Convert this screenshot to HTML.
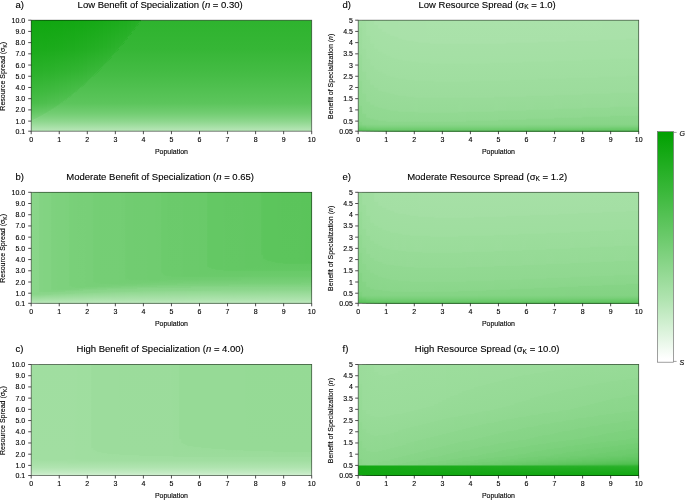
<!DOCTYPE html>
<html><head><meta charset="utf-8"><title>Figure</title>
<style>html,body{margin:0;padding:0;background:#fff}svg{display:block}</style></head>
<body><svg width="685" height="500" viewBox="0 0 685 500" font-family="Liberation Sans, Arial, Helvetica, sans-serif" fill="#000">
<rect width="685" height="500" fill="#fff"/>
<defs><linearGradient id="g0" x2="0" y2="1"><stop offset="0" stop-color="#2eb32e"/><stop offset="0.261" stop-color="#36b636"/><stop offset="0.486" stop-color="#45bc45"/><stop offset="0.748" stop-color="#5cc55c"/><stop offset="0.838" stop-color="#72cd72"/><stop offset="0.883" stop-color="#82d382"/><stop offset="0.919" stop-color="#91d891"/><stop offset="1" stop-color="#bae7ba"/></linearGradient>
<clipPath id="ca"><path d="M31.20 20.20L141.10 20.20L140.36 21.21L139.61 22.22L138.86 23.23L138.10 24.24L137.34 25.25L136.58 26.25L135.81 27.26L135.04 28.27L134.27 29.28L133.49 30.29L132.71 31.30L131.93 32.31L131.14 33.32L130.35 34.33L129.55 35.34L128.75 36.35L127.95 37.35L127.14 38.36L126.33 39.37L125.51 40.38L124.69 41.39L123.86 42.40L123.03 43.41L122.20 44.42L121.36 45.43L120.52 46.44L119.67 47.45L118.81 48.45L117.96 49.46L117.09 50.47L116.22 51.48L115.35 52.49L114.47 53.50L113.59 54.51L112.70 55.52L111.80 56.53L110.90 57.54L109.99 58.55L109.08 59.55L108.16 60.56L107.23 61.57L106.30 62.58L105.36 63.59L104.42 64.60L103.47 65.61L102.51 66.62L101.54 67.63L100.57 68.64L99.59 69.65L98.60 70.65L97.60 71.66L96.60 72.67L95.59 73.68L94.57 74.69L93.54 75.70L92.50 76.71L91.46 77.72L90.40 78.73L89.34 79.74L88.26 80.75L87.18 81.75L86.08 82.76L84.98 83.77L83.86 84.78L82.74 85.79L81.60 86.80L80.45 87.81L79.29 88.82L78.11 89.83L76.92 90.84L75.72 91.85L74.51 92.85L73.27 93.86L72.03 94.87L70.77 95.88L69.49 96.89L68.20 97.90L66.89 98.91L65.56 99.92L64.21 100.93L62.84 101.94L61.45 102.95L60.04 103.95L58.61 104.96L57.15 105.97L55.67 106.98L54.16 107.99L52.63 109.00L51.06 110.01L49.46 111.02L47.83 112.03L46.17 113.04L44.46 114.05L42.72 115.05L40.93 116.06L39.10 117.07L37.21 118.08L35.27 119.09L33.27 120.10L31.20 121.11L31.20 121.11Z"/></clipPath>
<linearGradient id="g1" x2="0" y2="1"><stop offset="0" stop-color="#10a610"/><stop offset="0.261" stop-color="#1aab1a"/><stop offset="0.468" stop-color="#2ab12a"/><stop offset="0.649" stop-color="#3eb93e"/><stop offset="0.748" stop-color="#4bbe4b"/><stop offset="0.829" stop-color="#63c763"/><stop offset="0.874" stop-color="#74ce74"/><stop offset="0.937" stop-color="#93d993"/><stop offset="1" stop-color="#b2e5b2"/></linearGradient>
<linearGradient id="g2" x2="0" y2="1"><stop offset="0" stop-color="#10a610"/><stop offset="0.261" stop-color="#1aab1a"/><stop offset="0.468" stop-color="#2bb12b"/><stop offset="0.649" stop-color="#3fb93f"/><stop offset="0.748" stop-color="#4cbe4c"/><stop offset="0.829" stop-color="#64c864"/><stop offset="0.874" stop-color="#76ce76"/><stop offset="0.919" stop-color="#89d689"/><stop offset="1" stop-color="#b2e5b2"/></linearGradient>
<linearGradient id="g3" x2="0" y2="1"><stop offset="0" stop-color="#10a710"/><stop offset="0.261" stop-color="#1bab1b"/><stop offset="0.468" stop-color="#2bb12b"/><stop offset="0.649" stop-color="#3fba3f"/><stop offset="0.748" stop-color="#4dbf4d"/><stop offset="0.829" stop-color="#65c865"/><stop offset="0.919" stop-color="#89d689"/><stop offset="1" stop-color="#b2e5b2"/></linearGradient>
<linearGradient id="g4" x2="0" y2="1"><stop offset="0" stop-color="#10a710"/><stop offset="0.252" stop-color="#1aab1a"/><stop offset="0.468" stop-color="#2cb22c"/><stop offset="0.649" stop-color="#40ba40"/><stop offset="0.748" stop-color="#4ebf4e"/><stop offset="0.829" stop-color="#66c966"/><stop offset="0.892" stop-color="#7dd17d"/><stop offset="0.919" stop-color="#89d689"/><stop offset="1" stop-color="#b2e5b2"/></linearGradient>
<linearGradient id="g5" x2="0" y2="1"><stop offset="0" stop-color="#10a710"/><stop offset="0.252" stop-color="#1bab1b"/><stop offset="0.468" stop-color="#2cb22c"/><stop offset="0.649" stop-color="#41ba41"/><stop offset="0.748" stop-color="#50c050"/><stop offset="0.865" stop-color="#73cd73"/><stop offset="0.919" stop-color="#89d689"/><stop offset="1" stop-color="#b2e5b2"/></linearGradient>
<linearGradient id="g6" x2="0" y2="1"><stop offset="0" stop-color="#11a711"/><stop offset="0.252" stop-color="#1bab1b"/><stop offset="0.468" stop-color="#2db22d"/><stop offset="0.64" stop-color="#41ba41"/><stop offset="0.748" stop-color="#51c051"/><stop offset="0.865" stop-color="#73cd73"/><stop offset="0.919" stop-color="#89d689"/><stop offset="1" stop-color="#b2e5b2"/></linearGradient>
<linearGradient id="g7" x2="0" y2="1"><stop offset="0" stop-color="#11a711"/><stop offset="0.252" stop-color="#1cab1c"/><stop offset="0.468" stop-color="#2eb32e"/><stop offset="0.64" stop-color="#42bb42"/><stop offset="0.748" stop-color="#52c152"/><stop offset="0.847" stop-color="#6dcb6d"/><stop offset="0.91" stop-color="#85d485"/><stop offset="1" stop-color="#b2e5b2"/></linearGradient>
<linearGradient id="g8" x2="0" y2="1"><stop offset="0" stop-color="#11a711"/><stop offset="0.252" stop-color="#1cac1c"/><stop offset="0.468" stop-color="#2fb32f"/><stop offset="0.64" stop-color="#4b4"/><stop offset="0.757" stop-color="#56c256"/><stop offset="0.838" stop-color="#6aca6a"/><stop offset="0.883" stop-color="#7ad07a"/><stop offset="0.919" stop-color="#89d689"/><stop offset="1" stop-color="#b2e5b2"/></linearGradient>
<linearGradient id="g9" x2="0" y2="1"><stop offset="0" stop-color="#12a712"/><stop offset="0.252" stop-color="#1dac1d"/><stop offset="0.468" stop-color="#30b330"/><stop offset="0.64" stop-color="#45bc45"/><stop offset="0.757" stop-color="#56c256"/><stop offset="0.838" stop-color="#6aca6a"/><stop offset="0.883" stop-color="#7ad07a"/><stop offset="0.919" stop-color="#89d689"/><stop offset="1" stop-color="#b2e5b2"/></linearGradient>
<linearGradient id="g10" x2="0" y2="1"><stop offset="0" stop-color="#12a712"/><stop offset="0.252" stop-color="#1eac1e"/><stop offset="0.459" stop-color="#30b330"/><stop offset="0.631" stop-color="#45bc45"/><stop offset="0.712" stop-color="#51c051"/><stop offset="0.757" stop-color="#56c256"/><stop offset="0.838" stop-color="#6aca6a"/><stop offset="0.883" stop-color="#7ad07a"/><stop offset="0.919" stop-color="#89d689"/><stop offset="1" stop-color="#b2e5b2"/></linearGradient>
<linearGradient id="g11" x2="0" y2="1"><stop offset="0" stop-color="#12a812"/><stop offset="0.252" stop-color="#1eac1e"/><stop offset="0.459" stop-color="#31b431"/><stop offset="0.694" stop-color="#4fc04f"/><stop offset="0.748" stop-color="#54c254"/><stop offset="0.838" stop-color="#6aca6a"/><stop offset="0.883" stop-color="#7ad07a"/><stop offset="0.919" stop-color="#89d689"/><stop offset="1" stop-color="#b2e5b2"/></linearGradient>
<linearGradient id="g12" x2="0" y2="1"><stop offset="0" stop-color="#13a813"/><stop offset="0.252" stop-color="#1fad1f"/><stop offset="0.459" stop-color="#32b432"/><stop offset="0.667" stop-color="#4dbf4d"/><stop offset="0.748" stop-color="#54c254"/><stop offset="0.838" stop-color="#6aca6a"/><stop offset="0.883" stop-color="#7ad07a"/><stop offset="0.919" stop-color="#89d689"/><stop offset="1" stop-color="#b2e5b2"/></linearGradient>
<linearGradient id="g13" x2="0" y2="1"><stop offset="0" stop-color="#13a813"/><stop offset="0.252" stop-color="#20ad20"/><stop offset="0.459" stop-color="#33b533"/><stop offset="0.631" stop-color="#49bd49"/><stop offset="0.748" stop-color="#54c254"/><stop offset="0.838" stop-color="#6aca6a"/><stop offset="0.883" stop-color="#7ad07a"/><stop offset="0.919" stop-color="#89d689"/><stop offset="1" stop-color="#b2e5b2"/></linearGradient>
<linearGradient id="g14" x2="0" y2="1"><stop offset="0" stop-color="#14a814"/><stop offset="0.252" stop-color="#21ad21"/><stop offset="0.459" stop-color="#35b535"/><stop offset="0.595" stop-color="#46bc46"/><stop offset="0.748" stop-color="#54c254"/><stop offset="0.838" stop-color="#6aca6a"/><stop offset="0.883" stop-color="#7ad07a"/><stop offset="0.919" stop-color="#89d689"/><stop offset="1" stop-color="#b2e5b2"/></linearGradient>
<linearGradient id="g15" x2="0" y2="1"><stop offset="0" stop-color="#15a815"/><stop offset="0.252" stop-color="#22ae22"/><stop offset="0.459" stop-color="#37b637"/><stop offset="0.559" stop-color="#43bb43"/><stop offset="0.748" stop-color="#54c254"/><stop offset="0.838" stop-color="#6aca6a"/><stop offset="0.883" stop-color="#7ad07a"/><stop offset="0.919" stop-color="#89d689"/><stop offset="1" stop-color="#b2e5b2"/></linearGradient>
<linearGradient id="g16" x2="0" y2="1"><stop offset="0" stop-color="#15a915"/><stop offset="0.252" stop-color="#23ae23"/><stop offset="0.45" stop-color="#37b637"/><stop offset="0.532" stop-color="#41ba41"/><stop offset="0.748" stop-color="#54c254"/><stop offset="0.838" stop-color="#6aca6a"/><stop offset="0.883" stop-color="#7ad07a"/><stop offset="0.919" stop-color="#89d689"/><stop offset="1" stop-color="#b2e5b2"/></linearGradient>
<linearGradient id="g17" x2="0" y2="1"><stop offset="0" stop-color="#16a916"/><stop offset="0.252" stop-color="#24af24"/><stop offset="0.505" stop-color="#3eb93e"/><stop offset="0.748" stop-color="#54c254"/><stop offset="0.838" stop-color="#6aca6a"/><stop offset="0.883" stop-color="#7ad07a"/><stop offset="0.919" stop-color="#89d689"/><stop offset="1" stop-color="#b2e5b2"/></linearGradient>
<linearGradient id="g18" x2="0" y2="1"><stop offset="0" stop-color="#17a917"/><stop offset="0.243" stop-color="#25af25"/><stop offset="0.477" stop-color="#3cb83c"/><stop offset="0.739" stop-color="#53c153"/><stop offset="0.793" stop-color="#5fc65f"/><stop offset="0.847" stop-color="#6dcb6d"/><stop offset="0.91" stop-color="#85d485"/><stop offset="1" stop-color="#b2e5b2"/></linearGradient>
<linearGradient id="g19" x2="0" y2="1"><stop offset="0" stop-color="#18aa18"/><stop offset="0.243" stop-color="#26b026"/><stop offset="0.414" stop-color="#38b638"/><stop offset="0.676" stop-color="#4dbf4d"/><stop offset="0.748" stop-color="#54c254"/><stop offset="0.838" stop-color="#6aca6a"/><stop offset="0.883" stop-color="#7ad07a"/><stop offset="0.919" stop-color="#89d689"/><stop offset="1" stop-color="#b2e5b2"/></linearGradient>
<linearGradient id="g20" x2="0" y2="1"><stop offset="0" stop-color="#19aa19"/><stop offset="0.243" stop-color="#28b028"/><stop offset="0.378" stop-color="#35b635"/><stop offset="0.649" stop-color="#4bbe4b"/><stop offset="0.748" stop-color="#54c254"/><stop offset="0.838" stop-color="#6aca6a"/><stop offset="0.883" stop-color="#7ad07a"/><stop offset="0.919" stop-color="#89d689"/><stop offset="1" stop-color="#b2e5b2"/></linearGradient>
<linearGradient id="g21" x2="0" y2="1"><stop offset="0" stop-color="#1aab1a"/><stop offset="0.243" stop-color="#2ab12a"/><stop offset="0.342" stop-color="#33b533"/><stop offset="0.541" stop-color="#41ba41"/><stop offset="0.748" stop-color="#54c254"/><stop offset="0.838" stop-color="#6aca6a"/><stop offset="0.883" stop-color="#7ad07a"/><stop offset="0.919" stop-color="#89d689"/><stop offset="1" stop-color="#b2e5b2"/></linearGradient>
<linearGradient id="g22" x2="0" y2="1"><stop offset="0" stop-color="#1bab1b"/><stop offset="0.243" stop-color="#2cb22c"/><stop offset="0.333" stop-color="#33b533"/><stop offset="0.532" stop-color="#41ba41"/><stop offset="0.748" stop-color="#54c254"/><stop offset="0.838" stop-color="#6aca6a"/><stop offset="0.883" stop-color="#7ad07a"/><stop offset="0.919" stop-color="#89d689"/><stop offset="1" stop-color="#b2e5b2"/></linearGradient>
<linearGradient id="g23" x2="0" y2="1"><stop offset="0" stop-color="#1dac1d"/><stop offset="0.514" stop-color="#3fb93f"/><stop offset="0.748" stop-color="#54c254"/><stop offset="0.838" stop-color="#6aca6a"/><stop offset="0.883" stop-color="#7ad07a"/><stop offset="0.919" stop-color="#89d689"/><stop offset="1" stop-color="#b2e5b2"/></linearGradient>
<linearGradient id="g24" x2="0" y2="1"><stop offset="0" stop-color="#1eac1e"/><stop offset="0.207" stop-color="#2cb22c"/><stop offset="0.477" stop-color="#3cb83c"/><stop offset="0.739" stop-color="#53c153"/><stop offset="0.793" stop-color="#5fc65f"/><stop offset="0.847" stop-color="#6dcb6d"/><stop offset="0.91" stop-color="#85d485"/><stop offset="1" stop-color="#b2e5b2"/></linearGradient>
<linearGradient id="g25" x2="0" y2="1"><stop offset="0" stop-color="#20ad20"/><stop offset="0.162" stop-color="#2bb12b"/><stop offset="0.297" stop-color="#31b431"/><stop offset="0.495" stop-color="#3eb93e"/><stop offset="0.748" stop-color="#54c254"/><stop offset="0.838" stop-color="#6aca6a"/><stop offset="0.883" stop-color="#7ad07a"/><stop offset="0.919" stop-color="#89d689"/><stop offset="1" stop-color="#b2e5b2"/></linearGradient>
<linearGradient id="g26" x2="0" y2="1"><stop offset="0" stop-color="#22ae22"/><stop offset="0.117" stop-color="#2ab12a"/><stop offset="0.27" stop-color="#2fb32f"/><stop offset="0.495" stop-color="#3eb93e"/><stop offset="0.748" stop-color="#54c254"/><stop offset="0.838" stop-color="#6aca6a"/><stop offset="0.883" stop-color="#7ad07a"/><stop offset="0.919" stop-color="#89d689"/><stop offset="1" stop-color="#b2e5b2"/></linearGradient>
<linearGradient id="g27" x2="0" y2="1"><stop offset="0" stop-color="#24af24"/><stop offset="0.081" stop-color="#29b029"/><stop offset="0.27" stop-color="#2fb32f"/><stop offset="0.495" stop-color="#3eb93e"/><stop offset="0.748" stop-color="#54c254"/><stop offset="0.838" stop-color="#6aca6a"/><stop offset="0.883" stop-color="#7ad07a"/><stop offset="0.919" stop-color="#89d689"/><stop offset="1" stop-color="#b2e5b2"/></linearGradient>
<linearGradient id="g28" x2="0" y2="1"><stop offset="0" stop-color="#26b026"/><stop offset="0.261" stop-color="#2fb32f"/><stop offset="0.486" stop-color="#3db93d"/><stop offset="0.748" stop-color="#54c254"/><stop offset="0.838" stop-color="#6aca6a"/><stop offset="0.883" stop-color="#7ad07a"/><stop offset="0.919" stop-color="#89d689"/><stop offset="1" stop-color="#b2e5b2"/></linearGradient>
<linearGradient id="g29" x2="0" y2="1"><stop offset="0" stop-color="#89d689"/><stop offset="0.919" stop-color="#8ad68a"/><stop offset="0.928" stop-color="#8cd68c"/><stop offset="0.937" stop-color="#94d994"/><stop offset="0.982" stop-color="#afe3af"/><stop offset="1" stop-color="#bfe9bf"/></linearGradient>
<linearGradient id="g30" x2="0" y2="1"><stop offset="0" stop-color="#89d589"/><stop offset="0.91" stop-color="#89d689"/><stop offset="0.919" stop-color="#8ad68a"/><stop offset="0.982" stop-color="#afe3af"/><stop offset="1" stop-color="#bfe9bf"/></linearGradient>
<linearGradient id="g31" x2="0" y2="1"><stop offset="0" stop-color="#88d588"/><stop offset="0.91" stop-color="#89d689"/><stop offset="0.919" stop-color="#8ad68a"/><stop offset="0.982" stop-color="#afe3af"/><stop offset="1" stop-color="#bfe9bf"/></linearGradient>
<linearGradient id="g32" x2="0" y2="1"><stop offset="0" stop-color="#88d588"/><stop offset="0.91" stop-color="#89d589"/><stop offset="0.919" stop-color="#8ad68a"/><stop offset="0.982" stop-color="#afe3af"/><stop offset="1" stop-color="#bfe9bf"/></linearGradient>
<linearGradient id="g33" x2="0" y2="1"><stop offset="0" stop-color="#83d383"/><stop offset="0.892" stop-color="#83d383"/><stop offset="0.901" stop-color="#88d588"/><stop offset="0.919" stop-color="#8ad68a"/><stop offset="0.982" stop-color="#afe3af"/><stop offset="1" stop-color="#bfe9bf"/></linearGradient>
<linearGradient id="g34" x2="0" y2="1"><stop offset="0" stop-color="#83d383"/><stop offset="0.892" stop-color="#83d383"/><stop offset="0.901" stop-color="#88d588"/><stop offset="0.919" stop-color="#8bd68b"/><stop offset="0.964" stop-color="#a5e0a5"/><stop offset="0.982" stop-color="#afe3af"/><stop offset="1" stop-color="#bfe9bf"/></linearGradient>
<linearGradient id="g35" x2="0" y2="1"><stop offset="0" stop-color="#82d382"/><stop offset="0.892" stop-color="#82d382"/><stop offset="0.901" stop-color="#88d588"/><stop offset="0.919" stop-color="#8bd68b"/><stop offset="0.937" stop-color="#96da96"/><stop offset="0.982" stop-color="#b0e4b0"/><stop offset="1" stop-color="#bfe9bf"/></linearGradient>
<linearGradient id="g36" x2="0" y2="1"><stop offset="0" stop-color="#82d382"/><stop offset="0.892" stop-color="#82d382"/><stop offset="0.901" stop-color="#88d588"/><stop offset="0.919" stop-color="#8bd68b"/><stop offset="0.928" stop-color="#92d992"/><stop offset="0.982" stop-color="#b0e4b0"/><stop offset="1" stop-color="#bfe9bf"/></linearGradient>
<linearGradient id="g37" x2="0" y2="1"><stop offset="0" stop-color="#81d381"/><stop offset="0.892" stop-color="#82d382"/><stop offset="0.901" stop-color="#88d588"/><stop offset="0.919" stop-color="#8bd68b"/><stop offset="0.928" stop-color="#93d993"/><stop offset="0.982" stop-color="#b0e4b0"/><stop offset="1" stop-color="#bfe9bf"/></linearGradient>
<linearGradient id="g38" x2="0" y2="1"><stop offset="0" stop-color="#7ed17e"/><stop offset="0.874" stop-color="#7ed17e"/><stop offset="0.883" stop-color="#81d381"/><stop offset="0.892" stop-color="#82d382"/><stop offset="0.901" stop-color="#88d588"/><stop offset="0.919" stop-color="#8cd78c"/><stop offset="0.928" stop-color="#93d993"/><stop offset="0.982" stop-color="#b0e4b0"/><stop offset="1" stop-color="#bfe9bf"/></linearGradient>
<linearGradient id="g39" x2="0" y2="1"><stop offset="0" stop-color="#7ed17e"/><stop offset="0.874" stop-color="#7ed17e"/><stop offset="0.883" stop-color="#81d381"/><stop offset="0.892" stop-color="#82d382"/><stop offset="0.901" stop-color="#88d588"/><stop offset="0.91" stop-color="#8ad68a"/><stop offset="0.982" stop-color="#b0e4b0"/><stop offset="1" stop-color="#bfe9bf"/></linearGradient>
<linearGradient id="g40" x2="0" y2="1"><stop offset="0" stop-color="#7dd17d"/><stop offset="0.874" stop-color="#7ed17e"/><stop offset="0.883" stop-color="#81d381"/><stop offset="0.892" stop-color="#82d382"/><stop offset="0.901" stop-color="#88d588"/><stop offset="0.91" stop-color="#8ad68a"/><stop offset="0.982" stop-color="#b0e4b0"/><stop offset="1" stop-color="#bfe9bf"/></linearGradient>
<linearGradient id="g41" x2="0" y2="1"><stop offset="0" stop-color="#7dd17d"/><stop offset="0.874" stop-color="#7dd17d"/><stop offset="0.883" stop-color="#81d381"/><stop offset="0.892" stop-color="#82d382"/><stop offset="0.901" stop-color="#89d589"/><stop offset="0.91" stop-color="#8ad68a"/><stop offset="0.982" stop-color="#b0e4b0"/><stop offset="1" stop-color="#bfe9bf"/></linearGradient>
<linearGradient id="g42" x2="0" y2="1"><stop offset="0" stop-color="#7dd17d"/><stop offset="0.874" stop-color="#7dd17d"/><stop offset="0.883" stop-color="#81d381"/><stop offset="0.892" stop-color="#83d383"/><stop offset="0.901" stop-color="#89d589"/><stop offset="0.91" stop-color="#8bd68b"/><stop offset="0.982" stop-color="#b1e4b1"/><stop offset="1" stop-color="#bfe9bf"/></linearGradient>
<linearGradient id="g43" x2="0" y2="1"><stop offset="0" stop-color="#7dd17d"/><stop offset="0.874" stop-color="#7dd17d"/><stop offset="0.883" stop-color="#81d381"/><stop offset="0.892" stop-color="#83d383"/><stop offset="0.901" stop-color="#89d689"/><stop offset="0.91" stop-color="#8bd68b"/><stop offset="0.928" stop-color="#95da95"/><stop offset="0.982" stop-color="#b1e4b1"/><stop offset="1" stop-color="#bfe9bf"/></linearGradient>
<linearGradient id="g44" x2="0" y2="1"><stop offset="0" stop-color="#7cd17c"/><stop offset="0.874" stop-color="#7dd17d"/><stop offset="0.892" stop-color="#88d588"/><stop offset="0.91" stop-color="#8bd68b"/><stop offset="0.919" stop-color="#91d991"/><stop offset="0.982" stop-color="#b1e4b1"/><stop offset="1" stop-color="#bfe9bf"/></linearGradient>
<linearGradient id="g45" x2="0" y2="1"><stop offset="0" stop-color="#7cd17c"/><stop offset="0.865" stop-color="#7dd17d"/><stop offset="0.874" stop-color="#7dd17d"/><stop offset="0.892" stop-color="#88d588"/><stop offset="0.91" stop-color="#8bd68b"/><stop offset="0.919" stop-color="#92d992"/><stop offset="0.982" stop-color="#b1e4b1"/><stop offset="1" stop-color="#bfe9bf"/></linearGradient>
<linearGradient id="g46" x2="0" y2="1"><stop offset="0" stop-color="#79d079"/><stop offset="0.838" stop-color="#79d079"/><stop offset="0.847" stop-color="#7cd17c"/><stop offset="0.874" stop-color="#7dd17d"/><stop offset="0.892" stop-color="#88d588"/><stop offset="0.91" stop-color="#8bd68b"/><stop offset="0.919" stop-color="#92d992"/><stop offset="0.982" stop-color="#b1e4b1"/><stop offset="1" stop-color="#bfe9bf"/></linearGradient>
<linearGradient id="g47" x2="0" y2="1"><stop offset="0" stop-color="#79d079"/><stop offset="0.847" stop-color="#79d079"/><stop offset="0.856" stop-color="#7cd17c"/><stop offset="0.874" stop-color="#7ed17e"/><stop offset="0.892" stop-color="#88d588"/><stop offset="0.91" stop-color="#8cd68c"/><stop offset="0.919" stop-color="#92d992"/><stop offset="0.982" stop-color="#b1e4b1"/><stop offset="1" stop-color="#bfe9bf"/></linearGradient>
<linearGradient id="g48" x2="0" y2="1"><stop offset="0" stop-color="#79cf79"/><stop offset="0.847" stop-color="#79d079"/><stop offset="0.856" stop-color="#7cd17c"/><stop offset="0.874" stop-color="#7ed17e"/><stop offset="0.892" stop-color="#88d588"/><stop offset="0.91" stop-color="#8cd78c"/><stop offset="0.919" stop-color="#93d993"/><stop offset="0.982" stop-color="#b2e4b2"/><stop offset="1" stop-color="#bfe9bf"/></linearGradient>
<linearGradient id="g49" x2="0" y2="1"><stop offset="0" stop-color="#79cf79"/><stop offset="0.856" stop-color="#79d079"/><stop offset="0.865" stop-color="#7dd17d"/><stop offset="0.874" stop-color="#7ed17e"/><stop offset="0.892" stop-color="#89d589"/><stop offset="0.901" stop-color="#8ad68a"/><stop offset="0.982" stop-color="#b2e4b2"/><stop offset="1" stop-color="#bfe9bf"/></linearGradient>
<linearGradient id="g50" x2="0" y2="1"><stop offset="0" stop-color="#78cf78"/><stop offset="0.856" stop-color="#79d079"/><stop offset="0.865" stop-color="#7dd17d"/><stop offset="0.874" stop-color="#7ed17e"/><stop offset="0.892" stop-color="#89d589"/><stop offset="0.901" stop-color="#8ad68a"/><stop offset="0.982" stop-color="#b2e4b2"/><stop offset="1" stop-color="#bfe9bf"/></linearGradient>
<linearGradient id="g51" x2="0" y2="1"><stop offset="0" stop-color="#78cf78"/><stop offset="0.856" stop-color="#79d079"/><stop offset="0.874" stop-color="#81d381"/><stop offset="0.883" stop-color="#83d383"/><stop offset="0.892" stop-color="#89d689"/><stop offset="0.901" stop-color="#8bd68b"/><stop offset="0.982" stop-color="#b2e4b2"/><stop offset="1" stop-color="#bfe9bf"/></linearGradient>
<linearGradient id="g52" x2="0" y2="1"><stop offset="0" stop-color="#78cf78"/><stop offset="0.856" stop-color="#79d079"/><stop offset="0.874" stop-color="#82d382"/><stop offset="0.883" stop-color="#88d588"/><stop offset="0.901" stop-color="#8bd68b"/><stop offset="0.919" stop-color="#94da94"/><stop offset="0.982" stop-color="#b2e4b2"/><stop offset="1" stop-color="#bfe9bf"/></linearGradient>
<linearGradient id="g53" x2="0" y2="1"><stop offset="0" stop-color="#78cf78"/><stop offset="0.847" stop-color="#78cf78"/><stop offset="0.856" stop-color="#7cd17c"/><stop offset="0.865" stop-color="#7dd17d"/><stop offset="0.883" stop-color="#88d588"/><stop offset="0.901" stop-color="#8bd68b"/><stop offset="0.919" stop-color="#94da94"/><stop offset="0.982" stop-color="#b2e4b2"/><stop offset="1" stop-color="#bfe9bf"/></linearGradient>
<linearGradient id="g54" x2="0" y2="1"><stop offset="0" stop-color="#78cf78"/><stop offset="0.847" stop-color="#78cf78"/><stop offset="0.856" stop-color="#7cd17c"/><stop offset="0.865" stop-color="#7dd17d"/><stop offset="0.883" stop-color="#88d588"/><stop offset="0.901" stop-color="#8bd68b"/><stop offset="0.919" stop-color="#95da95"/><stop offset="0.982" stop-color="#b2e5b2"/><stop offset="1" stop-color="#bfe9bf"/></linearGradient>
<linearGradient id="g55" x2="0" y2="1"><stop offset="0" stop-color="#78cf78"/><stop offset="0.847" stop-color="#78cf78"/><stop offset="0.856" stop-color="#7cd17c"/><stop offset="0.865" stop-color="#7dd17d"/><stop offset="0.883" stop-color="#88d588"/><stop offset="0.901" stop-color="#8bd68b"/><stop offset="0.91" stop-color="#91d991"/><stop offset="0.982" stop-color="#b2e5b2"/><stop offset="1" stop-color="#bfe9bf"/></linearGradient>
<linearGradient id="g56" x2="0" y2="1"><stop offset="0" stop-color="#77cf77"/><stop offset="0.847" stop-color="#78cf78"/><stop offset="0.856" stop-color="#7cd17c"/><stop offset="0.865" stop-color="#7ed17e"/><stop offset="0.883" stop-color="#88d588"/><stop offset="0.901" stop-color="#8bd68b"/><stop offset="0.91" stop-color="#91d991"/><stop offset="0.982" stop-color="#b2e5b2"/><stop offset="1" stop-color="#bfe9bf"/></linearGradient>
<linearGradient id="g57" x2="0" y2="1"><stop offset="0" stop-color="#75ce75"/><stop offset="0.802" stop-color="#75ce75"/><stop offset="0.811" stop-color="#77cf77"/><stop offset="0.847" stop-color="#78cf78"/><stop offset="0.856" stop-color="#7cd17c"/><stop offset="0.865" stop-color="#7ed17e"/><stop offset="0.883" stop-color="#88d588"/><stop offset="0.901" stop-color="#8bd68b"/><stop offset="0.91" stop-color="#92d992"/><stop offset="0.982" stop-color="#b3e5b3"/><stop offset="1" stop-color="#bfe9bf"/></linearGradient>
<linearGradient id="g58" x2="0" y2="1"><stop offset="0" stop-color="#75ce75"/><stop offset="0.811" stop-color="#75ce75"/><stop offset="0.82" stop-color="#77cf77"/><stop offset="0.847" stop-color="#78cf78"/><stop offset="0.856" stop-color="#7cd17c"/><stop offset="0.865" stop-color="#7ed17e"/><stop offset="0.883" stop-color="#88d588"/><stop offset="0.901" stop-color="#8bd68b"/><stop offset="0.91" stop-color="#92d992"/><stop offset="0.982" stop-color="#b3e5b3"/><stop offset="1" stop-color="#bfe9bf"/></linearGradient>
<linearGradient id="g59" x2="0" y2="1"><stop offset="0" stop-color="#75ce75"/><stop offset="0.811" stop-color="#75ce75"/><stop offset="0.82" stop-color="#77cf77"/><stop offset="0.847" stop-color="#78cf78"/><stop offset="0.865" stop-color="#81d381"/><stop offset="0.874" stop-color="#83d383"/><stop offset="0.883" stop-color="#89d589"/><stop offset="0.901" stop-color="#8cd68c"/><stop offset="0.91" stop-color="#92d992"/><stop offset="0.982" stop-color="#b3e5b3"/><stop offset="1" stop-color="#bfe9bf"/></linearGradient>
<linearGradient id="g60" x2="0" y2="1"><stop offset="0" stop-color="#74ce74"/><stop offset="0.82" stop-color="#75ce75"/><stop offset="0.829" stop-color="#78cf78"/><stop offset="0.847" stop-color="#79cf79"/><stop offset="0.865" stop-color="#81d381"/><stop offset="0.874" stop-color="#83d383"/><stop offset="0.883" stop-color="#89d589"/><stop offset="0.901" stop-color="#8cd78c"/><stop offset="0.91" stop-color="#92d992"/><stop offset="0.982" stop-color="#b3e5b3"/><stop offset="1" stop-color="#bfe9bf"/></linearGradient>
<linearGradient id="g61" x2="0" y2="1"><stop offset="0" stop-color="#74ce74"/><stop offset="0.82" stop-color="#75ce75"/><stop offset="0.829" stop-color="#78cf78"/><stop offset="0.847" stop-color="#79cf79"/><stop offset="0.865" stop-color="#81d381"/><stop offset="0.874" stop-color="#83d383"/><stop offset="0.883" stop-color="#89d589"/><stop offset="0.892" stop-color="#8ad68a"/><stop offset="0.982" stop-color="#b3e5b3"/><stop offset="1" stop-color="#bfe9bf"/></linearGradient>
<linearGradient id="g62" x2="0" y2="1"><stop offset="0" stop-color="#74ce74"/><stop offset="0.82" stop-color="#75ce75"/><stop offset="0.829" stop-color="#78cf78"/><stop offset="0.847" stop-color="#79cf79"/><stop offset="0.865" stop-color="#81d381"/><stop offset="0.874" stop-color="#83d383"/><stop offset="0.883" stop-color="#89d689"/><stop offset="0.892" stop-color="#8ad68a"/><stop offset="0.982" stop-color="#b3e5b3"/><stop offset="1" stop-color="#bfe9bf"/></linearGradient>
<linearGradient id="g63" x2="0" y2="1"><stop offset="0" stop-color="#74ce74"/><stop offset="0.82" stop-color="#75ce75"/><stop offset="0.829" stop-color="#78cf78"/><stop offset="0.847" stop-color="#79d079"/><stop offset="0.865" stop-color="#82d382"/><stop offset="0.874" stop-color="#83d383"/><stop offset="0.883" stop-color="#89d689"/><stop offset="0.892" stop-color="#8bd68b"/><stop offset="0.982" stop-color="#b3e5b3"/><stop offset="1" stop-color="#bfe9bf"/></linearGradient>
<linearGradient id="g64" x2="0" y2="1"><stop offset="0" stop-color="#74ce74"/><stop offset="0.82" stop-color="#75ce75"/><stop offset="0.829" stop-color="#78cf78"/><stop offset="0.847" stop-color="#79d079"/><stop offset="0.865" stop-color="#82d382"/><stop offset="0.874" stop-color="#88d588"/><stop offset="0.892" stop-color="#8bd68b"/><stop offset="0.982" stop-color="#b3e5b3"/><stop offset="1" stop-color="#bfe9bf"/></linearGradient>
<linearGradient id="g65" x2="0" y2="1"><stop offset="0" stop-color="#74ce74"/><stop offset="0.82" stop-color="#75ce75"/><stop offset="0.829" stop-color="#78cf78"/><stop offset="0.847" stop-color="#79d079"/><stop offset="0.865" stop-color="#82d382"/><stop offset="0.874" stop-color="#88d588"/><stop offset="0.892" stop-color="#8bd68b"/><stop offset="0.919" stop-color="#97db97"/><stop offset="0.982" stop-color="#b3e5b3"/><stop offset="1" stop-color="#bfe9bf"/></linearGradient>
<linearGradient id="g66" x2="0" y2="1"><stop offset="0" stop-color="#74ce74"/><stop offset="0.82" stop-color="#75ce75"/><stop offset="0.856" stop-color="#7dd17d"/><stop offset="0.874" stop-color="#88d588"/><stop offset="0.892" stop-color="#8bd68b"/><stop offset="0.91" stop-color="#94d994"/><stop offset="0.973" stop-color="#aee3ae"/><stop offset="1" stop-color="#bfe9bf"/></linearGradient>
<linearGradient id="g67" x2="0" y2="1"><stop offset="0" stop-color="#74ce74"/><stop offset="0.82" stop-color="#75ce75"/><stop offset="0.856" stop-color="#7ed17e"/><stop offset="0.874" stop-color="#88d588"/><stop offset="0.892" stop-color="#8bd68b"/><stop offset="0.91" stop-color="#94d994"/><stop offset="0.973" stop-color="#aee3ae"/><stop offset="1" stop-color="#bfe9bf"/></linearGradient>
<linearGradient id="g68" x2="0" y2="1"><stop offset="0" stop-color="#74ce74"/><stop offset="0.82" stop-color="#75ce75"/><stop offset="0.856" stop-color="#7ed17e"/><stop offset="0.874" stop-color="#88d588"/><stop offset="0.892" stop-color="#8bd68b"/><stop offset="0.91" stop-color="#94da94"/><stop offset="0.973" stop-color="#aee3ae"/><stop offset="1" stop-color="#bfe9bf"/></linearGradient>
<linearGradient id="g69" x2="0" y2="1"><stop offset="0" stop-color="#74ce74"/><stop offset="0.811" stop-color="#74ce74"/><stop offset="0.838" stop-color="#78cf78"/><stop offset="0.847" stop-color="#7cd17c"/><stop offset="0.856" stop-color="#7ed17e"/><stop offset="0.874" stop-color="#88d588"/><stop offset="0.892" stop-color="#8bd68b"/><stop offset="0.901" stop-color="#91d891"/><stop offset="0.973" stop-color="#aee3ae"/><stop offset="1" stop-color="#bfe9bf"/></linearGradient>
<linearGradient id="g70" x2="0" y2="1"><stop offset="0" stop-color="#73cd73"/><stop offset="0.811" stop-color="#74ce74"/><stop offset="0.838" stop-color="#78cf78"/><stop offset="0.856" stop-color="#81d381"/><stop offset="0.865" stop-color="#82d382"/><stop offset="0.874" stop-color="#88d588"/><stop offset="0.892" stop-color="#8bd68b"/><stop offset="0.901" stop-color="#91d891"/><stop offset="0.973" stop-color="#aee3ae"/><stop offset="1" stop-color="#bfe9bf"/></linearGradient>
<linearGradient id="g71" x2="0" y2="1"><stop offset="0" stop-color="#73cd73"/><stop offset="0.811" stop-color="#74ce74"/><stop offset="0.838" stop-color="#78cf78"/><stop offset="0.856" stop-color="#81d381"/><stop offset="0.865" stop-color="#83d383"/><stop offset="0.874" stop-color="#88d588"/><stop offset="0.892" stop-color="#8bd68b"/><stop offset="0.901" stop-color="#91d891"/><stop offset="0.973" stop-color="#aee3ae"/><stop offset="1" stop-color="#bfe9bf"/></linearGradient>
<linearGradient id="g72" x2="0" y2="1"><stop offset="0" stop-color="#71cc71"/><stop offset="0.775" stop-color="#71cd71"/><stop offset="0.784" stop-color="#73cd73"/><stop offset="0.82" stop-color="#75ce75"/><stop offset="0.829" stop-color="#78cf78"/><stop offset="0.838" stop-color="#79cf79"/><stop offset="0.856" stop-color="#81d381"/><stop offset="0.865" stop-color="#83d383"/><stop offset="0.874" stop-color="#89d589"/><stop offset="0.892" stop-color="#8bd68b"/><stop offset="0.901" stop-color="#91d991"/><stop offset="0.973" stop-color="#afe3af"/><stop offset="1" stop-color="#bfe9bf"/></linearGradient>
<linearGradient id="g73" x2="0" y2="1"><stop offset="0" stop-color="#71cc71"/><stop offset="0.775" stop-color="#71cc71"/><stop offset="0.784" stop-color="#73cd73"/><stop offset="0.82" stop-color="#75ce75"/><stop offset="0.829" stop-color="#78cf78"/><stop offset="0.838" stop-color="#79cf79"/><stop offset="0.856" stop-color="#81d381"/><stop offset="0.865" stop-color="#83d383"/><stop offset="0.874" stop-color="#89d589"/><stop offset="0.892" stop-color="#8bd68b"/><stop offset="0.901" stop-color="#91d991"/><stop offset="0.973" stop-color="#afe3af"/><stop offset="1" stop-color="#bfe9bf"/></linearGradient>
<linearGradient id="g74" x2="0" y2="1"><stop offset="0" stop-color="#71cc71"/><stop offset="0.784" stop-color="#71cc71"/><stop offset="0.793" stop-color="#73cd73"/><stop offset="0.82" stop-color="#75ce75"/><stop offset="0.829" stop-color="#78cf78"/><stop offset="0.838" stop-color="#79cf79"/><stop offset="0.856" stop-color="#81d381"/><stop offset="0.865" stop-color="#83d383"/><stop offset="0.874" stop-color="#89d589"/><stop offset="0.892" stop-color="#8bd68b"/><stop offset="0.901" stop-color="#92d992"/><stop offset="0.973" stop-color="#afe3af"/><stop offset="1" stop-color="#bfe9bf"/></linearGradient>
<linearGradient id="g75" x2="0" y2="1"><stop offset="0" stop-color="#71cc71"/><stop offset="0.784" stop-color="#71cc71"/><stop offset="0.793" stop-color="#73cd73"/><stop offset="0.82" stop-color="#75ce75"/><stop offset="0.838" stop-color="#79d079"/><stop offset="0.856" stop-color="#81d381"/><stop offset="0.865" stop-color="#83d383"/><stop offset="0.874" stop-color="#89d589"/><stop offset="0.892" stop-color="#8cd68c"/><stop offset="0.901" stop-color="#92d992"/><stop offset="0.973" stop-color="#afe3af"/><stop offset="1" stop-color="#bfe9bf"/></linearGradient>
<linearGradient id="g76" x2="0" y2="1"><stop offset="0" stop-color="#70cc70"/><stop offset="0.784" stop-color="#71cc71"/><stop offset="0.793" stop-color="#73cd73"/><stop offset="0.82" stop-color="#75ce75"/><stop offset="0.838" stop-color="#79d079"/><stop offset="0.856" stop-color="#82d382"/><stop offset="0.865" stop-color="#83d383"/><stop offset="0.874" stop-color="#89d589"/><stop offset="0.892" stop-color="#8cd68c"/><stop offset="0.901" stop-color="#92d992"/><stop offset="0.973" stop-color="#afe3af"/><stop offset="1" stop-color="#bfe9bf"/></linearGradient>
<linearGradient id="g77" x2="0" y2="1"><stop offset="0" stop-color="#70cc70"/><stop offset="0.784" stop-color="#71cc71"/><stop offset="0.793" stop-color="#73cd73"/><stop offset="0.82" stop-color="#75ce75"/><stop offset="0.838" stop-color="#79d079"/><stop offset="0.856" stop-color="#82d382"/><stop offset="0.865" stop-color="#83d383"/><stop offset="0.874" stop-color="#89d689"/><stop offset="0.892" stop-color="#8cd78c"/><stop offset="0.901" stop-color="#92d992"/><stop offset="0.973" stop-color="#afe3af"/><stop offset="1" stop-color="#bfe9bf"/></linearGradient>
<linearGradient id="g78" x2="0" y2="1"><stop offset="0" stop-color="#70cc70"/><stop offset="0.784" stop-color="#71cc71"/><stop offset="0.793" stop-color="#73cd73"/><stop offset="0.82" stop-color="#75ce75"/><stop offset="0.838" stop-color="#7cd17c"/><stop offset="0.847" stop-color="#7dd17d"/><stop offset="0.865" stop-color="#88d588"/><stop offset="0.892" stop-color="#8cd78c"/><stop offset="0.901" stop-color="#92d992"/><stop offset="0.973" stop-color="#afe3af"/><stop offset="1" stop-color="#bfe9bf"/></linearGradient>
<linearGradient id="g79" x2="0" y2="1"><stop offset="0" stop-color="#70cc70"/><stop offset="0.784" stop-color="#71cc71"/><stop offset="0.793" stop-color="#73cd73"/><stop offset="0.82" stop-color="#75ce75"/><stop offset="0.838" stop-color="#7cd17c"/><stop offset="0.847" stop-color="#7dd17d"/><stop offset="0.865" stop-color="#88d588"/><stop offset="0.883" stop-color="#8ad68a"/><stop offset="0.973" stop-color="#afe3af"/><stop offset="1" stop-color="#bfe9bf"/></linearGradient>
<linearGradient id="g80" x2="0" y2="1"><stop offset="0" stop-color="#70cc70"/><stop offset="0.784" stop-color="#71cc71"/><stop offset="0.793" stop-color="#73cd73"/><stop offset="0.811" stop-color="#74ce74"/><stop offset="0.847" stop-color="#7dd17d"/><stop offset="0.865" stop-color="#88d588"/><stop offset="0.883" stop-color="#8ad68a"/><stop offset="0.973" stop-color="#afe3af"/><stop offset="1" stop-color="#bfe9bf"/></linearGradient>
<linearGradient id="g81" x2="0" y2="1"><stop offset="0" stop-color="#70cc70"/><stop offset="0.784" stop-color="#71cc71"/><stop offset="0.793" stop-color="#73cd73"/><stop offset="0.811" stop-color="#74ce74"/><stop offset="0.847" stop-color="#7ed17e"/><stop offset="0.865" stop-color="#88d588"/><stop offset="0.883" stop-color="#8bd68b"/><stop offset="0.973" stop-color="#afe3af"/><stop offset="1" stop-color="#bfe9bf"/></linearGradient>
<linearGradient id="g82" x2="0" y2="1"><stop offset="0" stop-color="#70cc70"/><stop offset="0.784" stop-color="#71cc71"/><stop offset="0.793" stop-color="#73cd73"/><stop offset="0.811" stop-color="#74ce74"/><stop offset="0.847" stop-color="#7ed17e"/><stop offset="0.865" stop-color="#88d588"/><stop offset="0.883" stop-color="#8bd68b"/><stop offset="0.955" stop-color="#a8e1a8"/><stop offset="0.982" stop-color="#b4e5b4"/><stop offset="1" stop-color="#bfe9bf"/></linearGradient>
<linearGradient id="g83" x2="0" y2="1"><stop offset="0" stop-color="#70cc70"/><stop offset="0.784" stop-color="#70cc70"/><stop offset="0.793" stop-color="#73cd73"/><stop offset="0.811" stop-color="#74ce74"/><stop offset="0.82" stop-color="#77cf77"/><stop offset="0.829" stop-color="#78cf78"/><stop offset="0.838" stop-color="#7cd17c"/><stop offset="0.847" stop-color="#7ed17e"/><stop offset="0.865" stop-color="#88d588"/><stop offset="0.883" stop-color="#8bd68b"/><stop offset="0.91" stop-color="#96da96"/><stop offset="0.973" stop-color="#afe3af"/><stop offset="1" stop-color="#bfe9bf"/></linearGradient>
<linearGradient id="g84" x2="0" y2="1"><stop offset="0" stop-color="#70cc70"/><stop offset="0.784" stop-color="#70cc70"/><stop offset="0.811" stop-color="#74ce74"/><stop offset="0.82" stop-color="#77cf77"/><stop offset="0.829" stop-color="#78cf78"/><stop offset="0.838" stop-color="#7cd17c"/><stop offset="0.847" stop-color="#7ed17e"/><stop offset="0.865" stop-color="#88d588"/><stop offset="0.883" stop-color="#8bd68b"/><stop offset="0.91" stop-color="#96da96"/><stop offset="0.973" stop-color="#afe3af"/><stop offset="1" stop-color="#bfe9bf"/></linearGradient>
<linearGradient id="g85" x2="0" y2="1"><stop offset="0" stop-color="#70cc70"/><stop offset="0.784" stop-color="#70cc70"/><stop offset="0.811" stop-color="#74ce74"/><stop offset="0.82" stop-color="#77cf77"/><stop offset="0.829" stop-color="#78cf78"/><stop offset="0.838" stop-color="#7dd17d"/><stop offset="0.847" stop-color="#7ed17e"/><stop offset="0.865" stop-color="#88d588"/><stop offset="0.883" stop-color="#8bd68b"/><stop offset="0.901" stop-color="#93d993"/><stop offset="0.973" stop-color="#afe3af"/><stop offset="1" stop-color="#bfe9bf"/></linearGradient>
<linearGradient id="g86" x2="0" y2="1"><stop offset="0" stop-color="#70cc70"/><stop offset="0.784" stop-color="#70cc70"/><stop offset="0.811" stop-color="#74ce74"/><stop offset="0.82" stop-color="#78cf78"/><stop offset="0.829" stop-color="#78cf78"/><stop offset="0.838" stop-color="#7dd17d"/><stop offset="0.847" stop-color="#7ed17e"/><stop offset="0.865" stop-color="#88d588"/><stop offset="0.883" stop-color="#8bd68b"/><stop offset="0.901" stop-color="#93d993"/><stop offset="0.973" stop-color="#afe3af"/><stop offset="1" stop-color="#bfe9bf"/></linearGradient>
<linearGradient id="g87" x2="0" y2="1"><stop offset="0" stop-color="#6fcc6f"/><stop offset="0.784" stop-color="#70cc70"/><stop offset="0.811" stop-color="#74ce74"/><stop offset="0.82" stop-color="#78cf78"/><stop offset="0.829" stop-color="#78cf78"/><stop offset="0.838" stop-color="#7dd17d"/><stop offset="0.847" stop-color="#7ed17e"/><stop offset="0.865" stop-color="#88d588"/><stop offset="0.883" stop-color="#8bd68b"/><stop offset="0.901" stop-color="#93d993"/><stop offset="0.973" stop-color="#afe3af"/><stop offset="1" stop-color="#bfe9bf"/></linearGradient>
<linearGradient id="g88" x2="0" y2="1"><stop offset="0" stop-color="#6fcc6f"/><stop offset="0.784" stop-color="#70cc70"/><stop offset="0.811" stop-color="#74ce74"/><stop offset="0.82" stop-color="#78cf78"/><stop offset="0.829" stop-color="#79cf79"/><stop offset="0.847" stop-color="#81d381"/><stop offset="0.856" stop-color="#82d382"/><stop offset="0.865" stop-color="#88d588"/><stop offset="0.883" stop-color="#8bd68b"/><stop offset="0.901" stop-color="#93d993"/><stop offset="0.973" stop-color="#afe3af"/><stop offset="1" stop-color="#bfe9bf"/></linearGradient>
<linearGradient id="g89" x2="0" y2="1"><stop offset="0" stop-color="#6fcc6f"/><stop offset="0.775" stop-color="#70cc70"/><stop offset="0.793" stop-color="#71cd71"/><stop offset="0.82" stop-color="#78cf78"/><stop offset="0.829" stop-color="#79cf79"/><stop offset="0.847" stop-color="#81d381"/><stop offset="0.856" stop-color="#82d382"/><stop offset="0.865" stop-color="#88d588"/><stop offset="0.883" stop-color="#8bd68b"/><stop offset="0.901" stop-color="#93d993"/><stop offset="0.973" stop-color="#afe3af"/><stop offset="1" stop-color="#bfe9bf"/></linearGradient>
<linearGradient id="g90" x2="0" y2="1"><stop offset="0" stop-color="#6ccb6c"/><stop offset="0.721" stop-color="#6ccb6c"/><stop offset="0.73" stop-color="#6fcc6f"/><stop offset="0.793" stop-color="#71cd71"/><stop offset="0.82" stop-color="#78cf78"/><stop offset="0.829" stop-color="#79cf79"/><stop offset="0.847" stop-color="#81d381"/><stop offset="0.856" stop-color="#82d382"/><stop offset="0.865" stop-color="#88d588"/><stop offset="0.883" stop-color="#8bd68b"/><stop offset="0.901" stop-color="#93d993"/><stop offset="0.973" stop-color="#afe3af"/><stop offset="1" stop-color="#bfe9bf"/></linearGradient>
<linearGradient id="g91" x2="0" y2="1"><stop offset="0" stop-color="#6ccb6c"/><stop offset="0.739" stop-color="#6ccb6c"/><stop offset="0.748" stop-color="#6fcc6f"/><stop offset="0.793" stop-color="#71cd71"/><stop offset="0.82" stop-color="#78cf78"/><stop offset="0.829" stop-color="#79cf79"/><stop offset="0.847" stop-color="#81d381"/><stop offset="0.856" stop-color="#83d383"/><stop offset="0.865" stop-color="#88d588"/><stop offset="0.883" stop-color="#8bd68b"/><stop offset="0.901" stop-color="#93d993"/><stop offset="0.973" stop-color="#afe3af"/><stop offset="1" stop-color="#bfe9bf"/></linearGradient>
<linearGradient id="g92" x2="0" y2="1"><stop offset="0" stop-color="#6ccb6c"/><stop offset="0.748" stop-color="#6ccb6c"/><stop offset="0.757" stop-color="#6fcc6f"/><stop offset="0.793" stop-color="#71cd71"/><stop offset="0.82" stop-color="#78cf78"/><stop offset="0.829" stop-color="#79cf79"/><stop offset="0.847" stop-color="#81d381"/><stop offset="0.856" stop-color="#83d383"/><stop offset="0.865" stop-color="#88d588"/><stop offset="0.883" stop-color="#8bd68b"/><stop offset="0.901" stop-color="#94d994"/><stop offset="0.973" stop-color="#afe3af"/><stop offset="1" stop-color="#bfe9bf"/></linearGradient>
<linearGradient id="g93" x2="0" y2="1"><stop offset="0" stop-color="#6bca6b"/><stop offset="0.748" stop-color="#6ccb6c"/><stop offset="0.757" stop-color="#6fcc6f"/><stop offset="0.784" stop-color="#70cc70"/><stop offset="0.793" stop-color="#73cd73"/><stop offset="0.811" stop-color="#75ce75"/><stop offset="0.82" stop-color="#78cf78"/><stop offset="0.829" stop-color="#79d079"/><stop offset="0.847" stop-color="#81d381"/><stop offset="0.856" stop-color="#83d383"/><stop offset="0.865" stop-color="#89d589"/><stop offset="0.883" stop-color="#8bd68b"/><stop offset="0.892" stop-color="#90d890"/><stop offset="0.973" stop-color="#afe3af"/><stop offset="1" stop-color="#bfe9bf"/></linearGradient>
<linearGradient id="g94" x2="0" y2="1"><stop offset="0" stop-color="#6bca6b"/><stop offset="0.757" stop-color="#6ccb6c"/><stop offset="0.766" stop-color="#6fcc6f"/><stop offset="0.784" stop-color="#70cc70"/><stop offset="0.793" stop-color="#73cd73"/><stop offset="0.811" stop-color="#75ce75"/><stop offset="0.82" stop-color="#78cf78"/><stop offset="0.829" stop-color="#79d079"/><stop offset="0.847" stop-color="#81d381"/><stop offset="0.856" stop-color="#83d383"/><stop offset="0.865" stop-color="#89d589"/><stop offset="0.883" stop-color="#8bd68b"/><stop offset="0.892" stop-color="#91d891"/><stop offset="0.973" stop-color="#afe3af"/><stop offset="1" stop-color="#bfe9bf"/></linearGradient>
<linearGradient id="g95" x2="0" y2="1"><stop offset="0" stop-color="#6bca6b"/><stop offset="0.757" stop-color="#6ccb6c"/><stop offset="0.766" stop-color="#6fcc6f"/><stop offset="0.784" stop-color="#70cc70"/><stop offset="0.793" stop-color="#73cd73"/><stop offset="0.811" stop-color="#75ce75"/><stop offset="0.829" stop-color="#79d079"/><stop offset="0.847" stop-color="#82d382"/><stop offset="0.856" stop-color="#83d383"/><stop offset="0.865" stop-color="#89d589"/><stop offset="0.883" stop-color="#8bd68b"/><stop offset="0.892" stop-color="#91d891"/><stop offset="0.973" stop-color="#afe3af"/><stop offset="1" stop-color="#bfe9bf"/></linearGradient>
<linearGradient id="g96" x2="0" y2="1"><stop offset="0" stop-color="#6bca6b"/><stop offset="0.757" stop-color="#6ccb6c"/><stop offset="0.766" stop-color="#6fcc6f"/><stop offset="0.784" stop-color="#70cc70"/><stop offset="0.793" stop-color="#73cd73"/><stop offset="0.811" stop-color="#75ce75"/><stop offset="0.829" stop-color="#7cd17c"/><stop offset="0.838" stop-color="#7dd17d"/><stop offset="0.847" stop-color="#82d382"/><stop offset="0.856" stop-color="#83d383"/><stop offset="0.865" stop-color="#89d589"/><stop offset="0.883" stop-color="#8bd68b"/><stop offset="0.892" stop-color="#91d891"/><stop offset="0.973" stop-color="#afe3af"/><stop offset="1" stop-color="#bfe9bf"/></linearGradient>
<linearGradient id="g97" x2="0" y2="1"><stop offset="0" stop-color="#6bca6b"/><stop offset="0.757" stop-color="#6cca6c"/><stop offset="0.766" stop-color="#6fcc6f"/><stop offset="0.784" stop-color="#70cc70"/><stop offset="0.793" stop-color="#73cd73"/><stop offset="0.811" stop-color="#75ce75"/><stop offset="0.829" stop-color="#7cd17c"/><stop offset="0.838" stop-color="#7dd17d"/><stop offset="0.847" stop-color="#82d382"/><stop offset="0.856" stop-color="#83d383"/><stop offset="0.865" stop-color="#89d589"/><stop offset="0.883" stop-color="#8bd68b"/><stop offset="0.892" stop-color="#91d891"/><stop offset="0.973" stop-color="#afe3af"/><stop offset="1" stop-color="#bfe9bf"/></linearGradient>
<linearGradient id="g98" x2="0" y2="1"><stop offset="0" stop-color="#6aca6a"/><stop offset="0.757" stop-color="#6bca6b"/><stop offset="0.766" stop-color="#6fcc6f"/><stop offset="0.784" stop-color="#70cc70"/><stop offset="0.811" stop-color="#77cf77"/><stop offset="0.82" stop-color="#78cf78"/><stop offset="0.829" stop-color="#7cd17c"/><stop offset="0.838" stop-color="#7dd17d"/><stop offset="0.847" stop-color="#82d382"/><stop offset="0.856" stop-color="#83d383"/><stop offset="0.865" stop-color="#89d589"/><stop offset="0.883" stop-color="#8bd68b"/><stop offset="0.892" stop-color="#91d891"/><stop offset="0.973" stop-color="#afe3af"/><stop offset="1" stop-color="#bfe9bf"/></linearGradient>
<linearGradient id="g99" x2="0" y2="1"><stop offset="0" stop-color="#6aca6a"/><stop offset="0.748" stop-color="#6bca6b"/><stop offset="0.757" stop-color="#6bca6b"/><stop offset="0.766" stop-color="#6fcc6f"/><stop offset="0.784" stop-color="#70cc70"/><stop offset="0.811" stop-color="#77cf77"/><stop offset="0.82" stop-color="#78cf78"/><stop offset="0.829" stop-color="#7cd17c"/><stop offset="0.838" stop-color="#7dd17d"/><stop offset="0.847" stop-color="#82d382"/><stop offset="0.856" stop-color="#83d383"/><stop offset="0.865" stop-color="#89d589"/><stop offset="0.883" stop-color="#8bd68b"/><stop offset="0.892" stop-color="#91d891"/><stop offset="0.973" stop-color="#afe4af"/><stop offset="1" stop-color="#bfe9bf"/></linearGradient>
<linearGradient id="g100" x2="0" y2="1"><stop offset="0" stop-color="#6aca6a"/><stop offset="0.748" stop-color="#6bca6b"/><stop offset="0.757" stop-color="#6bca6b"/><stop offset="0.766" stop-color="#6fcc6f"/><stop offset="0.784" stop-color="#70cc70"/><stop offset="0.811" stop-color="#77cf77"/><stop offset="0.82" stop-color="#78cf78"/><stop offset="0.829" stop-color="#7cd17c"/><stop offset="0.838" stop-color="#7dd17d"/><stop offset="0.847" stop-color="#82d382"/><stop offset="0.856" stop-color="#83d383"/><stop offset="0.865" stop-color="#89d589"/><stop offset="0.883" stop-color="#8bd68b"/><stop offset="0.892" stop-color="#91d991"/><stop offset="0.973" stop-color="#afe4af"/><stop offset="1" stop-color="#bfe9bf"/></linearGradient>
<linearGradient id="g101" x2="0" y2="1"><stop offset="0" stop-color="#6aca6a"/><stop offset="0.748" stop-color="#6bca6b"/><stop offset="0.757" stop-color="#6bca6b"/><stop offset="0.766" stop-color="#6fcc6f"/><stop offset="0.784" stop-color="#70cc70"/><stop offset="0.811" stop-color="#77cf77"/><stop offset="0.82" stop-color="#78cf78"/><stop offset="0.829" stop-color="#7cd17c"/><stop offset="0.838" stop-color="#7dd17d"/><stop offset="0.856" stop-color="#88d588"/><stop offset="0.883" stop-color="#8bd68b"/><stop offset="0.892" stop-color="#91d991"/><stop offset="0.973" stop-color="#afe4af"/><stop offset="1" stop-color="#bfe9bf"/></linearGradient>
<linearGradient id="g102" x2="0" y2="1"><stop offset="0" stop-color="#6aca6a"/><stop offset="0.739" stop-color="#6bca6b"/><stop offset="0.757" stop-color="#6bca6b"/><stop offset="0.766" stop-color="#6fcc6f"/><stop offset="0.784" stop-color="#70cc70"/><stop offset="0.811" stop-color="#77cf77"/><stop offset="0.82" stop-color="#78cf78"/><stop offset="0.829" stop-color="#7cd17c"/><stop offset="0.838" stop-color="#7ed17e"/><stop offset="0.856" stop-color="#88d588"/><stop offset="0.883" stop-color="#8bd68b"/><stop offset="0.892" stop-color="#91d991"/><stop offset="0.973" stop-color="#afe4af"/><stop offset="1" stop-color="#bfe9bf"/></linearGradient>
<linearGradient id="g103" x2="0" y2="1"><stop offset="0" stop-color="#6aca6a"/><stop offset="0.739" stop-color="#6bca6b"/><stop offset="0.757" stop-color="#6bca6b"/><stop offset="0.766" stop-color="#6fcc6f"/><stop offset="0.784" stop-color="#70cc70"/><stop offset="0.811" stop-color="#77cf77"/><stop offset="0.82" stop-color="#78cf78"/><stop offset="0.829" stop-color="#7cd17c"/><stop offset="0.838" stop-color="#7ed17e"/><stop offset="0.856" stop-color="#88d588"/><stop offset="0.883" stop-color="#8cd68c"/><stop offset="0.892" stop-color="#91d991"/><stop offset="0.973" stop-color="#b0e4b0"/><stop offset="1" stop-color="#bfe9bf"/></linearGradient>
<linearGradient id="g104" x2="0" y2="1"><stop offset="0" stop-color="#69ca69"/><stop offset="0.73" stop-color="#6aca6a"/><stop offset="0.757" stop-color="#6bca6b"/><stop offset="0.766" stop-color="#6fcc6f"/><stop offset="0.784" stop-color="#71cc71"/><stop offset="0.838" stop-color="#7ed17e"/><stop offset="0.856" stop-color="#88d588"/><stop offset="0.883" stop-color="#8cd68c"/><stop offset="0.892" stop-color="#91d991"/><stop offset="0.973" stop-color="#b0e4b0"/><stop offset="1" stop-color="#bfe9bf"/></linearGradient>
<linearGradient id="g105" x2="0" y2="1"><stop offset="0" stop-color="#69ca69"/><stop offset="0.73" stop-color="#6aca6a"/><stop offset="0.757" stop-color="#6bca6b"/><stop offset="0.766" stop-color="#6fcc6f"/><stop offset="0.784" stop-color="#71cc71"/><stop offset="0.838" stop-color="#7ed17e"/><stop offset="0.856" stop-color="#88d588"/><stop offset="0.883" stop-color="#8cd68c"/><stop offset="0.892" stop-color="#92d992"/><stop offset="0.973" stop-color="#b0e4b0"/><stop offset="1" stop-color="#bfe9bf"/></linearGradient>
<linearGradient id="g106" x2="0" y2="1"><stop offset="0" stop-color="#69ca69"/><stop offset="0.721" stop-color="#6aca6a"/><stop offset="0.757" stop-color="#6bca6b"/><stop offset="0.766" stop-color="#6fcc6f"/><stop offset="0.784" stop-color="#71cc71"/><stop offset="0.838" stop-color="#7ed17e"/><stop offset="0.856" stop-color="#88d588"/><stop offset="0.883" stop-color="#8cd68c"/><stop offset="0.892" stop-color="#92d992"/><stop offset="0.973" stop-color="#b0e4b0"/><stop offset="1" stop-color="#bfe9bf"/></linearGradient>
<linearGradient id="g107" x2="0" y2="1"><stop offset="0" stop-color="#64c864"/><stop offset="0.667" stop-color="#64c864"/><stop offset="0.676" stop-color="#69ca69"/><stop offset="0.757" stop-color="#6bca6b"/><stop offset="0.766" stop-color="#6fcc6f"/><stop offset="0.784" stop-color="#71cc71"/><stop offset="0.838" stop-color="#7ed17e"/><stop offset="0.856" stop-color="#88d588"/><stop offset="0.883" stop-color="#8cd68c"/><stop offset="0.892" stop-color="#92d992"/><stop offset="0.973" stop-color="#b0e4b0"/><stop offset="1" stop-color="#bfe9bf"/></linearGradient>
<linearGradient id="g108" x2="0" y2="1"><stop offset="0" stop-color="#64c864"/><stop offset="0.676" stop-color="#64c864"/><stop offset="0.685" stop-color="#69ca69"/><stop offset="0.757" stop-color="#6bca6b"/><stop offset="0.766" stop-color="#6fcc6f"/><stop offset="0.784" stop-color="#71cc71"/><stop offset="0.838" stop-color="#7ed17e"/><stop offset="0.856" stop-color="#88d588"/><stop offset="0.883" stop-color="#8cd78c"/><stop offset="0.892" stop-color="#92d992"/><stop offset="0.973" stop-color="#b0e4b0"/><stop offset="1" stop-color="#bfe9bf"/></linearGradient>
<linearGradient id="g109" x2="0" y2="1"><stop offset="0" stop-color="#64c864"/><stop offset="0.685" stop-color="#64c864"/><stop offset="0.694" stop-color="#69ca69"/><stop offset="0.757" stop-color="#6bca6b"/><stop offset="0.766" stop-color="#6fcc6f"/><stop offset="0.784" stop-color="#71cc71"/><stop offset="0.838" stop-color="#7ed17e"/><stop offset="0.856" stop-color="#88d588"/><stop offset="0.883" stop-color="#8cd78c"/><stop offset="0.892" stop-color="#92d992"/><stop offset="0.973" stop-color="#b0e4b0"/><stop offset="1" stop-color="#bfe9bf"/></linearGradient>
<linearGradient id="g110" x2="0" y2="1"><stop offset="0" stop-color="#64c864"/><stop offset="0.694" stop-color="#64c864"/><stop offset="0.703" stop-color="#69ca69"/><stop offset="0.757" stop-color="#6bca6b"/><stop offset="0.766" stop-color="#6fcc6f"/><stop offset="0.784" stop-color="#71cc71"/><stop offset="0.838" stop-color="#7ed17e"/><stop offset="0.856" stop-color="#88d588"/><stop offset="0.883" stop-color="#8cd78c"/><stop offset="0.892" stop-color="#92d992"/><stop offset="0.973" stop-color="#b0e4b0"/><stop offset="1" stop-color="#bfe9bf"/></linearGradient>
<linearGradient id="g111" x2="0" y2="1"><stop offset="0" stop-color="#64c864"/><stop offset="0.694" stop-color="#64c864"/><stop offset="0.703" stop-color="#69ca69"/><stop offset="0.757" stop-color="#6bca6b"/><stop offset="0.766" stop-color="#6fcc6f"/><stop offset="0.784" stop-color="#71cc71"/><stop offset="0.838" stop-color="#7ed17e"/><stop offset="0.856" stop-color="#88d588"/><stop offset="0.874" stop-color="#8bd68b"/><stop offset="0.973" stop-color="#b0e4b0"/><stop offset="1" stop-color="#bfe9bf"/></linearGradient>
<linearGradient id="g112" x2="0" y2="1"><stop offset="0" stop-color="#64c764"/><stop offset="0.703" stop-color="#65c865"/><stop offset="0.712" stop-color="#69ca69"/><stop offset="0.757" stop-color="#6bca6b"/><stop offset="0.766" stop-color="#6fcc6f"/><stop offset="0.784" stop-color="#71cc71"/><stop offset="0.838" stop-color="#7ed17e"/><stop offset="0.856" stop-color="#88d588"/><stop offset="0.874" stop-color="#8bd68b"/><stop offset="0.973" stop-color="#b0e4b0"/><stop offset="1" stop-color="#bfe9bf"/></linearGradient>
<linearGradient id="g113" x2="0" y2="1"><stop offset="0" stop-color="#63c763"/><stop offset="0.703" stop-color="#64c864"/><stop offset="0.712" stop-color="#69ca69"/><stop offset="0.757" stop-color="#6bca6b"/><stop offset="0.766" stop-color="#6fcc6f"/><stop offset="0.784" stop-color="#71cc71"/><stop offset="0.838" stop-color="#7ed17e"/><stop offset="0.856" stop-color="#88d588"/><stop offset="0.874" stop-color="#8bd68b"/><stop offset="0.973" stop-color="#b0e4b0"/><stop offset="1" stop-color="#bfe9bf"/></linearGradient>
<linearGradient id="g114" x2="0" y2="1"><stop offset="0" stop-color="#63c763"/><stop offset="0.694" stop-color="#64c864"/><stop offset="0.703" stop-color="#64c864"/><stop offset="0.712" stop-color="#69ca69"/><stop offset="0.757" stop-color="#6bca6b"/><stop offset="0.766" stop-color="#6fcc6f"/><stop offset="0.784" stop-color="#71cc71"/><stop offset="0.811" stop-color="#78cf78"/><stop offset="0.82" stop-color="#79cf79"/><stop offset="0.838" stop-color="#81d381"/><stop offset="0.847" stop-color="#82d382"/><stop offset="0.856" stop-color="#88d588"/><stop offset="0.874" stop-color="#8bd68b"/><stop offset="0.973" stop-color="#b0e4b0"/><stop offset="1" stop-color="#bfe9bf"/></linearGradient>
<linearGradient id="g115" x2="0" y2="1"><stop offset="0" stop-color="#63c763"/><stop offset="0.694" stop-color="#64c864"/><stop offset="0.703" stop-color="#64c864"/><stop offset="0.712" stop-color="#69ca69"/><stop offset="0.757" stop-color="#6bca6b"/><stop offset="0.766" stop-color="#6fcc6f"/><stop offset="0.784" stop-color="#71cc71"/><stop offset="0.811" stop-color="#78cf78"/><stop offset="0.82" stop-color="#79cf79"/><stop offset="0.838" stop-color="#81d381"/><stop offset="0.847" stop-color="#82d382"/><stop offset="0.856" stop-color="#88d588"/><stop offset="0.874" stop-color="#8bd68b"/><stop offset="0.919" stop-color="#9cdc9c"/><stop offset="0.973" stop-color="#b0e4b0"/><stop offset="1" stop-color="#bfe9bf"/></linearGradient>
<linearGradient id="g116" x2="0" y2="1"><stop offset="0" stop-color="#63c763"/><stop offset="0.694" stop-color="#64c864"/><stop offset="0.703" stop-color="#64c864"/><stop offset="0.712" stop-color="#69ca69"/><stop offset="0.757" stop-color="#6bca6b"/><stop offset="0.766" stop-color="#6fcc6f"/><stop offset="0.784" stop-color="#71cc71"/><stop offset="0.811" stop-color="#78cf78"/><stop offset="0.82" stop-color="#79cf79"/><stop offset="0.838" stop-color="#81d381"/><stop offset="0.847" stop-color="#82d382"/><stop offset="0.856" stop-color="#88d588"/><stop offset="0.874" stop-color="#8bd68b"/><stop offset="0.91" stop-color="#98db98"/><stop offset="0.973" stop-color="#b0e4b0"/><stop offset="1" stop-color="#bfe9bf"/></linearGradient>
<linearGradient id="g117" x2="0" y2="1"><stop offset="0" stop-color="#63c763"/><stop offset="0.694" stop-color="#64c864"/><stop offset="0.703" stop-color="#64c864"/><stop offset="0.712" stop-color="#69ca69"/><stop offset="0.757" stop-color="#6bca6b"/><stop offset="0.766" stop-color="#6fcc6f"/><stop offset="0.784" stop-color="#71cc71"/><stop offset="0.811" stop-color="#78cf78"/><stop offset="0.82" stop-color="#79cf79"/><stop offset="0.838" stop-color="#81d381"/><stop offset="0.847" stop-color="#82d382"/><stop offset="0.856" stop-color="#88d588"/><stop offset="0.874" stop-color="#8bd68b"/><stop offset="0.901" stop-color="#95da95"/><stop offset="0.973" stop-color="#b0e4b0"/><stop offset="1" stop-color="#bfe9bf"/></linearGradient>
<linearGradient id="g118" x2="0" y2="1"><stop offset="0" stop-color="#63c763"/><stop offset="0.685" stop-color="#64c864"/><stop offset="0.703" stop-color="#64c864"/><stop offset="0.712" stop-color="#69ca69"/><stop offset="0.757" stop-color="#6bca6b"/><stop offset="0.766" stop-color="#6fcc6f"/><stop offset="0.784" stop-color="#71cd71"/><stop offset="0.811" stop-color="#78cf78"/><stop offset="0.82" stop-color="#79cf79"/><stop offset="0.838" stop-color="#81d381"/><stop offset="0.847" stop-color="#82d382"/><stop offset="0.856" stop-color="#88d588"/><stop offset="0.874" stop-color="#8bd68b"/><stop offset="0.901" stop-color="#95da95"/><stop offset="0.973" stop-color="#b0e4b0"/><stop offset="1" stop-color="#bfe9bf"/></linearGradient>
<linearGradient id="g119" x2="0" y2="1"><stop offset="0" stop-color="#63c763"/><stop offset="0.685" stop-color="#64c764"/><stop offset="0.703" stop-color="#64c864"/><stop offset="0.712" stop-color="#69ca69"/><stop offset="0.757" stop-color="#6bca6b"/><stop offset="0.766" stop-color="#70cc70"/><stop offset="0.784" stop-color="#71cd71"/><stop offset="0.811" stop-color="#78cf78"/><stop offset="0.82" stop-color="#79cf79"/><stop offset="0.838" stop-color="#81d381"/><stop offset="0.847" stop-color="#82d382"/><stop offset="0.856" stop-color="#88d588"/><stop offset="0.874" stop-color="#8bd68b"/><stop offset="0.901" stop-color="#95da95"/><stop offset="0.973" stop-color="#b0e4b0"/><stop offset="1" stop-color="#bfe9bf"/></linearGradient>
<linearGradient id="g120" x2="0" y2="1"><stop offset="0" stop-color="#63c763"/><stop offset="0.685" stop-color="#64c764"/><stop offset="0.703" stop-color="#64c864"/><stop offset="0.712" stop-color="#69ca69"/><stop offset="0.757" stop-color="#6bca6b"/><stop offset="0.766" stop-color="#70cc70"/><stop offset="0.793" stop-color="#74ce74"/><stop offset="0.82" stop-color="#79cf79"/><stop offset="0.838" stop-color="#81d381"/><stop offset="0.847" stop-color="#82d382"/><stop offset="0.856" stop-color="#88d588"/><stop offset="0.874" stop-color="#8bd68b"/><stop offset="0.901" stop-color="#95da95"/><stop offset="0.973" stop-color="#b0e4b0"/><stop offset="1" stop-color="#bfe9bf"/></linearGradient>
<linearGradient id="g121" x2="0" y2="1"><stop offset="0" stop-color="#62c762"/><stop offset="0.685" stop-color="#64c764"/><stop offset="0.703" stop-color="#64c864"/><stop offset="0.712" stop-color="#69ca69"/><stop offset="0.757" stop-color="#6bca6b"/><stop offset="0.766" stop-color="#70cc70"/><stop offset="0.793" stop-color="#74ce74"/><stop offset="0.82" stop-color="#79cf79"/><stop offset="0.838" stop-color="#81d381"/><stop offset="0.847" stop-color="#82d382"/><stop offset="0.856" stop-color="#88d588"/><stop offset="0.874" stop-color="#8bd68b"/><stop offset="0.901" stop-color="#95da95"/><stop offset="0.973" stop-color="#b0e4b0"/><stop offset="1" stop-color="#bfe9bf"/></linearGradient>
<linearGradient id="g122" x2="0" y2="1"><stop offset="0" stop-color="#62c762"/><stop offset="0.676" stop-color="#63c763"/><stop offset="0.703" stop-color="#64c864"/><stop offset="0.712" stop-color="#69ca69"/><stop offset="0.757" stop-color="#6cca6c"/><stop offset="0.766" stop-color="#70cc70"/><stop offset="0.793" stop-color="#74ce74"/><stop offset="0.82" stop-color="#79cf79"/><stop offset="0.838" stop-color="#81d381"/><stop offset="0.847" stop-color="#82d382"/><stop offset="0.856" stop-color="#88d588"/><stop offset="0.874" stop-color="#8bd68b"/><stop offset="0.901" stop-color="#95da95"/><stop offset="0.973" stop-color="#b0e4b0"/><stop offset="1" stop-color="#bfe9bf"/></linearGradient>
<linearGradient id="g123" x2="0" y2="1"><stop offset="0" stop-color="#62c762"/><stop offset="0.676" stop-color="#63c763"/><stop offset="0.703" stop-color="#64c864"/><stop offset="0.712" stop-color="#69ca69"/><stop offset="0.757" stop-color="#6cca6c"/><stop offset="0.766" stop-color="#70cc70"/><stop offset="0.793" stop-color="#74ce74"/><stop offset="0.82" stop-color="#79d079"/><stop offset="0.838" stop-color="#81d381"/><stop offset="0.847" stop-color="#82d382"/><stop offset="0.856" stop-color="#88d588"/><stop offset="0.874" stop-color="#8bd68b"/><stop offset="0.901" stop-color="#95da95"/><stop offset="0.973" stop-color="#b0e4b0"/><stop offset="1" stop-color="#bfe9bf"/></linearGradient>
<linearGradient id="g124" x2="0" y2="1"><stop offset="0" stop-color="#62c762"/><stop offset="0.676" stop-color="#63c763"/><stop offset="0.703" stop-color="#64c864"/><stop offset="0.712" stop-color="#69ca69"/><stop offset="0.757" stop-color="#6ccb6c"/><stop offset="0.766" stop-color="#70cc70"/><stop offset="0.793" stop-color="#74ce74"/><stop offset="0.82" stop-color="#79d079"/><stop offset="0.838" stop-color="#81d381"/><stop offset="0.847" stop-color="#82d382"/><stop offset="0.856" stop-color="#88d588"/><stop offset="0.874" stop-color="#8bd68b"/><stop offset="0.901" stop-color="#95da95"/><stop offset="0.973" stop-color="#b0e4b0"/><stop offset="1" stop-color="#bfe9bf"/></linearGradient>
<linearGradient id="g125" x2="0" y2="1"><stop offset="0" stop-color="#62c762"/><stop offset="0.667" stop-color="#63c763"/><stop offset="0.703" stop-color="#64c864"/><stop offset="0.712" stop-color="#69ca69"/><stop offset="0.757" stop-color="#6ccb6c"/><stop offset="0.766" stop-color="#70cc70"/><stop offset="0.793" stop-color="#74ce74"/><stop offset="0.82" stop-color="#79d079"/><stop offset="0.838" stop-color="#81d381"/><stop offset="0.847" stop-color="#82d382"/><stop offset="0.856" stop-color="#88d588"/><stop offset="0.874" stop-color="#8bd68b"/><stop offset="0.901" stop-color="#95da95"/><stop offset="0.973" stop-color="#b0e4b0"/><stop offset="1" stop-color="#bfe9bf"/></linearGradient>
<linearGradient id="g126" x2="0" y2="1"><stop offset="0" stop-color="#62c762"/><stop offset="0.667" stop-color="#63c763"/><stop offset="0.703" stop-color="#64c864"/><stop offset="0.712" stop-color="#69ca69"/><stop offset="0.757" stop-color="#6ccb6c"/><stop offset="0.766" stop-color="#70cc70"/><stop offset="0.793" stop-color="#74ce74"/><stop offset="0.82" stop-color="#79d079"/><stop offset="0.838" stop-color="#81d381"/><stop offset="0.847" stop-color="#82d382"/><stop offset="0.856" stop-color="#88d588"/><stop offset="0.874" stop-color="#8bd68b"/><stop offset="0.892" stop-color="#92d992"/><stop offset="0.973" stop-color="#b0e4b0"/><stop offset="1" stop-color="#bfe9bf"/></linearGradient>
<linearGradient id="g127" x2="0" y2="1"><stop offset="0" stop-color="#61c761"/><stop offset="0.667" stop-color="#63c763"/><stop offset="0.703" stop-color="#64c864"/><stop offset="0.712" stop-color="#69ca69"/><stop offset="0.757" stop-color="#6ccb6c"/><stop offset="0.766" stop-color="#70cc70"/><stop offset="0.793" stop-color="#74ce74"/><stop offset="0.82" stop-color="#79d079"/><stop offset="0.838" stop-color="#81d381"/><stop offset="0.847" stop-color="#82d382"/><stop offset="0.856" stop-color="#88d588"/><stop offset="0.874" stop-color="#8bd68b"/><stop offset="0.892" stop-color="#92d992"/><stop offset="0.973" stop-color="#b0e4b0"/><stop offset="1" stop-color="#bfe9bf"/></linearGradient>
<linearGradient id="g128" x2="0" y2="1"><stop offset="0" stop-color="#5dc55d"/><stop offset="0.559" stop-color="#5dc55d"/><stop offset="0.568" stop-color="#61c761"/><stop offset="0.703" stop-color="#64c864"/><stop offset="0.712" stop-color="#69ca69"/><stop offset="0.757" stop-color="#6ccb6c"/><stop offset="0.766" stop-color="#70cc70"/><stop offset="0.793" stop-color="#74ce74"/><stop offset="0.82" stop-color="#79d079"/><stop offset="0.838" stop-color="#81d381"/><stop offset="0.847" stop-color="#82d382"/><stop offset="0.856" stop-color="#88d588"/><stop offset="0.874" stop-color="#8bd68b"/><stop offset="0.892" stop-color="#92d992"/><stop offset="0.973" stop-color="#b0e4b0"/><stop offset="1" stop-color="#bfe9bf"/></linearGradient>
<linearGradient id="g129" x2="0" y2="1"><stop offset="0" stop-color="#5cc55c"/><stop offset="0.595" stop-color="#5cc55c"/><stop offset="0.604" stop-color="#61c761"/><stop offset="0.703" stop-color="#64c864"/><stop offset="0.712" stop-color="#69ca69"/><stop offset="0.757" stop-color="#6ccb6c"/><stop offset="0.766" stop-color="#70cc70"/><stop offset="0.793" stop-color="#74ce74"/><stop offset="0.82" stop-color="#79d079"/><stop offset="0.838" stop-color="#81d381"/><stop offset="0.847" stop-color="#82d382"/><stop offset="0.856" stop-color="#88d588"/><stop offset="0.874" stop-color="#8bd68b"/><stop offset="0.892" stop-color="#92d992"/><stop offset="0.973" stop-color="#b0e4b0"/><stop offset="1" stop-color="#bfe9bf"/></linearGradient>
<linearGradient id="g130" x2="0" y2="1"><stop offset="0" stop-color="#5cc55c"/><stop offset="0.604" stop-color="#5cc55c"/><stop offset="0.613" stop-color="#61c761"/><stop offset="0.703" stop-color="#64c864"/><stop offset="0.712" stop-color="#69ca69"/><stop offset="0.757" stop-color="#6ccb6c"/><stop offset="0.766" stop-color="#70cc70"/><stop offset="0.793" stop-color="#74ce74"/><stop offset="0.82" stop-color="#79d079"/><stop offset="0.838" stop-color="#81d381"/><stop offset="0.847" stop-color="#83d383"/><stop offset="0.856" stop-color="#88d588"/><stop offset="0.874" stop-color="#8bd68b"/><stop offset="0.892" stop-color="#92d992"/><stop offset="0.973" stop-color="#b0e4b0"/><stop offset="1" stop-color="#bfe9bf"/></linearGradient>
<linearGradient id="g131" x2="0" y2="1"><stop offset="0" stop-color="#5cc55c"/><stop offset="0.613" stop-color="#5cc55c"/><stop offset="0.622" stop-color="#61c761"/><stop offset="0.703" stop-color="#64c864"/><stop offset="0.712" stop-color="#69ca69"/><stop offset="0.757" stop-color="#6ccb6c"/><stop offset="0.766" stop-color="#70cc70"/><stop offset="0.793" stop-color="#74ce74"/><stop offset="0.82" stop-color="#79d079"/><stop offset="0.838" stop-color="#81d381"/><stop offset="0.847" stop-color="#83d383"/><stop offset="0.856" stop-color="#88d588"/><stop offset="0.874" stop-color="#8bd68b"/><stop offset="0.892" stop-color="#92d992"/><stop offset="0.973" stop-color="#b0e4b0"/><stop offset="1" stop-color="#bfe9bf"/></linearGradient>
<linearGradient id="g132" x2="0" y2="1"><stop offset="0" stop-color="#5cc55c"/><stop offset="0.613" stop-color="#5cc55c"/><stop offset="0.622" stop-color="#61c761"/><stop offset="0.703" stop-color="#64c864"/><stop offset="0.712" stop-color="#69ca69"/><stop offset="0.757" stop-color="#6ccb6c"/><stop offset="0.766" stop-color="#70cc70"/><stop offset="0.793" stop-color="#74ce74"/><stop offset="0.82" stop-color="#79d079"/><stop offset="0.838" stop-color="#81d381"/><stop offset="0.847" stop-color="#83d383"/><stop offset="0.856" stop-color="#88d588"/><stop offset="0.874" stop-color="#8bd68b"/><stop offset="0.892" stop-color="#93d993"/><stop offset="0.973" stop-color="#b0e4b0"/><stop offset="1" stop-color="#bfe9bf"/></linearGradient>
<linearGradient id="g133" x2="0" y2="1"><stop offset="0" stop-color="#5cc55c"/><stop offset="0.622" stop-color="#5cc55c"/><stop offset="0.631" stop-color="#61c761"/><stop offset="0.703" stop-color="#64c864"/><stop offset="0.712" stop-color="#69ca69"/><stop offset="0.757" stop-color="#6ccb6c"/><stop offset="0.766" stop-color="#70cc70"/><stop offset="0.793" stop-color="#74ce74"/><stop offset="0.82" stop-color="#79d079"/><stop offset="0.838" stop-color="#81d381"/><stop offset="0.847" stop-color="#83d383"/><stop offset="0.856" stop-color="#88d588"/><stop offset="0.874" stop-color="#8bd68b"/><stop offset="0.892" stop-color="#93d993"/><stop offset="0.973" stop-color="#b0e4b0"/><stop offset="1" stop-color="#bfe9bf"/></linearGradient>
<linearGradient id="g134" x2="0" y2="1"><stop offset="0" stop-color="#5cc55c"/><stop offset="0.631" stop-color="#5cc55c"/><stop offset="0.64" stop-color="#62c762"/><stop offset="0.703" stop-color="#64c864"/><stop offset="0.712" stop-color="#69ca69"/><stop offset="0.757" stop-color="#6ccb6c"/><stop offset="0.766" stop-color="#70cc70"/><stop offset="0.793" stop-color="#74ce74"/><stop offset="0.82" stop-color="#79d079"/><stop offset="0.838" stop-color="#81d381"/><stop offset="0.847" stop-color="#83d383"/><stop offset="0.856" stop-color="#88d588"/><stop offset="0.874" stop-color="#8bd68b"/><stop offset="0.892" stop-color="#93d993"/><stop offset="0.973" stop-color="#b0e4b0"/><stop offset="1" stop-color="#bfe9bf"/></linearGradient>
<linearGradient id="g135" x2="0" y2="1"><stop offset="0" stop-color="#5cc45c"/><stop offset="0.631" stop-color="#5cc55c"/><stop offset="0.64" stop-color="#61c761"/><stop offset="0.703" stop-color="#64c864"/><stop offset="0.712" stop-color="#69ca69"/><stop offset="0.757" stop-color="#6ccb6c"/><stop offset="0.766" stop-color="#70cc70"/><stop offset="0.793" stop-color="#74ce74"/><stop offset="0.82" stop-color="#79d079"/><stop offset="0.838" stop-color="#81d381"/><stop offset="0.847" stop-color="#83d383"/><stop offset="0.856" stop-color="#88d588"/><stop offset="0.874" stop-color="#8bd68b"/><stop offset="0.892" stop-color="#93d993"/><stop offset="0.973" stop-color="#b0e4b0"/><stop offset="1" stop-color="#bfe9bf"/></linearGradient>
<linearGradient id="g136" x2="0" y2="1"><stop offset="0" stop-color="#5bc45b"/><stop offset="0.631" stop-color="#5cc55c"/><stop offset="0.64" stop-color="#61c761"/><stop offset="0.703" stop-color="#64c864"/><stop offset="0.712" stop-color="#69ca69"/><stop offset="0.757" stop-color="#6ccb6c"/><stop offset="0.766" stop-color="#70cc70"/><stop offset="0.793" stop-color="#74ce74"/><stop offset="0.82" stop-color="#79d079"/><stop offset="0.838" stop-color="#81d381"/><stop offset="0.847" stop-color="#83d383"/><stop offset="0.856" stop-color="#88d588"/><stop offset="0.874" stop-color="#8bd68b"/><stop offset="0.892" stop-color="#93d993"/><stop offset="0.973" stop-color="#b0e4b0"/><stop offset="1" stop-color="#bfe9bf"/></linearGradient>
<linearGradient id="g137" x2="0" y2="1"><stop offset="0" stop-color="#5bc45b"/><stop offset="0.64" stop-color="#5cc55c"/><stop offset="0.649" stop-color="#62c762"/><stop offset="0.703" stop-color="#64c864"/><stop offset="0.712" stop-color="#69ca69"/><stop offset="0.757" stop-color="#6ccb6c"/><stop offset="0.766" stop-color="#70cc70"/><stop offset="0.793" stop-color="#74ce74"/><stop offset="0.82" stop-color="#79d079"/><stop offset="0.838" stop-color="#81d381"/><stop offset="0.847" stop-color="#83d383"/><stop offset="0.856" stop-color="#88d588"/><stop offset="0.874" stop-color="#8bd68b"/><stop offset="0.892" stop-color="#93d993"/><stop offset="0.973" stop-color="#b0e4b0"/><stop offset="1" stop-color="#bfe9bf"/></linearGradient>
<linearGradient id="g138" x2="0" y2="1"><stop offset="0" stop-color="#5bc45b"/><stop offset="0.631" stop-color="#5cc55c"/><stop offset="0.64" stop-color="#5cc55c"/><stop offset="0.649" stop-color="#62c762"/><stop offset="0.703" stop-color="#64c864"/><stop offset="0.712" stop-color="#69ca69"/><stop offset="0.757" stop-color="#6ccb6c"/><stop offset="0.766" stop-color="#70cc70"/><stop offset="0.793" stop-color="#74ce74"/><stop offset="0.82" stop-color="#79d079"/><stop offset="0.838" stop-color="#81d381"/><stop offset="0.847" stop-color="#83d383"/><stop offset="0.856" stop-color="#88d588"/><stop offset="0.874" stop-color="#8bd68b"/><stop offset="0.892" stop-color="#93d993"/><stop offset="0.973" stop-color="#b0e4b0"/><stop offset="1" stop-color="#bfe9bf"/></linearGradient>
<linearGradient id="g139" x2="0" y2="1"><stop offset="0" stop-color="#5bc45b"/><stop offset="0.622" stop-color="#5cc55c"/><stop offset="0.64" stop-color="#5cc55c"/><stop offset="0.649" stop-color="#62c762"/><stop offset="0.703" stop-color="#64c864"/><stop offset="0.712" stop-color="#69ca69"/><stop offset="0.757" stop-color="#6ccb6c"/><stop offset="0.766" stop-color="#70cc70"/><stop offset="0.793" stop-color="#74ce74"/><stop offset="0.82" stop-color="#79d079"/><stop offset="0.838" stop-color="#81d381"/><stop offset="0.847" stop-color="#83d383"/><stop offset="0.856" stop-color="#88d588"/><stop offset="0.874" stop-color="#8bd68b"/><stop offset="0.892" stop-color="#93d993"/><stop offset="0.973" stop-color="#b0e4b0"/><stop offset="1" stop-color="#bfe9bf"/></linearGradient>
<linearGradient id="g140" x2="0" y2="1"><stop offset="0" stop-color="#5bc45b"/><stop offset="0.622" stop-color="#5cc45c"/><stop offset="0.64" stop-color="#5cc55c"/><stop offset="0.649" stop-color="#61c761"/><stop offset="0.703" stop-color="#64c864"/><stop offset="0.712" stop-color="#69ca69"/><stop offset="0.757" stop-color="#6ccb6c"/><stop offset="0.766" stop-color="#70cc70"/><stop offset="0.793" stop-color="#74ce74"/><stop offset="0.82" stop-color="#79d079"/><stop offset="0.838" stop-color="#81d381"/><stop offset="0.847" stop-color="#83d383"/><stop offset="0.856" stop-color="#88d588"/><stop offset="0.874" stop-color="#8bd68b"/><stop offset="0.892" stop-color="#93d993"/><stop offset="0.973" stop-color="#b0e4b0"/><stop offset="1" stop-color="#bfe9bf"/></linearGradient>
<linearGradient id="g141" x2="0" y2="1"><stop offset="0" stop-color="#5ac45a"/><stop offset="0.613" stop-color="#5cc45c"/><stop offset="0.64" stop-color="#5cc55c"/><stop offset="0.649" stop-color="#61c761"/><stop offset="0.703" stop-color="#64c864"/><stop offset="0.712" stop-color="#69ca69"/><stop offset="0.757" stop-color="#6ccb6c"/><stop offset="0.766" stop-color="#70cc70"/><stop offset="0.793" stop-color="#74ce74"/><stop offset="0.802" stop-color="#75ce75"/><stop offset="0.82" stop-color="#7cd17c"/><stop offset="0.829" stop-color="#7dd17d"/><stop offset="0.838" stop-color="#81d381"/><stop offset="0.847" stop-color="#83d383"/><stop offset="0.856" stop-color="#88d588"/><stop offset="0.874" stop-color="#8bd68b"/><stop offset="0.892" stop-color="#93d993"/><stop offset="0.973" stop-color="#b0e4b0"/><stop offset="1" stop-color="#bfe9bf"/></linearGradient>
<linearGradient id="g142" x2="0" y2="1"><stop offset="0" stop-color="#5ac45a"/><stop offset="0.613" stop-color="#5cc45c"/><stop offset="0.64" stop-color="#5cc55c"/><stop offset="0.649" stop-color="#61c761"/><stop offset="0.703" stop-color="#64c864"/><stop offset="0.712" stop-color="#69ca69"/><stop offset="0.757" stop-color="#6ccb6c"/><stop offset="0.766" stop-color="#70cc70"/><stop offset="0.811" stop-color="#78cf78"/><stop offset="0.82" stop-color="#7cd17c"/><stop offset="0.829" stop-color="#7dd17d"/><stop offset="0.838" stop-color="#81d381"/><stop offset="0.847" stop-color="#83d383"/><stop offset="0.856" stop-color="#88d588"/><stop offset="0.874" stop-color="#8bd68b"/><stop offset="0.892" stop-color="#93d993"/><stop offset="0.973" stop-color="#b0e4b0"/><stop offset="1" stop-color="#bfe9bf"/></linearGradient>
<linearGradient id="g143" x2="0" y2="1"><stop offset="0" stop-color="#5ac45a"/><stop offset="0.613" stop-color="#5bc45b"/><stop offset="0.64" stop-color="#5cc55c"/><stop offset="0.649" stop-color="#61c761"/><stop offset="0.703" stop-color="#64c864"/><stop offset="0.712" stop-color="#69ca69"/><stop offset="0.757" stop-color="#6ccb6c"/><stop offset="0.766" stop-color="#70cc70"/><stop offset="0.811" stop-color="#78cf78"/><stop offset="0.82" stop-color="#7cd17c"/><stop offset="0.829" stop-color="#7dd17d"/><stop offset="0.838" stop-color="#81d381"/><stop offset="0.847" stop-color="#83d383"/><stop offset="0.856" stop-color="#88d588"/><stop offset="0.874" stop-color="#8bd68b"/><stop offset="0.892" stop-color="#93d993"/><stop offset="0.973" stop-color="#b0e4b0"/><stop offset="1" stop-color="#bfe9bf"/></linearGradient>
<linearGradient id="g144" x2="0" y2="1"><stop offset="0" stop-color="#5ac45a"/><stop offset="0.604" stop-color="#5bc45b"/><stop offset="0.64" stop-color="#5cc55c"/><stop offset="0.649" stop-color="#61c761"/><stop offset="0.703" stop-color="#64c864"/><stop offset="0.712" stop-color="#69ca69"/><stop offset="0.757" stop-color="#6ccb6c"/><stop offset="0.766" stop-color="#70cc70"/><stop offset="0.811" stop-color="#78cf78"/><stop offset="0.82" stop-color="#7cd17c"/><stop offset="0.829" stop-color="#7dd17d"/><stop offset="0.838" stop-color="#81d381"/><stop offset="0.847" stop-color="#83d383"/><stop offset="0.856" stop-color="#88d588"/><stop offset="0.874" stop-color="#8bd68b"/><stop offset="0.892" stop-color="#93d993"/><stop offset="0.973" stop-color="#b0e4b0"/><stop offset="1" stop-color="#bfe9bf"/></linearGradient>
<linearGradient id="g145" x2="0" y2="1"><stop offset="0" stop-color="#a0dea0"/><stop offset="0.847" stop-color="#a1dea1"/><stop offset="0.901" stop-color="#aae1aa"/><stop offset="0.928" stop-color="#b0e4b0"/><stop offset="0.973" stop-color="#c2eac2"/><stop offset="1" stop-color="#d1efd1"/></linearGradient>
<linearGradient id="g146" x2="0" y2="1"><stop offset="0" stop-color="#a0dea0"/><stop offset="0.856" stop-color="#a1dea1"/><stop offset="0.928" stop-color="#b0e4b0"/><stop offset="0.973" stop-color="#c2eac2"/><stop offset="1" stop-color="#d1efd1"/></linearGradient>
<linearGradient id="g147" x2="0" y2="1"><stop offset="0" stop-color="#a0dea0"/><stop offset="0.847" stop-color="#a1dea1"/><stop offset="0.883" stop-color="#a5e0a5"/><stop offset="0.928" stop-color="#b0e4b0"/><stop offset="0.973" stop-color="#c2eac2"/><stop offset="1" stop-color="#d1efd1"/></linearGradient>
<linearGradient id="g148" x2="0" y2="1"><stop offset="0" stop-color="#a0dea0"/><stop offset="0.847" stop-color="#a0dea0"/><stop offset="0.883" stop-color="#a5e0a5"/><stop offset="0.928" stop-color="#b0e4b0"/><stop offset="0.973" stop-color="#c2eac2"/><stop offset="1" stop-color="#d1efd1"/></linearGradient>
<linearGradient id="g149" x2="0" y2="1"><stop offset="0" stop-color="#9fde9f"/><stop offset="0.847" stop-color="#a0dea0"/><stop offset="0.883" stop-color="#a5e0a5"/><stop offset="0.928" stop-color="#b0e4b0"/><stop offset="0.973" stop-color="#c2eac2"/><stop offset="1" stop-color="#d1efd1"/></linearGradient>
<linearGradient id="g150" x2="0" y2="1"><stop offset="0" stop-color="#9fde9f"/><stop offset="0.847" stop-color="#a0dea0"/><stop offset="0.865" stop-color="#a1dea1"/><stop offset="0.928" stop-color="#b0e4b0"/><stop offset="0.973" stop-color="#c2eac2"/><stop offset="1" stop-color="#d1efd1"/></linearGradient>
<linearGradient id="g151" x2="0" y2="1"><stop offset="0" stop-color="#9cdc9c"/><stop offset="0.748" stop-color="#9cdc9c"/><stop offset="0.757" stop-color="#9fde9f"/><stop offset="0.865" stop-color="#a1dea1"/><stop offset="0.928" stop-color="#b0e4b0"/><stop offset="0.973" stop-color="#c2eac2"/><stop offset="1" stop-color="#d1efd1"/></linearGradient>
<linearGradient id="g152" x2="0" y2="1"><stop offset="0" stop-color="#9cdc9c"/><stop offset="0.766" stop-color="#9cdc9c"/><stop offset="0.775" stop-color="#9fde9f"/><stop offset="0.865" stop-color="#a1dea1"/><stop offset="0.928" stop-color="#b0e4b0"/><stop offset="0.973" stop-color="#c2eac2"/><stop offset="1" stop-color="#d1efd1"/></linearGradient>
<linearGradient id="g153" x2="0" y2="1"><stop offset="0" stop-color="#9cdc9c"/><stop offset="0.775" stop-color="#9cdc9c"/><stop offset="0.784" stop-color="#9fde9f"/><stop offset="0.865" stop-color="#a1dea1"/><stop offset="0.928" stop-color="#b0e4b0"/><stop offset="0.973" stop-color="#c2eac2"/><stop offset="1" stop-color="#d1efd1"/></linearGradient>
<linearGradient id="g154" x2="0" y2="1"><stop offset="0" stop-color="#9cdc9c"/><stop offset="0.784" stop-color="#9cdc9c"/><stop offset="0.793" stop-color="#9fde9f"/><stop offset="0.865" stop-color="#a1dea1"/><stop offset="0.928" stop-color="#b0e4b0"/><stop offset="0.973" stop-color="#c2eac2"/><stop offset="1" stop-color="#d1efd1"/></linearGradient>
<linearGradient id="g155" x2="0" y2="1"><stop offset="0" stop-color="#9cdc9c"/><stop offset="0.793" stop-color="#9cdc9c"/><stop offset="0.802" stop-color="#9fde9f"/><stop offset="0.865" stop-color="#a1dea1"/><stop offset="0.928" stop-color="#b0e4b0"/><stop offset="0.973" stop-color="#c2eac2"/><stop offset="1" stop-color="#d1efd1"/></linearGradient>
<linearGradient id="g156" x2="0" y2="1"><stop offset="0" stop-color="#9cdc9c"/><stop offset="0.802" stop-color="#9cdc9c"/><stop offset="0.811" stop-color="#9fde9f"/><stop offset="0.865" stop-color="#a1dea1"/><stop offset="0.928" stop-color="#b0e4b0"/><stop offset="0.973" stop-color="#c2eac2"/><stop offset="1" stop-color="#d1efd1"/></linearGradient>
<linearGradient id="g157" x2="0" y2="1"><stop offset="0" stop-color="#9bdc9b"/><stop offset="0.811" stop-color="#9cdc9c"/><stop offset="0.82" stop-color="#9fde9f"/><stop offset="0.865" stop-color="#a1dea1"/><stop offset="0.928" stop-color="#b0e4b0"/><stop offset="0.973" stop-color="#c2eac2"/><stop offset="1" stop-color="#d1efd1"/></linearGradient>
<linearGradient id="g158" x2="0" y2="1"><stop offset="0" stop-color="#9bdc9b"/><stop offset="0.82" stop-color="#9cdc9c"/><stop offset="0.829" stop-color="#9fde9f"/><stop offset="0.865" stop-color="#a1dea1"/><stop offset="0.928" stop-color="#b0e4b0"/><stop offset="0.973" stop-color="#c2eac2"/><stop offset="1" stop-color="#d1efd1"/></linearGradient>
<linearGradient id="g159" x2="0" y2="1"><stop offset="0" stop-color="#9bdc9b"/><stop offset="0.811" stop-color="#9cdc9c"/><stop offset="0.82" stop-color="#9cdc9c"/><stop offset="0.829" stop-color="#9fde9f"/><stop offset="0.865" stop-color="#a1dea1"/><stop offset="0.928" stop-color="#b0e4b0"/><stop offset="0.973" stop-color="#c2eac2"/><stop offset="1" stop-color="#d1efd1"/></linearGradient>
<linearGradient id="g160" x2="0" y2="1"><stop offset="0" stop-color="#9adc9a"/><stop offset="0.811" stop-color="#9cdc9c"/><stop offset="0.82" stop-color="#9cdc9c"/><stop offset="0.829" stop-color="#9fde9f"/><stop offset="0.865" stop-color="#a1dea1"/><stop offset="0.928" stop-color="#b0e4b0"/><stop offset="0.973" stop-color="#c2eac2"/><stop offset="1" stop-color="#d1efd1"/></linearGradient>
<linearGradient id="g161" x2="0" y2="1"><stop offset="0" stop-color="#9adc9a"/><stop offset="0.811" stop-color="#9bdc9b"/><stop offset="0.829" stop-color="#9cdc9c"/><stop offset="0.838" stop-color="#a0dea0"/><stop offset="0.865" stop-color="#a1dea1"/><stop offset="0.928" stop-color="#b0e4b0"/><stop offset="0.973" stop-color="#c2eac2"/><stop offset="1" stop-color="#d1efd1"/></linearGradient>
<linearGradient id="g162" x2="0" y2="1"><stop offset="0" stop-color="#96da96"/><stop offset="0.667" stop-color="#96da96"/><stop offset="0.676" stop-color="#9adc9a"/><stop offset="0.829" stop-color="#9cdc9c"/><stop offset="0.838" stop-color="#a0dea0"/><stop offset="0.865" stop-color="#a1dea1"/><stop offset="0.928" stop-color="#b0e4b0"/><stop offset="0.973" stop-color="#c2eac2"/><stop offset="1" stop-color="#d1efd1"/></linearGradient>
<linearGradient id="g163" x2="0" y2="1"><stop offset="0" stop-color="#96da96"/><stop offset="0.703" stop-color="#96da96"/><stop offset="0.712" stop-color="#9adc9a"/><stop offset="0.829" stop-color="#9cdc9c"/><stop offset="0.838" stop-color="#a0dea0"/><stop offset="0.865" stop-color="#a1dea1"/><stop offset="0.928" stop-color="#b0e4b0"/><stop offset="0.973" stop-color="#c2eac2"/><stop offset="1" stop-color="#d1efd1"/></linearGradient>
<linearGradient id="g164" x2="0" y2="1"><stop offset="0" stop-color="#96da96"/><stop offset="0.712" stop-color="#96da96"/><stop offset="0.721" stop-color="#9adc9a"/><stop offset="0.829" stop-color="#9cdc9c"/><stop offset="0.838" stop-color="#a0dea0"/><stop offset="0.865" stop-color="#a1dea1"/><stop offset="0.928" stop-color="#b0e4b0"/><stop offset="0.973" stop-color="#c2eac2"/><stop offset="1" stop-color="#d1efd1"/></linearGradient>
<linearGradient id="g165" x2="0" y2="1"><stop offset="0" stop-color="#96da96"/><stop offset="0.721" stop-color="#96da96"/><stop offset="0.73" stop-color="#9adc9a"/><stop offset="0.829" stop-color="#9cdc9c"/><stop offset="0.838" stop-color="#a0dea0"/><stop offset="0.865" stop-color="#a1dea1"/><stop offset="0.928" stop-color="#b0e4b0"/><stop offset="0.973" stop-color="#c2eac2"/><stop offset="1" stop-color="#d1efd1"/></linearGradient>
<linearGradient id="g166" x2="0" y2="1"><stop offset="0" stop-color="#96da96"/><stop offset="0.73" stop-color="#96da96"/><stop offset="0.739" stop-color="#9adc9a"/><stop offset="0.829" stop-color="#9cdc9c"/><stop offset="0.838" stop-color="#a0dea0"/><stop offset="0.865" stop-color="#a1dea1"/><stop offset="0.928" stop-color="#b0e4b0"/><stop offset="0.973" stop-color="#c2eac2"/><stop offset="1" stop-color="#d1efd1"/></linearGradient>
<linearGradient id="g167" x2="0" y2="1"><stop offset="0" stop-color="#96da96"/><stop offset="0.739" stop-color="#96da96"/><stop offset="0.748" stop-color="#9adc9a"/><stop offset="0.829" stop-color="#9cdc9c"/><stop offset="0.838" stop-color="#a0dea0"/><stop offset="0.865" stop-color="#a1dea1"/><stop offset="0.928" stop-color="#b0e4b0"/><stop offset="0.973" stop-color="#c2eac2"/><stop offset="1" stop-color="#d1efd1"/></linearGradient>
<linearGradient id="g168" x2="0" y2="1"><stop offset="0" stop-color="#96da96"/><stop offset="0.748" stop-color="#96da96"/><stop offset="0.757" stop-color="#9adc9a"/><stop offset="0.829" stop-color="#9cdc9c"/><stop offset="0.838" stop-color="#a0dea0"/><stop offset="0.865" stop-color="#a1dea1"/><stop offset="0.928" stop-color="#b0e4b0"/><stop offset="0.973" stop-color="#c2eac2"/><stop offset="1" stop-color="#d1efd1"/></linearGradient>
<linearGradient id="g169" x2="0" y2="1"><stop offset="0" stop-color="#96da96"/><stop offset="0.748" stop-color="#96da96"/><stop offset="0.757" stop-color="#9adc9a"/><stop offset="0.829" stop-color="#9cdc9c"/><stop offset="0.838" stop-color="#9fde9f"/><stop offset="0.865" stop-color="#a1dea1"/><stop offset="0.928" stop-color="#b0e4b0"/><stop offset="0.973" stop-color="#c2eac2"/><stop offset="1" stop-color="#d1efd1"/></linearGradient>
<linearGradient id="g170" x2="0" y2="1"><stop offset="0" stop-color="#96da96"/><stop offset="0.757" stop-color="#96da96"/><stop offset="0.766" stop-color="#9adc9a"/><stop offset="0.829" stop-color="#9cdc9c"/><stop offset="0.838" stop-color="#9fde9f"/><stop offset="0.865" stop-color="#a1dea1"/><stop offset="0.928" stop-color="#b0e4b0"/><stop offset="0.973" stop-color="#c2eac2"/><stop offset="1" stop-color="#d1efd1"/></linearGradient>
<linearGradient id="g171" x2="0" y2="1"><stop offset="0" stop-color="#96da96"/><stop offset="0.766" stop-color="#96da96"/><stop offset="0.775" stop-color="#9adc9a"/><stop offset="0.829" stop-color="#9cdc9c"/><stop offset="0.838" stop-color="#9fde9f"/><stop offset="0.865" stop-color="#a1dea1"/><stop offset="0.928" stop-color="#b0e4b0"/><stop offset="0.973" stop-color="#c2eac2"/><stop offset="1" stop-color="#d1efd1"/></linearGradient>
<linearGradient id="g172" x2="0" y2="1"><stop offset="0" stop-color="#96da96"/><stop offset="0.775" stop-color="#96da96"/><stop offset="0.784" stop-color="#9adc9a"/><stop offset="0.829" stop-color="#9cdc9c"/><stop offset="0.838" stop-color="#9fde9f"/><stop offset="0.865" stop-color="#a1dea1"/><stop offset="0.928" stop-color="#b0e4b0"/><stop offset="0.973" stop-color="#c2eac2"/><stop offset="1" stop-color="#d1efd1"/></linearGradient>
<linearGradient id="g173" x2="0" y2="1"><stop offset="0" stop-color="#95da95"/><stop offset="0.775" stop-color="#96da96"/><stop offset="0.784" stop-color="#9adc9a"/><stop offset="0.829" stop-color="#9cdc9c"/><stop offset="0.838" stop-color="#9fde9f"/><stop offset="0.865" stop-color="#a1dea1"/><stop offset="0.928" stop-color="#b0e4b0"/><stop offset="0.973" stop-color="#c2eac2"/><stop offset="1" stop-color="#d1efd1"/></linearGradient>
<linearGradient id="g174" x2="0" y2="1"><stop offset="0" stop-color="#95da95"/><stop offset="0.784" stop-color="#96da96"/><stop offset="0.793" stop-color="#9adc9a"/><stop offset="0.829" stop-color="#9cdc9c"/><stop offset="0.838" stop-color="#9fde9f"/><stop offset="0.865" stop-color="#a1dea1"/><stop offset="0.928" stop-color="#b0e4b0"/><stop offset="0.973" stop-color="#c2eac2"/><stop offset="1" stop-color="#d1efd1"/></linearGradient>
<linearGradient id="g175" x2="0" y2="1"><stop offset="0" stop-color="#95da95"/><stop offset="0.775" stop-color="#96da96"/><stop offset="0.784" stop-color="#96da96"/><stop offset="0.793" stop-color="#9adc9a"/><stop offset="0.829" stop-color="#9cdc9c"/><stop offset="0.838" stop-color="#9fde9f"/><stop offset="0.865" stop-color="#a1dea1"/><stop offset="0.928" stop-color="#b0e4b0"/><stop offset="0.973" stop-color="#c2eac2"/><stop offset="1" stop-color="#d1efd1"/></linearGradient>
<linearGradient id="g176" x2="0" y2="1"><stop offset="0" stop-color="#a0dea0"/><stop offset="0.063" stop-color="#a0dea0"/><stop offset="0.072" stop-color="#9edd9e"/><stop offset="0.306" stop-color="#9cdc9c"/><stop offset="0.315" stop-color="#99db99"/><stop offset="0.541" stop-color="#96da96"/><stop offset="0.55" stop-color="#93d993"/><stop offset="0.766" stop-color="#90d890"/><stop offset="0.775" stop-color="#8bd68b"/><stop offset="0.91" stop-color="#88d588"/><stop offset="0.919" stop-color="#84d484"/><stop offset="0.937" stop-color="#83d383"/><stop offset="0.964" stop-color="#74ce74"/><stop offset="0.982" stop-color="#65c865"/><stop offset="1" stop-color="#5cc55c"/></linearGradient>
<linearGradient id="g177" x2="0" y2="1"><stop offset="0" stop-color="#a2dfa2"/><stop offset="0.252" stop-color="#a0dea0"/><stop offset="0.261" stop-color="#9edd9e"/><stop offset="0.459" stop-color="#9cdc9c"/><stop offset="0.468" stop-color="#99db99"/><stop offset="0.658" stop-color="#96da96"/><stop offset="0.667" stop-color="#93d993"/><stop offset="0.838" stop-color="#90d890"/><stop offset="0.847" stop-color="#8bd68b"/><stop offset="0.937" stop-color="#88d588"/><stop offset="0.946" stop-color="#83d383"/><stop offset="0.973" stop-color="#70cc70"/><stop offset="0.982" stop-color="#69c969"/><stop offset="1" stop-color="#5fc65f"/></linearGradient>
<linearGradient id="g178" x2="0" y2="1"><stop offset="0" stop-color="#a5e0a5"/><stop offset="0.135" stop-color="#a4e0a4"/><stop offset="0.144" stop-color="#a2dfa2"/><stop offset="0.342" stop-color="#a0dea0"/><stop offset="0.351" stop-color="#9edd9e"/><stop offset="0.532" stop-color="#9cdc9c"/><stop offset="0.541" stop-color="#99db99"/><stop offset="0.73" stop-color="#96da96"/><stop offset="0.739" stop-color="#92d992"/><stop offset="0.874" stop-color="#90d890"/><stop offset="0.883" stop-color="#8bd68b"/><stop offset="0.937" stop-color="#89d589"/><stop offset="0.964" stop-color="#7bd07b"/><stop offset="0.973" stop-color="#74ce74"/><stop offset="0.982" stop-color="#6bca6b"/><stop offset="1" stop-color="#61c761"/></linearGradient>
<linearGradient id="g179" x2="0" y2="1"><stop offset="0" stop-color="#a6e0a6"/><stop offset="0.207" stop-color="#a4e0a4"/><stop offset="0.216" stop-color="#a2dfa2"/><stop offset="0.405" stop-color="#a0dea0"/><stop offset="0.414" stop-color="#9edd9e"/><stop offset="0.577" stop-color="#9cdc9c"/><stop offset="0.586" stop-color="#99db99"/><stop offset="0.757" stop-color="#96da96"/><stop offset="0.766" stop-color="#92d992"/><stop offset="0.883" stop-color="#90d890"/><stop offset="0.892" stop-color="#8bd68b"/><stop offset="0.937" stop-color="#89d689"/><stop offset="0.964" stop-color="#7bd07b"/><stop offset="0.991" stop-color="#67c967"/><stop offset="1" stop-color="#62c762"/></linearGradient>
<linearGradient id="g180" x2="0" y2="1"><stop offset="0" stop-color="#a9e1a9"/><stop offset="0.036" stop-color="#a9e1a9"/><stop offset="0.045" stop-color="#a6e0a6"/><stop offset="0.252" stop-color="#a4e0a4"/><stop offset="0.261" stop-color="#a2dfa2"/><stop offset="0.441" stop-color="#a0dea0"/><stop offset="0.45" stop-color="#9edd9e"/><stop offset="0.604" stop-color="#9cdc9c"/><stop offset="0.613" stop-color="#99db99"/><stop offset="0.775" stop-color="#96da96"/><stop offset="0.784" stop-color="#92d992"/><stop offset="0.892" stop-color="#90d890"/><stop offset="0.901" stop-color="#8bd68b"/><stop offset="0.937" stop-color="#89d689"/><stop offset="0.964" stop-color="#7cd17c"/><stop offset="0.982" stop-color="#6ecc6e"/><stop offset="0.991" stop-color="#6aca6a"/><stop offset="1" stop-color="#63c763"/></linearGradient>
<linearGradient id="g181" x2="0" y2="1"><stop offset="0" stop-color="#a9e1a9"/><stop offset="0.072" stop-color="#a9e1a9"/><stop offset="0.081" stop-color="#a6e0a6"/><stop offset="0.279" stop-color="#a4e0a4"/><stop offset="0.288" stop-color="#a2dfa2"/><stop offset="0.459" stop-color="#a0dea0"/><stop offset="0.468" stop-color="#9edd9e"/><stop offset="0.631" stop-color="#9cdc9c"/><stop offset="0.64" stop-color="#99db99"/><stop offset="0.784" stop-color="#96da96"/><stop offset="0.793" stop-color="#92d992"/><stop offset="0.901" stop-color="#90d890"/><stop offset="0.91" stop-color="#8bd68b"/><stop offset="0.937" stop-color="#8ad68a"/><stop offset="0.964" stop-color="#7cd17c"/><stop offset="0.982" stop-color="#6fcc6f"/><stop offset="1" stop-color="#66c866"/></linearGradient>
<linearGradient id="g182" x2="0" y2="1"><stop offset="0" stop-color="#a9e1a9"/><stop offset="0.099" stop-color="#a9e1a9"/><stop offset="0.108" stop-color="#a6e0a6"/><stop offset="0.297" stop-color="#a4e0a4"/><stop offset="0.306" stop-color="#a2dfa2"/><stop offset="0.477" stop-color="#a0dea0"/><stop offset="0.486" stop-color="#9edd9e"/><stop offset="0.64" stop-color="#9cdc9c"/><stop offset="0.649" stop-color="#99db99"/><stop offset="0.793" stop-color="#96da96"/><stop offset="0.802" stop-color="#92d992"/><stop offset="0.901" stop-color="#90d890"/><stop offset="0.91" stop-color="#8bd68b"/><stop offset="0.937" stop-color="#8ad68a"/><stop offset="0.964" stop-color="#7cd17c"/><stop offset="0.982" stop-color="#6fcc6f"/><stop offset="1" stop-color="#66c966"/></linearGradient>
<linearGradient id="g183" x2="0" y2="1"><stop offset="0" stop-color="#a9e1a9"/><stop offset="0.117" stop-color="#a9e1a9"/><stop offset="0.126" stop-color="#a6e0a6"/><stop offset="0.315" stop-color="#a4e0a4"/><stop offset="0.324" stop-color="#a2dfa2"/><stop offset="0.495" stop-color="#a0dea0"/><stop offset="0.505" stop-color="#9edd9e"/><stop offset="0.649" stop-color="#9cdc9c"/><stop offset="0.658" stop-color="#99db99"/><stop offset="0.802" stop-color="#96da96"/><stop offset="0.811" stop-color="#92d992"/><stop offset="0.91" stop-color="#90d890"/><stop offset="0.919" stop-color="#8bd68b"/><stop offset="0.937" stop-color="#8ad68a"/><stop offset="0.964" stop-color="#7cd17c"/><stop offset="0.982" stop-color="#6fcc6f"/><stop offset="1" stop-color="#67c967"/></linearGradient>
<linearGradient id="g184" x2="0" y2="1"><stop offset="0" stop-color="#a9e1a9"/><stop offset="0.135" stop-color="#a9e1a9"/><stop offset="0.144" stop-color="#a6e0a6"/><stop offset="0.333" stop-color="#a4e0a4"/><stop offset="0.342" stop-color="#a2dfa2"/><stop offset="0.505" stop-color="#a0dea0"/><stop offset="0.514" stop-color="#9edd9e"/><stop offset="0.658" stop-color="#9cdc9c"/><stop offset="0.667" stop-color="#99db99"/><stop offset="0.811" stop-color="#96da96"/><stop offset="0.82" stop-color="#92d992"/><stop offset="0.91" stop-color="#90d890"/><stop offset="0.919" stop-color="#8bd68b"/><stop offset="0.937" stop-color="#8ad68a"/><stop offset="0.964" stop-color="#7cd17c"/><stop offset="0.982" stop-color="#6fcc6f"/><stop offset="1" stop-color="#67c967"/></linearGradient>
<linearGradient id="g185" x2="0" y2="1"><stop offset="0" stop-color="#a9e1a9"/><stop offset="0.144" stop-color="#a9e1a9"/><stop offset="0.153" stop-color="#a6e0a6"/><stop offset="0.342" stop-color="#a4e0a4"/><stop offset="0.351" stop-color="#a2dfa2"/><stop offset="0.514" stop-color="#a0dea0"/><stop offset="0.523" stop-color="#9edd9e"/><stop offset="0.667" stop-color="#9cdc9c"/><stop offset="0.676" stop-color="#99db99"/><stop offset="0.811" stop-color="#96da96"/><stop offset="0.82" stop-color="#92d992"/><stop offset="0.91" stop-color="#90d890"/><stop offset="0.919" stop-color="#8bd68b"/><stop offset="0.937" stop-color="#8ad68a"/><stop offset="0.964" stop-color="#7cd17c"/><stop offset="0.982" stop-color="#6fcc6f"/><stop offset="1" stop-color="#67c967"/></linearGradient>
<linearGradient id="g186" x2="0" y2="1"><stop offset="0" stop-color="#aae1aa"/><stop offset="0.162" stop-color="#a9e1a9"/><stop offset="0.171" stop-color="#a6e0a6"/><stop offset="0.351" stop-color="#a4e0a4"/><stop offset="0.36" stop-color="#a2dfa2"/><stop offset="0.523" stop-color="#a0dea0"/><stop offset="0.532" stop-color="#9edd9e"/><stop offset="0.676" stop-color="#9cdc9c"/><stop offset="0.685" stop-color="#99db99"/><stop offset="0.82" stop-color="#96da96"/><stop offset="0.829" stop-color="#92d992"/><stop offset="0.91" stop-color="#90d890"/><stop offset="0.919" stop-color="#8bd68b"/><stop offset="0.937" stop-color="#8ad68a"/><stop offset="0.964" stop-color="#7cd17c"/><stop offset="0.982" stop-color="#6fcc6f"/><stop offset="1" stop-color="#67c967"/></linearGradient>
<linearGradient id="g187" x2="0" y2="1"><stop offset="0" stop-color="#aae1aa"/><stop offset="0.171" stop-color="#a9e1a9"/><stop offset="0.18" stop-color="#a6e0a6"/><stop offset="0.36" stop-color="#a4e0a4"/><stop offset="0.369" stop-color="#a2dfa2"/><stop offset="0.523" stop-color="#a0dea0"/><stop offset="0.532" stop-color="#9edd9e"/><stop offset="0.676" stop-color="#9cdc9c"/><stop offset="0.685" stop-color="#99db99"/><stop offset="0.82" stop-color="#96da96"/><stop offset="0.829" stop-color="#92d992"/><stop offset="0.91" stop-color="#90d890"/><stop offset="0.919" stop-color="#8bd68b"/><stop offset="0.937" stop-color="#8ad68a"/><stop offset="0.964" stop-color="#7cd17c"/><stop offset="0.982" stop-color="#6fcc6f"/><stop offset="1" stop-color="#67c967"/></linearGradient>
<linearGradient id="g188" x2="0" y2="1"><stop offset="0" stop-color="#aae1aa"/><stop offset="0.18" stop-color="#a9e1a9"/><stop offset="0.189" stop-color="#a6e0a6"/><stop offset="0.36" stop-color="#a4e0a4"/><stop offset="0.369" stop-color="#a2dfa2"/><stop offset="0.532" stop-color="#a0dea0"/><stop offset="0.541" stop-color="#9edd9e"/><stop offset="0.685" stop-color="#9cdc9c"/><stop offset="0.694" stop-color="#99db99"/><stop offset="0.82" stop-color="#96da96"/><stop offset="0.829" stop-color="#92d992"/><stop offset="0.91" stop-color="#90d890"/><stop offset="0.919" stop-color="#8bd68b"/><stop offset="0.937" stop-color="#8ad68a"/><stop offset="0.964" stop-color="#7cd17c"/><stop offset="0.982" stop-color="#6fcc6f"/><stop offset="1" stop-color="#67c967"/></linearGradient>
<linearGradient id="g189" x2="0" y2="1"><stop offset="0" stop-color="#aae1aa"/><stop offset="0.18" stop-color="#a9e1a9"/><stop offset="0.189" stop-color="#a6e0a6"/><stop offset="0.369" stop-color="#a4e0a4"/><stop offset="0.378" stop-color="#a2dfa2"/><stop offset="0.532" stop-color="#a0dea0"/><stop offset="0.541" stop-color="#9edd9e"/><stop offset="0.685" stop-color="#9cdc9c"/><stop offset="0.694" stop-color="#99db99"/><stop offset="0.82" stop-color="#97da97"/><stop offset="0.829" stop-color="#92d992"/><stop offset="0.91" stop-color="#90d890"/><stop offset="0.919" stop-color="#8bd68b"/><stop offset="0.937" stop-color="#8ad68a"/><stop offset="0.964" stop-color="#7cd17c"/><stop offset="0.982" stop-color="#6fcc6f"/><stop offset="1" stop-color="#67c967"/></linearGradient>
<linearGradient id="g190" x2="0" y2="1"><stop offset="0" stop-color="#aae1aa"/><stop offset="0.189" stop-color="#a9e1a9"/><stop offset="0.198" stop-color="#a6e0a6"/><stop offset="0.369" stop-color="#a4e0a4"/><stop offset="0.378" stop-color="#a2dfa2"/><stop offset="0.541" stop-color="#a0dea0"/><stop offset="0.55" stop-color="#9edd9e"/><stop offset="0.694" stop-color="#9cdc9c"/><stop offset="0.703" stop-color="#99db99"/><stop offset="0.82" stop-color="#97db97"/><stop offset="0.829" stop-color="#93d993"/><stop offset="0.91" stop-color="#90d890"/><stop offset="0.919" stop-color="#8bd68b"/><stop offset="0.937" stop-color="#8ad68a"/><stop offset="0.964" stop-color="#7cd17c"/><stop offset="0.982" stop-color="#6fcc6f"/><stop offset="1" stop-color="#67c967"/></linearGradient>
<linearGradient id="g191" x2="0" y2="1"><stop offset="0" stop-color="#aae1aa"/><stop offset="0.198" stop-color="#a9e1a9"/><stop offset="0.207" stop-color="#a6e0a6"/><stop offset="0.378" stop-color="#a4e0a4"/><stop offset="0.387" stop-color="#a2dfa2"/><stop offset="0.541" stop-color="#a0dea0"/><stop offset="0.55" stop-color="#9edd9e"/><stop offset="0.694" stop-color="#9cdc9c"/><stop offset="0.703" stop-color="#99db99"/><stop offset="0.829" stop-color="#96da96"/><stop offset="0.838" stop-color="#92d992"/><stop offset="0.91" stop-color="#90d890"/><stop offset="0.919" stop-color="#8bd68b"/><stop offset="0.937" stop-color="#8ad68a"/><stop offset="0.964" stop-color="#7cd17c"/><stop offset="0.982" stop-color="#6fcc6f"/><stop offset="1" stop-color="#67c967"/></linearGradient>
<linearGradient id="g192" x2="0" y2="1"><stop offset="0" stop-color="#aae2aa"/><stop offset="0.198" stop-color="#a9e1a9"/><stop offset="0.207" stop-color="#a6e0a6"/><stop offset="0.378" stop-color="#a4e0a4"/><stop offset="0.387" stop-color="#a2dfa2"/><stop offset="0.541" stop-color="#a0dea0"/><stop offset="0.55" stop-color="#9edd9e"/><stop offset="0.694" stop-color="#9cdc9c"/><stop offset="0.703" stop-color="#99db99"/><stop offset="0.829" stop-color="#96da96"/><stop offset="0.838" stop-color="#92d992"/><stop offset="0.91" stop-color="#90d890"/><stop offset="0.919" stop-color="#8bd68b"/><stop offset="0.937" stop-color="#8ad68a"/><stop offset="0.964" stop-color="#7cd17c"/><stop offset="0.982" stop-color="#6fcc6f"/><stop offset="1" stop-color="#67c967"/></linearGradient>
<linearGradient id="g193" x2="0" y2="1"><stop offset="0" stop-color="#aae2aa"/><stop offset="0.207" stop-color="#a9e1a9"/><stop offset="0.216" stop-color="#a6e0a6"/><stop offset="0.387" stop-color="#a4e0a4"/><stop offset="0.396" stop-color="#a2dfa2"/><stop offset="0.541" stop-color="#a0dea0"/><stop offset="0.55" stop-color="#9edd9e"/><stop offset="0.694" stop-color="#9cdc9c"/><stop offset="0.703" stop-color="#99db99"/><stop offset="0.829" stop-color="#96da96"/><stop offset="0.838" stop-color="#92d992"/><stop offset="0.91" stop-color="#90d890"/><stop offset="0.919" stop-color="#8bd68b"/><stop offset="0.937" stop-color="#8ad68a"/><stop offset="0.964" stop-color="#7cd17c"/><stop offset="0.982" stop-color="#6fcc6f"/><stop offset="1" stop-color="#67c967"/></linearGradient>
<linearGradient id="g194" x2="0" y2="1"><stop offset="0" stop-color="#aae2aa"/><stop offset="0.207" stop-color="#a9e1a9"/><stop offset="0.216" stop-color="#a6e0a6"/><stop offset="0.387" stop-color="#a4e0a4"/><stop offset="0.396" stop-color="#a2dfa2"/><stop offset="0.55" stop-color="#a0dea0"/><stop offset="0.559" stop-color="#9edd9e"/><stop offset="0.694" stop-color="#9cdc9c"/><stop offset="0.703" stop-color="#99db99"/><stop offset="0.829" stop-color="#96da96"/><stop offset="0.838" stop-color="#92d992"/><stop offset="0.91" stop-color="#90d890"/><stop offset="0.919" stop-color="#8bd68b"/><stop offset="0.937" stop-color="#8ad68a"/><stop offset="0.964" stop-color="#7cd17c"/><stop offset="0.982" stop-color="#6fcc6f"/><stop offset="1" stop-color="#67c967"/></linearGradient>
<linearGradient id="g195" x2="0" y2="1"><stop offset="0" stop-color="#aae2aa"/><stop offset="0.207" stop-color="#a9e1a9"/><stop offset="0.216" stop-color="#a6e0a6"/><stop offset="0.387" stop-color="#a4e0a4"/><stop offset="0.396" stop-color="#a2dfa2"/><stop offset="0.55" stop-color="#a0dea0"/><stop offset="0.559" stop-color="#9edd9e"/><stop offset="0.694" stop-color="#9cdc9c"/><stop offset="0.703" stop-color="#99db99"/><stop offset="0.82" stop-color="#97db97"/><stop offset="0.829" stop-color="#93d993"/><stop offset="0.91" stop-color="#90d890"/><stop offset="0.919" stop-color="#8bd68b"/><stop offset="0.937" stop-color="#8ad68a"/><stop offset="0.964" stop-color="#7cd17c"/><stop offset="0.982" stop-color="#6fcc6f"/><stop offset="1" stop-color="#67c967"/></linearGradient>
<linearGradient id="g196" x2="0" y2="1"><stop offset="0" stop-color="#aae2aa"/><stop offset="0.207" stop-color="#a9e1a9"/><stop offset="0.216" stop-color="#a6e0a6"/><stop offset="0.387" stop-color="#a4e0a4"/><stop offset="0.396" stop-color="#a2dfa2"/><stop offset="0.55" stop-color="#a0dea0"/><stop offset="0.559" stop-color="#9edd9e"/><stop offset="0.694" stop-color="#9cdc9c"/><stop offset="0.703" stop-color="#99db99"/><stop offset="0.82" stop-color="#97da97"/><stop offset="0.829" stop-color="#93d993"/><stop offset="0.91" stop-color="#90d890"/><stop offset="0.919" stop-color="#8bd68b"/><stop offset="0.937" stop-color="#8ad68a"/><stop offset="0.964" stop-color="#7cd17c"/><stop offset="0.982" stop-color="#6fcc6f"/><stop offset="1" stop-color="#66c966"/></linearGradient>
<linearGradient id="g197" x2="0" y2="1"><stop offset="0" stop-color="#aae2aa"/><stop offset="0.207" stop-color="#a9e1a9"/><stop offset="0.216" stop-color="#a6e0a6"/><stop offset="0.387" stop-color="#a4e0a4"/><stop offset="0.396" stop-color="#a2dfa2"/><stop offset="0.55" stop-color="#a0dea0"/><stop offset="0.559" stop-color="#9edd9e"/><stop offset="0.694" stop-color="#9cdc9c"/><stop offset="0.703" stop-color="#99db99"/><stop offset="0.82" stop-color="#97da97"/><stop offset="0.829" stop-color="#92d992"/><stop offset="0.901" stop-color="#90d890"/><stop offset="0.91" stop-color="#8bd68b"/><stop offset="0.937" stop-color="#8ad68a"/><stop offset="0.964" stop-color="#7cd17c"/><stop offset="0.982" stop-color="#6fcc6f"/><stop offset="1" stop-color="#66c966"/></linearGradient>
<linearGradient id="g198" x2="0" y2="1"><stop offset="0" stop-color="#aae2aa"/><stop offset="0.207" stop-color="#a9e1a9"/><stop offset="0.216" stop-color="#a6e0a6"/><stop offset="0.387" stop-color="#a4e0a4"/><stop offset="0.396" stop-color="#a2dfa2"/><stop offset="0.541" stop-color="#a0dea0"/><stop offset="0.55" stop-color="#9edd9e"/><stop offset="0.694" stop-color="#9cdc9c"/><stop offset="0.703" stop-color="#99db99"/><stop offset="0.82" stop-color="#96da96"/><stop offset="0.829" stop-color="#92d992"/><stop offset="0.901" stop-color="#90d890"/><stop offset="0.91" stop-color="#8bd68b"/><stop offset="0.937" stop-color="#8ad68a"/><stop offset="0.964" stop-color="#7cd17c"/><stop offset="0.982" stop-color="#6fcc6f"/><stop offset="1" stop-color="#66c966"/></linearGradient>
<linearGradient id="g199" x2="0" y2="1"><stop offset="0" stop-color="#aae2aa"/><stop offset="0.207" stop-color="#a9e1a9"/><stop offset="0.216" stop-color="#a6e0a6"/><stop offset="0.387" stop-color="#a4e0a4"/><stop offset="0.396" stop-color="#a2dfa2"/><stop offset="0.541" stop-color="#a0dea0"/><stop offset="0.55" stop-color="#9edd9e"/><stop offset="0.694" stop-color="#9cdc9c"/><stop offset="0.703" stop-color="#99db99"/><stop offset="0.82" stop-color="#96da96"/><stop offset="0.829" stop-color="#92d992"/><stop offset="0.901" stop-color="#90d890"/><stop offset="0.91" stop-color="#8bd68b"/><stop offset="0.937" stop-color="#8ad68a"/><stop offset="0.964" stop-color="#7cd17c"/><stop offset="0.982" stop-color="#6fcc6f"/><stop offset="1" stop-color="#66c866"/></linearGradient>
<linearGradient id="g200" x2="0" y2="1"><stop offset="0" stop-color="#aae2aa"/><stop offset="0.207" stop-color="#a9e1a9"/><stop offset="0.216" stop-color="#a6e0a6"/><stop offset="0.378" stop-color="#a4e0a4"/><stop offset="0.387" stop-color="#a2dfa2"/><stop offset="0.541" stop-color="#a0dea0"/><stop offset="0.55" stop-color="#9edd9e"/><stop offset="0.694" stop-color="#9cdc9c"/><stop offset="0.703" stop-color="#99db99"/><stop offset="0.82" stop-color="#96da96"/><stop offset="0.829" stop-color="#92d992"/><stop offset="0.901" stop-color="#90d890"/><stop offset="0.91" stop-color="#8bd68b"/><stop offset="0.937" stop-color="#8ad68a"/><stop offset="0.964" stop-color="#7cd17c"/><stop offset="0.982" stop-color="#6ecc6e"/><stop offset="1" stop-color="#66c866"/></linearGradient>
<linearGradient id="g201" x2="0" y2="1"><stop offset="0" stop-color="#aae2aa"/><stop offset="0.207" stop-color="#a9e1a9"/><stop offset="0.216" stop-color="#a6e0a6"/><stop offset="0.378" stop-color="#a4e0a4"/><stop offset="0.387" stop-color="#a2dfa2"/><stop offset="0.541" stop-color="#a0dea0"/><stop offset="0.55" stop-color="#9edd9e"/><stop offset="0.685" stop-color="#9cdc9c"/><stop offset="0.694" stop-color="#99db99"/><stop offset="0.811" stop-color="#97db97"/><stop offset="0.82" stop-color="#93d993"/><stop offset="0.901" stop-color="#90d890"/><stop offset="0.91" stop-color="#8bd68b"/><stop offset="0.937" stop-color="#8ad68a"/><stop offset="0.964" stop-color="#7cd17c"/><stop offset="0.982" stop-color="#6ecc6e"/><stop offset="1" stop-color="#66c866"/></linearGradient>
<linearGradient id="g202" x2="0" y2="1"><stop offset="0" stop-color="#aae2aa"/><stop offset="0.207" stop-color="#a9e1a9"/><stop offset="0.216" stop-color="#a6e0a6"/><stop offset="0.378" stop-color="#a4e0a4"/><stop offset="0.387" stop-color="#a2dfa2"/><stop offset="0.541" stop-color="#a0dea0"/><stop offset="0.55" stop-color="#9edd9e"/><stop offset="0.685" stop-color="#9cdc9c"/><stop offset="0.694" stop-color="#99db99"/><stop offset="0.811" stop-color="#97da97"/><stop offset="0.82" stop-color="#92d992"/><stop offset="0.892" stop-color="#90d890"/><stop offset="0.901" stop-color="#8bd68b"/><stop offset="0.937" stop-color="#8ad68a"/><stop offset="0.964" stop-color="#7cd17c"/><stop offset="0.982" stop-color="#6ecc6e"/><stop offset="0.991" stop-color="#6aca6a"/><stop offset="1" stop-color="#63c763"/></linearGradient>
<linearGradient id="g203" x2="0" y2="1"><stop offset="0" stop-color="#aae2aa"/><stop offset="0.207" stop-color="#a9e1a9"/><stop offset="0.216" stop-color="#a6e0a6"/><stop offset="0.378" stop-color="#a4e0a4"/><stop offset="0.387" stop-color="#a2dfa2"/><stop offset="0.541" stop-color="#a0dea0"/><stop offset="0.55" stop-color="#9edd9e"/><stop offset="0.685" stop-color="#9cdc9c"/><stop offset="0.694" stop-color="#99db99"/><stop offset="0.811" stop-color="#97da97"/><stop offset="0.82" stop-color="#92d992"/><stop offset="0.892" stop-color="#90d890"/><stop offset="0.901" stop-color="#8bd68b"/><stop offset="0.937" stop-color="#89d689"/><stop offset="0.964" stop-color="#7cd17c"/><stop offset="0.982" stop-color="#6ecc6e"/><stop offset="0.991" stop-color="#6aca6a"/><stop offset="1" stop-color="#63c763"/></linearGradient>
<linearGradient id="g204" x2="0" y2="1"><stop offset="0" stop-color="#aae2aa"/><stop offset="0.198" stop-color="#a9e1a9"/><stop offset="0.207" stop-color="#a6e0a6"/><stop offset="0.378" stop-color="#a4e0a4"/><stop offset="0.387" stop-color="#a2dfa2"/><stop offset="0.541" stop-color="#a0dea0"/><stop offset="0.55" stop-color="#9edd9e"/><stop offset="0.685" stop-color="#9cdc9c"/><stop offset="0.694" stop-color="#99db99"/><stop offset="0.811" stop-color="#96da96"/><stop offset="0.82" stop-color="#92d992"/><stop offset="0.892" stop-color="#90d890"/><stop offset="0.901" stop-color="#8bd68b"/><stop offset="0.937" stop-color="#89d689"/><stop offset="0.964" stop-color="#7cd17c"/><stop offset="0.982" stop-color="#6ecc6e"/><stop offset="0.991" stop-color="#6aca6a"/><stop offset="1" stop-color="#63c763"/></linearGradient>
<linearGradient id="g205" x2="0" y2="1"><stop offset="0" stop-color="#aae2aa"/><stop offset="0.198" stop-color="#a9e1a9"/><stop offset="0.207" stop-color="#a6e0a6"/><stop offset="0.378" stop-color="#a4e0a4"/><stop offset="0.387" stop-color="#a2dfa2"/><stop offset="0.532" stop-color="#a0dea0"/><stop offset="0.541" stop-color="#9edd9e"/><stop offset="0.685" stop-color="#9cdc9c"/><stop offset="0.694" stop-color="#99db99"/><stop offset="0.811" stop-color="#96da96"/><stop offset="0.82" stop-color="#92d992"/><stop offset="0.892" stop-color="#90d890"/><stop offset="0.901" stop-color="#8bd68b"/><stop offset="0.937" stop-color="#89d689"/><stop offset="0.964" stop-color="#7cd17c"/><stop offset="0.982" stop-color="#6ecc6e"/><stop offset="0.991" stop-color="#6aca6a"/><stop offset="1" stop-color="#63c763"/></linearGradient>
<linearGradient id="g206" x2="0" y2="1"><stop offset="0" stop-color="#aae2aa"/><stop offset="0.198" stop-color="#a9e1a9"/><stop offset="0.207" stop-color="#a6e0a6"/><stop offset="0.378" stop-color="#a4e0a4"/><stop offset="0.387" stop-color="#a2dfa2"/><stop offset="0.532" stop-color="#a0dea0"/><stop offset="0.541" stop-color="#9edd9e"/><stop offset="0.685" stop-color="#9cdc9c"/><stop offset="0.694" stop-color="#99db99"/><stop offset="0.811" stop-color="#96da96"/><stop offset="0.82" stop-color="#92d992"/><stop offset="0.892" stop-color="#90d890"/><stop offset="0.901" stop-color="#8bd68b"/><stop offset="0.937" stop-color="#89d689"/><stop offset="0.964" stop-color="#7cd17c"/><stop offset="0.982" stop-color="#6ecb6e"/><stop offset="0.991" stop-color="#6aca6a"/><stop offset="1" stop-color="#63c763"/></linearGradient>
<linearGradient id="g207" x2="0" y2="1"><stop offset="0" stop-color="#aae2aa"/><stop offset="0.198" stop-color="#a9e1a9"/><stop offset="0.207" stop-color="#a6e0a6"/><stop offset="0.369" stop-color="#a4e0a4"/><stop offset="0.378" stop-color="#a2dfa2"/><stop offset="0.532" stop-color="#a0dea0"/><stop offset="0.541" stop-color="#9edd9e"/><stop offset="0.685" stop-color="#9cdc9c"/><stop offset="0.694" stop-color="#99db99"/><stop offset="0.811" stop-color="#96da96"/><stop offset="0.82" stop-color="#92d992"/><stop offset="0.892" stop-color="#90d890"/><stop offset="0.901" stop-color="#8bd68b"/><stop offset="0.937" stop-color="#89d689"/><stop offset="0.964" stop-color="#7cd17c"/><stop offset="0.982" stop-color="#6ecb6e"/><stop offset="0.991" stop-color="#6aca6a"/><stop offset="1" stop-color="#63c763"/></linearGradient>
<linearGradient id="g208" x2="0" y2="1"><stop offset="0" stop-color="#aae2aa"/><stop offset="0.198" stop-color="#a9e1a9"/><stop offset="0.207" stop-color="#a6e0a6"/><stop offset="0.369" stop-color="#a4e0a4"/><stop offset="0.378" stop-color="#a2dfa2"/><stop offset="0.532" stop-color="#a0dea0"/><stop offset="0.541" stop-color="#9edd9e"/><stop offset="0.676" stop-color="#9cdc9c"/><stop offset="0.685" stop-color="#99db99"/><stop offset="0.802" stop-color="#97da97"/><stop offset="0.811" stop-color="#92d992"/><stop offset="0.883" stop-color="#90d890"/><stop offset="0.892" stop-color="#8bd68b"/><stop offset="0.937" stop-color="#89d689"/><stop offset="0.964" stop-color="#7bd07b"/><stop offset="0.991" stop-color="#67c967"/><stop offset="1" stop-color="#63c763"/></linearGradient>
<linearGradient id="g209" x2="0" y2="1"><stop offset="0" stop-color="#aae2aa"/><stop offset="0.198" stop-color="#a9e1a9"/><stop offset="0.207" stop-color="#a6e0a6"/><stop offset="0.369" stop-color="#a4e0a4"/><stop offset="0.378" stop-color="#a2dfa2"/><stop offset="0.532" stop-color="#a0dea0"/><stop offset="0.541" stop-color="#9edd9e"/><stop offset="0.676" stop-color="#9cdc9c"/><stop offset="0.685" stop-color="#99db99"/><stop offset="0.802" stop-color="#96da96"/><stop offset="0.811" stop-color="#92d992"/><stop offset="0.883" stop-color="#90d890"/><stop offset="0.892" stop-color="#8bd68b"/><stop offset="0.937" stop-color="#89d689"/><stop offset="0.964" stop-color="#7bd07b"/><stop offset="0.991" stop-color="#67c967"/><stop offset="1" stop-color="#63c763"/></linearGradient>
<linearGradient id="g210" x2="0" y2="1"><stop offset="0" stop-color="#aae2aa"/><stop offset="0.189" stop-color="#a9e1a9"/><stop offset="0.198" stop-color="#a6e0a6"/><stop offset="0.369" stop-color="#a4e0a4"/><stop offset="0.378" stop-color="#a2dfa2"/><stop offset="0.523" stop-color="#a0dea0"/><stop offset="0.532" stop-color="#9edd9e"/><stop offset="0.676" stop-color="#9cdc9c"/><stop offset="0.685" stop-color="#99db99"/><stop offset="0.802" stop-color="#96da96"/><stop offset="0.811" stop-color="#92d992"/><stop offset="0.883" stop-color="#90d890"/><stop offset="0.892" stop-color="#8bd68b"/><stop offset="0.937" stop-color="#89d689"/><stop offset="0.964" stop-color="#7bd07b"/><stop offset="0.991" stop-color="#67c967"/><stop offset="1" stop-color="#63c763"/></linearGradient>
<linearGradient id="g211" x2="0" y2="1"><stop offset="0" stop-color="#aae2aa"/><stop offset="0.189" stop-color="#a9e1a9"/><stop offset="0.198" stop-color="#a6e0a6"/><stop offset="0.369" stop-color="#a4e0a4"/><stop offset="0.378" stop-color="#a2dfa2"/><stop offset="0.523" stop-color="#a0dea0"/><stop offset="0.532" stop-color="#9edd9e"/><stop offset="0.676" stop-color="#9cdc9c"/><stop offset="0.685" stop-color="#99db99"/><stop offset="0.802" stop-color="#96da96"/><stop offset="0.811" stop-color="#92d992"/><stop offset="0.883" stop-color="#90d890"/><stop offset="0.892" stop-color="#8bd68b"/><stop offset="0.937" stop-color="#89d589"/><stop offset="0.964" stop-color="#7bd07b"/><stop offset="0.991" stop-color="#67c967"/><stop offset="1" stop-color="#63c763"/></linearGradient>
<linearGradient id="g212" x2="0" y2="1"><stop offset="0" stop-color="#aae2aa"/><stop offset="0.189" stop-color="#a9e1a9"/><stop offset="0.198" stop-color="#a6e0a6"/><stop offset="0.36" stop-color="#a4e0a4"/><stop offset="0.369" stop-color="#a2dfa2"/><stop offset="0.523" stop-color="#a0dea0"/><stop offset="0.532" stop-color="#9edd9e"/><stop offset="0.667" stop-color="#9cdc9c"/><stop offset="0.676" stop-color="#99db99"/><stop offset="0.793" stop-color="#97db97"/><stop offset="0.802" stop-color="#93d993"/><stop offset="0.874" stop-color="#90d890"/><stop offset="0.883" stop-color="#8bd68b"/><stop offset="0.937" stop-color="#89d589"/><stop offset="0.964" stop-color="#7bd07b"/><stop offset="0.973" stop-color="#74ce74"/><stop offset="0.982" stop-color="#6bca6b"/><stop offset="1" stop-color="#63c763"/></linearGradient>
<linearGradient id="g213" x2="0" y2="1"><stop offset="0" stop-color="#aae2aa"/><stop offset="0.189" stop-color="#a9e1a9"/><stop offset="0.198" stop-color="#a6e0a6"/><stop offset="0.36" stop-color="#a4e0a4"/><stop offset="0.369" stop-color="#a2dfa2"/><stop offset="0.523" stop-color="#a0dea0"/><stop offset="0.532" stop-color="#9edd9e"/><stop offset="0.667" stop-color="#9cdc9c"/><stop offset="0.676" stop-color="#99db99"/><stop offset="0.793" stop-color="#97da97"/><stop offset="0.802" stop-color="#92d992"/><stop offset="0.874" stop-color="#90d890"/><stop offset="0.883" stop-color="#8bd68b"/><stop offset="0.937" stop-color="#89d589"/><stop offset="0.964" stop-color="#7bd07b"/><stop offset="0.973" stop-color="#74ce74"/><stop offset="0.982" stop-color="#6bca6b"/><stop offset="1" stop-color="#63c763"/></linearGradient>
<linearGradient id="g214" x2="0" y2="1"><stop offset="0" stop-color="#aae2aa"/><stop offset="0.189" stop-color="#a9e1a9"/><stop offset="0.198" stop-color="#a6e0a6"/><stop offset="0.36" stop-color="#a4e0a4"/><stop offset="0.369" stop-color="#a2dfa2"/><stop offset="0.523" stop-color="#a0dea0"/><stop offset="0.532" stop-color="#9edd9e"/><stop offset="0.667" stop-color="#9cdc9c"/><stop offset="0.676" stop-color="#99db99"/><stop offset="0.793" stop-color="#96da96"/><stop offset="0.802" stop-color="#92d992"/><stop offset="0.874" stop-color="#90d890"/><stop offset="0.883" stop-color="#8bd68b"/><stop offset="0.937" stop-color="#89d589"/><stop offset="0.964" stop-color="#7bd07b"/><stop offset="0.973" stop-color="#74ce74"/><stop offset="0.982" stop-color="#6bca6b"/><stop offset="1" stop-color="#63c763"/></linearGradient>
<linearGradient id="g215" x2="0" y2="1"><stop offset="0" stop-color="#aae2aa"/><stop offset="0.18" stop-color="#a9e1a9"/><stop offset="0.189" stop-color="#a6e0a6"/><stop offset="0.36" stop-color="#a4e0a4"/><stop offset="0.369" stop-color="#a2dfa2"/><stop offset="0.514" stop-color="#a0dea0"/><stop offset="0.523" stop-color="#9edd9e"/><stop offset="0.667" stop-color="#9cdc9c"/><stop offset="0.676" stop-color="#99db99"/><stop offset="0.793" stop-color="#96da96"/><stop offset="0.802" stop-color="#92d992"/><stop offset="0.874" stop-color="#90d890"/><stop offset="0.883" stop-color="#8bd68b"/><stop offset="0.937" stop-color="#89d589"/><stop offset="0.964" stop-color="#7bd07b"/><stop offset="0.973" stop-color="#74ce74"/><stop offset="0.982" stop-color="#6bca6b"/><stop offset="1" stop-color="#63c763"/></linearGradient>
<linearGradient id="g216" x2="0" y2="1"><stop offset="0" stop-color="#aae2aa"/><stop offset="0.18" stop-color="#a9e1a9"/><stop offset="0.189" stop-color="#a6e0a6"/><stop offset="0.36" stop-color="#a4e0a4"/><stop offset="0.369" stop-color="#a2dfa2"/><stop offset="0.514" stop-color="#a0dea0"/><stop offset="0.523" stop-color="#9edd9e"/><stop offset="0.667" stop-color="#9cdc9c"/><stop offset="0.676" stop-color="#99db99"/><stop offset="0.793" stop-color="#96da96"/><stop offset="0.802" stop-color="#92d992"/><stop offset="0.874" stop-color="#90d890"/><stop offset="0.883" stop-color="#8bd68b"/><stop offset="0.937" stop-color="#89d589"/><stop offset="0.964" stop-color="#7bd07b"/><stop offset="0.973" stop-color="#74ce74"/><stop offset="0.982" stop-color="#6bca6b"/><stop offset="1" stop-color="#62c762"/></linearGradient>
<linearGradient id="g217" x2="0" y2="1"><stop offset="0" stop-color="#aae2aa"/><stop offset="0.18" stop-color="#a9e1a9"/><stop offset="0.189" stop-color="#a6e0a6"/><stop offset="0.351" stop-color="#a4e0a4"/><stop offset="0.36" stop-color="#a2dfa2"/><stop offset="0.514" stop-color="#a0dea0"/><stop offset="0.523" stop-color="#9edd9e"/><stop offset="0.658" stop-color="#9cdc9c"/><stop offset="0.667" stop-color="#99db99"/><stop offset="0.784" stop-color="#97db97"/><stop offset="0.793" stop-color="#93d993"/><stop offset="0.865" stop-color="#90d890"/><stop offset="0.874" stop-color="#8bd68b"/><stop offset="0.937" stop-color="#89d589"/><stop offset="0.964" stop-color="#7bd07b"/><stop offset="0.973" stop-color="#71cd71"/><stop offset="0.982" stop-color="#6bca6b"/><stop offset="1" stop-color="#62c762"/></linearGradient>
<linearGradient id="g218" x2="0" y2="1"><stop offset="0" stop-color="#aae2aa"/><stop offset="0.18" stop-color="#a9e1a9"/><stop offset="0.189" stop-color="#a6e0a6"/><stop offset="0.351" stop-color="#a4e0a4"/><stop offset="0.36" stop-color="#a2dfa2"/><stop offset="0.514" stop-color="#a0dea0"/><stop offset="0.523" stop-color="#9edd9e"/><stop offset="0.658" stop-color="#9cdc9c"/><stop offset="0.667" stop-color="#99db99"/><stop offset="0.784" stop-color="#97da97"/><stop offset="0.793" stop-color="#92d992"/><stop offset="0.865" stop-color="#90d890"/><stop offset="0.874" stop-color="#8bd68b"/><stop offset="0.937" stop-color="#89d589"/><stop offset="0.964" stop-color="#7bd07b"/><stop offset="0.973" stop-color="#71cd71"/><stop offset="0.982" stop-color="#6bca6b"/><stop offset="1" stop-color="#62c762"/></linearGradient>
<linearGradient id="g219" x2="0" y2="1"><stop offset="0" stop-color="#aae2aa"/><stop offset="0.18" stop-color="#a9e1a9"/><stop offset="0.189" stop-color="#a6e0a6"/><stop offset="0.351" stop-color="#a4e0a4"/><stop offset="0.36" stop-color="#a2dfa2"/><stop offset="0.514" stop-color="#a0dea0"/><stop offset="0.523" stop-color="#9edd9e"/><stop offset="0.658" stop-color="#9cdc9c"/><stop offset="0.667" stop-color="#99db99"/><stop offset="0.784" stop-color="#96da96"/><stop offset="0.793" stop-color="#92d992"/><stop offset="0.865" stop-color="#90d890"/><stop offset="0.874" stop-color="#8bd68b"/><stop offset="0.937" stop-color="#88d588"/><stop offset="0.964" stop-color="#7bd07b"/><stop offset="0.973" stop-color="#71cd71"/><stop offset="0.982" stop-color="#6bca6b"/><stop offset="1" stop-color="#62c762"/></linearGradient>
<linearGradient id="g220" x2="0" y2="1"><stop offset="0" stop-color="#aae2aa"/><stop offset="0.171" stop-color="#a9e1a9"/><stop offset="0.18" stop-color="#a6e0a6"/><stop offset="0.351" stop-color="#a4e0a4"/><stop offset="0.36" stop-color="#a2dfa2"/><stop offset="0.505" stop-color="#a0dea0"/><stop offset="0.514" stop-color="#9edd9e"/><stop offset="0.658" stop-color="#9cdc9c"/><stop offset="0.667" stop-color="#99db99"/><stop offset="0.784" stop-color="#96da96"/><stop offset="0.793" stop-color="#92d992"/><stop offset="0.865" stop-color="#90d890"/><stop offset="0.874" stop-color="#8bd68b"/><stop offset="0.937" stop-color="#88d588"/><stop offset="0.964" stop-color="#7bd07b"/><stop offset="0.973" stop-color="#71cd71"/><stop offset="0.982" stop-color="#6bca6b"/><stop offset="1" stop-color="#62c762"/></linearGradient>
<linearGradient id="g221" x2="0" y2="1"><stop offset="0" stop-color="#aae1aa"/><stop offset="0.171" stop-color="#a9e1a9"/><stop offset="0.18" stop-color="#a6e0a6"/><stop offset="0.351" stop-color="#a4e0a4"/><stop offset="0.36" stop-color="#a2dfa2"/><stop offset="0.505" stop-color="#a0dea0"/><stop offset="0.514" stop-color="#9edd9e"/><stop offset="0.658" stop-color="#9cdc9c"/><stop offset="0.667" stop-color="#99db99"/><stop offset="0.784" stop-color="#96da96"/><stop offset="0.793" stop-color="#92d992"/><stop offset="0.865" stop-color="#90d890"/><stop offset="0.874" stop-color="#8bd68b"/><stop offset="0.937" stop-color="#88d588"/><stop offset="0.964" stop-color="#7bd07b"/><stop offset="0.973" stop-color="#71cd71"/><stop offset="0.982" stop-color="#6aca6a"/><stop offset="1" stop-color="#62c762"/></linearGradient>
<linearGradient id="g222" x2="0" y2="1"><stop offset="0" stop-color="#aae1aa"/><stop offset="0.171" stop-color="#a9e1a9"/><stop offset="0.18" stop-color="#a6e0a6"/><stop offset="0.342" stop-color="#a4e0a4"/><stop offset="0.351" stop-color="#a2dfa2"/><stop offset="0.505" stop-color="#a0dea0"/><stop offset="0.514" stop-color="#9edd9e"/><stop offset="0.649" stop-color="#9cdc9c"/><stop offset="0.658" stop-color="#99db99"/><stop offset="0.775" stop-color="#97db97"/><stop offset="0.784" stop-color="#93d993"/><stop offset="0.856" stop-color="#90d890"/><stop offset="0.865" stop-color="#8bd68b"/><stop offset="0.937" stop-color="#88d588"/><stop offset="0.955" stop-color="#7fd27f"/><stop offset="0.982" stop-color="#6aca6a"/><stop offset="1" stop-color="#62c762"/></linearGradient>
<linearGradient id="g223" x2="0" y2="1"><stop offset="0" stop-color="#aae1aa"/><stop offset="0.171" stop-color="#a9e1a9"/><stop offset="0.18" stop-color="#a6e0a6"/><stop offset="0.342" stop-color="#a4e0a4"/><stop offset="0.351" stop-color="#a2dfa2"/><stop offset="0.505" stop-color="#a0dea0"/><stop offset="0.514" stop-color="#9edd9e"/><stop offset="0.649" stop-color="#9cdc9c"/><stop offset="0.658" stop-color="#99db99"/><stop offset="0.775" stop-color="#97da97"/><stop offset="0.784" stop-color="#92d992"/><stop offset="0.856" stop-color="#90d890"/><stop offset="0.865" stop-color="#8bd68b"/><stop offset="0.937" stop-color="#88d588"/><stop offset="0.955" stop-color="#7fd27f"/><stop offset="0.982" stop-color="#6aca6a"/><stop offset="1" stop-color="#62c762"/></linearGradient>
<linearGradient id="g224" x2="0" y2="1"><stop offset="0" stop-color="#aae1aa"/><stop offset="0.171" stop-color="#a9e1a9"/><stop offset="0.18" stop-color="#a6e0a6"/><stop offset="0.342" stop-color="#a4e0a4"/><stop offset="0.351" stop-color="#a2dfa2"/><stop offset="0.505" stop-color="#a0dea0"/><stop offset="0.514" stop-color="#9edd9e"/><stop offset="0.649" stop-color="#9cdc9c"/><stop offset="0.658" stop-color="#99db99"/><stop offset="0.775" stop-color="#96da96"/><stop offset="0.784" stop-color="#92d992"/><stop offset="0.856" stop-color="#90d890"/><stop offset="0.865" stop-color="#8bd68b"/><stop offset="0.937" stop-color="#88d588"/><stop offset="0.955" stop-color="#7fd27f"/><stop offset="0.982" stop-color="#6aca6a"/><stop offset="1" stop-color="#62c762"/></linearGradient>
<linearGradient id="g225" x2="0" y2="1"><stop offset="0" stop-color="#aae1aa"/><stop offset="0.162" stop-color="#a9e1a9"/><stop offset="0.171" stop-color="#a6e0a6"/><stop offset="0.342" stop-color="#a4e0a4"/><stop offset="0.351" stop-color="#a2dfa2"/><stop offset="0.495" stop-color="#a0dea0"/><stop offset="0.505" stop-color="#9edd9e"/><stop offset="0.649" stop-color="#9cdc9c"/><stop offset="0.658" stop-color="#99db99"/><stop offset="0.775" stop-color="#96da96"/><stop offset="0.784" stop-color="#92d992"/><stop offset="0.856" stop-color="#90d890"/><stop offset="0.865" stop-color="#8bd68b"/><stop offset="0.937" stop-color="#88d588"/><stop offset="0.955" stop-color="#7fd27f"/><stop offset="0.982" stop-color="#6aca6a"/><stop offset="1" stop-color="#62c762"/></linearGradient>
<linearGradient id="g226" x2="0" y2="1"><stop offset="0" stop-color="#9bdc9b"/><stop offset="0.171" stop-color="#9adc9a"/><stop offset="0.18" stop-color="#97db97"/><stop offset="0.378" stop-color="#95da95"/><stop offset="0.387" stop-color="#92d992"/><stop offset="0.541" stop-color="#90d890"/><stop offset="0.55" stop-color="#8dd78d"/><stop offset="0.721" stop-color="#8ad68a"/><stop offset="0.73" stop-color="#86d486"/><stop offset="0.892" stop-color="#82d382"/><stop offset="0.901" stop-color="#7fd27f"/><stop offset="0.928" stop-color="#7dd17d"/><stop offset="0.955" stop-color="#71cd71"/><stop offset="0.991" stop-color="#5bc45b"/><stop offset="1" stop-color="#57c357"/></linearGradient>
<linearGradient id="g227" x2="0" y2="1"><stop offset="0" stop-color="#a0dea0"/><stop offset="0.108" stop-color="#9fde9f"/><stop offset="0.117" stop-color="#9cdd9c"/><stop offset="0.324" stop-color="#9adc9a"/><stop offset="0.333" stop-color="#97db97"/><stop offset="0.495" stop-color="#95da95"/><stop offset="0.505" stop-color="#92d992"/><stop offset="0.64" stop-color="#90d890"/><stop offset="0.649" stop-color="#8dd78d"/><stop offset="0.802" stop-color="#8ad68a"/><stop offset="0.811" stop-color="#86d486"/><stop offset="0.928" stop-color="#83d383"/><stop offset="0.937" stop-color="#7fd27f"/><stop offset="0.982" stop-color="#63c763"/><stop offset="1" stop-color="#5ac45a"/></linearGradient>
<linearGradient id="g228" x2="0" y2="1"><stop offset="0" stop-color="#a0dea0"/><stop offset="0.207" stop-color="#9fde9f"/><stop offset="0.216" stop-color="#9cdd9c"/><stop offset="0.387" stop-color="#9bdc9b"/><stop offset="0.396" stop-color="#97db97"/><stop offset="0.55" stop-color="#96da96"/><stop offset="0.559" stop-color="#92d992"/><stop offset="0.694" stop-color="#90d890"/><stop offset="0.703" stop-color="#8dd78d"/><stop offset="0.847" stop-color="#8ad68a"/><stop offset="0.856" stop-color="#86d486"/><stop offset="0.928" stop-color="#83d383"/><stop offset="0.955" stop-color="#78cf78"/><stop offset="0.964" stop-color="#73cd73"/><stop offset="0.973" stop-color="#6bca6b"/><stop offset="1" stop-color="#5cc55c"/></linearGradient>
<linearGradient id="g229" x2="0" y2="1"><stop offset="0" stop-color="#a1dea1"/><stop offset="0.27" stop-color="#9fde9f"/><stop offset="0.279" stop-color="#9cdd9c"/><stop offset="0.432" stop-color="#9adc9a"/><stop offset="0.441" stop-color="#97db97"/><stop offset="0.586" stop-color="#96da96"/><stop offset="0.595" stop-color="#92d992"/><stop offset="0.721" stop-color="#90d890"/><stop offset="0.73" stop-color="#8dd78d"/><stop offset="0.865" stop-color="#8ad68a"/><stop offset="0.874" stop-color="#85d485"/><stop offset="0.928" stop-color="#84d484"/><stop offset="0.955" stop-color="#79d079"/><stop offset="0.982" stop-color="#69c969"/><stop offset="0.991" stop-color="#62c762"/><stop offset="1" stop-color="#5dc55d"/></linearGradient>
<linearGradient id="g230" x2="0" y2="1"><stop offset="0" stop-color="#a4e0a4"/><stop offset="0.081" stop-color="#a4dfa4"/><stop offset="0.09" stop-color="#a1dea1"/><stop offset="0.297" stop-color="#9fde9f"/><stop offset="0.306" stop-color="#9cdd9c"/><stop offset="0.459" stop-color="#9adc9a"/><stop offset="0.468" stop-color="#97db97"/><stop offset="0.613" stop-color="#95da95"/><stop offset="0.622" stop-color="#92d992"/><stop offset="0.739" stop-color="#90d890"/><stop offset="0.748" stop-color="#8dd78d"/><stop offset="0.874" stop-color="#8ad68a"/><stop offset="0.883" stop-color="#86d486"/><stop offset="0.928" stop-color="#84d484"/><stop offset="0.955" stop-color="#79d079"/><stop offset="0.991" stop-color="#65c865"/><stop offset="1" stop-color="#5ec55e"/></linearGradient>
<linearGradient id="g231" x2="0" y2="1"><stop offset="0" stop-color="#a5e0a5"/><stop offset="0.117" stop-color="#a4dfa4"/><stop offset="0.126" stop-color="#a1dea1"/><stop offset="0.315" stop-color="#9fde9f"/><stop offset="0.324" stop-color="#9cdd9c"/><stop offset="0.477" stop-color="#9adc9a"/><stop offset="0.486" stop-color="#97db97"/><stop offset="0.622" stop-color="#96da96"/><stop offset="0.631" stop-color="#92d992"/><stop offset="0.757" stop-color="#90d890"/><stop offset="0.766" stop-color="#8dd78d"/><stop offset="0.874" stop-color="#8bd68b"/><stop offset="0.883" stop-color="#86d486"/><stop offset="0.928" stop-color="#84d484"/><stop offset="0.955" stop-color="#79d079"/><stop offset="0.991" stop-color="#65c865"/><stop offset="1" stop-color="#61c761"/></linearGradient>
<linearGradient id="g232" x2="0" y2="1"><stop offset="0" stop-color="#a5e0a5"/><stop offset="0.135" stop-color="#a4dfa4"/><stop offset="0.144" stop-color="#a1dea1"/><stop offset="0.333" stop-color="#9fde9f"/><stop offset="0.342" stop-color="#9cdd9c"/><stop offset="0.495" stop-color="#9adc9a"/><stop offset="0.505" stop-color="#97db97"/><stop offset="0.64" stop-color="#95da95"/><stop offset="0.649" stop-color="#92d992"/><stop offset="0.766" stop-color="#90d890"/><stop offset="0.775" stop-color="#8dd78d"/><stop offset="0.883" stop-color="#8ad68a"/><stop offset="0.892" stop-color="#86d486"/><stop offset="0.928" stop-color="#85d485"/><stop offset="0.955" stop-color="#7ad07a"/><stop offset="0.991" stop-color="#65c865"/><stop offset="1" stop-color="#61c761"/></linearGradient>
<linearGradient id="g233" x2="0" y2="1"><stop offset="0" stop-color="#a5e0a5"/><stop offset="0.153" stop-color="#a4dfa4"/><stop offset="0.162" stop-color="#a1dea1"/><stop offset="0.342" stop-color="#9fde9f"/><stop offset="0.351" stop-color="#9cdd9c"/><stop offset="0.505" stop-color="#9adc9a"/><stop offset="0.514" stop-color="#97db97"/><stop offset="0.649" stop-color="#95da95"/><stop offset="0.658" stop-color="#92d992"/><stop offset="0.775" stop-color="#90d890"/><stop offset="0.784" stop-color="#8dd78d"/><stop offset="0.883" stop-color="#8bd68b"/><stop offset="0.892" stop-color="#86d486"/><stop offset="0.928" stop-color="#85d485"/><stop offset="0.955" stop-color="#7ad07a"/><stop offset="0.991" stop-color="#65c865"/><stop offset="1" stop-color="#61c761"/></linearGradient>
<linearGradient id="g234" x2="0" y2="1"><stop offset="0" stop-color="#a5e0a5"/><stop offset="0.162" stop-color="#a4dfa4"/><stop offset="0.171" stop-color="#a1dea1"/><stop offset="0.36" stop-color="#9fde9f"/><stop offset="0.369" stop-color="#9cdd9c"/><stop offset="0.514" stop-color="#9adc9a"/><stop offset="0.523" stop-color="#97db97"/><stop offset="0.649" stop-color="#96da96"/><stop offset="0.658" stop-color="#92d992"/><stop offset="0.784" stop-color="#90d890"/><stop offset="0.793" stop-color="#8dd78d"/><stop offset="0.892" stop-color="#8ad68a"/><stop offset="0.901" stop-color="#86d486"/><stop offset="0.928" stop-color="#85d485"/><stop offset="0.955" stop-color="#7ad07a"/><stop offset="0.991" stop-color="#66c866"/><stop offset="1" stop-color="#61c761"/></linearGradient>
<linearGradient id="g235" x2="0" y2="1"><stop offset="0" stop-color="#a5e0a5"/><stop offset="0.18" stop-color="#a4dfa4"/><stop offset="0.189" stop-color="#a1dea1"/><stop offset="0.36" stop-color="#9fde9f"/><stop offset="0.369" stop-color="#9cdd9c"/><stop offset="0.514" stop-color="#9bdc9b"/><stop offset="0.523" stop-color="#97db97"/><stop offset="0.658" stop-color="#95da95"/><stop offset="0.667" stop-color="#92d992"/><stop offset="0.784" stop-color="#90d890"/><stop offset="0.793" stop-color="#8dd78d"/><stop offset="0.892" stop-color="#8ad68a"/><stop offset="0.901" stop-color="#86d486"/><stop offset="0.928" stop-color="#85d485"/><stop offset="0.955" stop-color="#7ad07a"/><stop offset="0.991" stop-color="#66c866"/><stop offset="1" stop-color="#62c762"/></linearGradient>
<linearGradient id="g236" x2="0" y2="1"><stop offset="0" stop-color="#a5e0a5"/><stop offset="0.189" stop-color="#a4dfa4"/><stop offset="0.198" stop-color="#a1dea1"/><stop offset="0.369" stop-color="#9fde9f"/><stop offset="0.378" stop-color="#9cdd9c"/><stop offset="0.523" stop-color="#9adc9a"/><stop offset="0.532" stop-color="#97db97"/><stop offset="0.658" stop-color="#96da96"/><stop offset="0.667" stop-color="#92d992"/><stop offset="0.793" stop-color="#90d890"/><stop offset="0.802" stop-color="#8dd78d"/><stop offset="0.892" stop-color="#8ad68a"/><stop offset="0.901" stop-color="#86d486"/><stop offset="0.928" stop-color="#85d485"/><stop offset="0.955" stop-color="#7ad07a"/><stop offset="0.991" stop-color="#66c866"/><stop offset="1" stop-color="#62c762"/></linearGradient>
<linearGradient id="g237" x2="0" y2="1"><stop offset="0" stop-color="#a5e0a5"/><stop offset="0.189" stop-color="#a4dfa4"/><stop offset="0.198" stop-color="#a1dea1"/><stop offset="0.378" stop-color="#9fde9f"/><stop offset="0.387" stop-color="#9cdd9c"/><stop offset="0.523" stop-color="#9bdc9b"/><stop offset="0.532" stop-color="#97db97"/><stop offset="0.667" stop-color="#95da95"/><stop offset="0.676" stop-color="#92d992"/><stop offset="0.793" stop-color="#90d890"/><stop offset="0.802" stop-color="#8dd78d"/><stop offset="0.892" stop-color="#8bd68b"/><stop offset="0.901" stop-color="#86d486"/><stop offset="0.928" stop-color="#85d485"/><stop offset="0.955" stop-color="#7ad07a"/><stop offset="0.991" stop-color="#66c866"/><stop offset="1" stop-color="#62c762"/></linearGradient>
<linearGradient id="g238" x2="0" y2="1"><stop offset="0" stop-color="#a5e0a5"/><stop offset="0.198" stop-color="#a4dfa4"/><stop offset="0.207" stop-color="#a1dea1"/><stop offset="0.378" stop-color="#9fde9f"/><stop offset="0.387" stop-color="#9cdd9c"/><stop offset="0.532" stop-color="#9adc9a"/><stop offset="0.541" stop-color="#97db97"/><stop offset="0.667" stop-color="#96da96"/><stop offset="0.676" stop-color="#92d992"/><stop offset="0.793" stop-color="#90d890"/><stop offset="0.802" stop-color="#8dd78d"/><stop offset="0.892" stop-color="#8bd68b"/><stop offset="0.901" stop-color="#86d486"/><stop offset="0.928" stop-color="#85d485"/><stop offset="0.955" stop-color="#7ad07a"/><stop offset="0.991" stop-color="#66c866"/><stop offset="1" stop-color="#62c762"/></linearGradient>
<linearGradient id="g239" x2="0" y2="1"><stop offset="0" stop-color="#a5e0a5"/><stop offset="0.207" stop-color="#a4dfa4"/><stop offset="0.216" stop-color="#a1dea1"/><stop offset="0.387" stop-color="#9fde9f"/><stop offset="0.396" stop-color="#9cdd9c"/><stop offset="0.532" stop-color="#9adc9a"/><stop offset="0.541" stop-color="#97db97"/><stop offset="0.667" stop-color="#96da96"/><stop offset="0.676" stop-color="#92d992"/><stop offset="0.802" stop-color="#90d890"/><stop offset="0.811" stop-color="#8dd78d"/><stop offset="0.892" stop-color="#8bd68b"/><stop offset="0.901" stop-color="#86d486"/><stop offset="0.928" stop-color="#85d485"/><stop offset="0.955" stop-color="#7ad07a"/><stop offset="0.991" stop-color="#66c866"/><stop offset="1" stop-color="#62c762"/></linearGradient>
<linearGradient id="g240" x2="0" y2="1"><stop offset="0" stop-color="#a5e0a5"/><stop offset="0.207" stop-color="#a4dfa4"/><stop offset="0.216" stop-color="#a1dea1"/><stop offset="0.387" stop-color="#9fde9f"/><stop offset="0.396" stop-color="#9cdd9c"/><stop offset="0.532" stop-color="#9bdc9b"/><stop offset="0.541" stop-color="#97db97"/><stop offset="0.676" stop-color="#95da95"/><stop offset="0.685" stop-color="#92d992"/><stop offset="0.802" stop-color="#90d890"/><stop offset="0.811" stop-color="#8dd78d"/><stop offset="0.892" stop-color="#8bd68b"/><stop offset="0.901" stop-color="#86d486"/><stop offset="0.928" stop-color="#85d485"/><stop offset="0.955" stop-color="#7ad07a"/><stop offset="0.991" stop-color="#66c866"/><stop offset="1" stop-color="#62c762"/></linearGradient>
<linearGradient id="g241" x2="0" y2="1"><stop offset="0" stop-color="#a6e0a6"/><stop offset="0.216" stop-color="#a4dfa4"/><stop offset="0.225" stop-color="#a1dea1"/><stop offset="0.387" stop-color="#9fde9f"/><stop offset="0.396" stop-color="#9cdd9c"/><stop offset="0.532" stop-color="#9bdc9b"/><stop offset="0.541" stop-color="#97db97"/><stop offset="0.676" stop-color="#95da95"/><stop offset="0.685" stop-color="#92d992"/><stop offset="0.802" stop-color="#90d890"/><stop offset="0.811" stop-color="#8dd78d"/><stop offset="0.892" stop-color="#8bd68b"/><stop offset="0.901" stop-color="#86d486"/><stop offset="0.928" stop-color="#85d485"/><stop offset="0.955" stop-color="#7ad07a"/><stop offset="0.991" stop-color="#66c866"/><stop offset="1" stop-color="#62c762"/></linearGradient>
<linearGradient id="g242" x2="0" y2="1"><stop offset="0" stop-color="#a6e0a6"/><stop offset="0.216" stop-color="#a4dfa4"/><stop offset="0.225" stop-color="#a1dea1"/><stop offset="0.387" stop-color="#9fde9f"/><stop offset="0.396" stop-color="#9cdd9c"/><stop offset="0.541" stop-color="#9adc9a"/><stop offset="0.55" stop-color="#97db97"/><stop offset="0.676" stop-color="#95da95"/><stop offset="0.685" stop-color="#92d992"/><stop offset="0.802" stop-color="#90d890"/><stop offset="0.811" stop-color="#8dd78d"/><stop offset="0.892" stop-color="#8bd68b"/><stop offset="0.901" stop-color="#86d486"/><stop offset="0.928" stop-color="#85d485"/><stop offset="0.955" stop-color="#7ad07a"/><stop offset="0.991" stop-color="#66c866"/><stop offset="1" stop-color="#62c762"/></linearGradient>
<linearGradient id="g243" x2="0" y2="1"><stop offset="0" stop-color="#a6e0a6"/><stop offset="0.216" stop-color="#a4dfa4"/><stop offset="0.225" stop-color="#a1dea1"/><stop offset="0.396" stop-color="#9fde9f"/><stop offset="0.405" stop-color="#9cdd9c"/><stop offset="0.541" stop-color="#9adc9a"/><stop offset="0.55" stop-color="#97db97"/><stop offset="0.676" stop-color="#95da95"/><stop offset="0.685" stop-color="#92d992"/><stop offset="0.802" stop-color="#90d890"/><stop offset="0.811" stop-color="#8dd78d"/><stop offset="0.892" stop-color="#8bd68b"/><stop offset="0.901" stop-color="#86d486"/><stop offset="0.928" stop-color="#85d485"/><stop offset="0.955" stop-color="#7ad07a"/><stop offset="0.991" stop-color="#66c866"/><stop offset="1" stop-color="#62c762"/></linearGradient>
<linearGradient id="g244" x2="0" y2="1"><stop offset="0" stop-color="#a6e0a6"/><stop offset="0.225" stop-color="#a4dfa4"/><stop offset="0.234" stop-color="#a1dea1"/><stop offset="0.396" stop-color="#9fde9f"/><stop offset="0.405" stop-color="#9cdd9c"/><stop offset="0.541" stop-color="#9adc9a"/><stop offset="0.55" stop-color="#97db97"/><stop offset="0.676" stop-color="#95da95"/><stop offset="0.685" stop-color="#92d992"/><stop offset="0.802" stop-color="#90d890"/><stop offset="0.811" stop-color="#8dd78d"/><stop offset="0.892" stop-color="#8ad68a"/><stop offset="0.901" stop-color="#86d486"/><stop offset="0.928" stop-color="#85d485"/><stop offset="0.955" stop-color="#7ad07a"/><stop offset="0.991" stop-color="#66c866"/><stop offset="1" stop-color="#62c762"/></linearGradient>
<linearGradient id="g245" x2="0" y2="1"><stop offset="0" stop-color="#a6e0a6"/><stop offset="0.225" stop-color="#a4dfa4"/><stop offset="0.234" stop-color="#a1dea1"/><stop offset="0.396" stop-color="#9fde9f"/><stop offset="0.405" stop-color="#9cdd9c"/><stop offset="0.541" stop-color="#9adc9a"/><stop offset="0.55" stop-color="#97db97"/><stop offset="0.676" stop-color="#95da95"/><stop offset="0.685" stop-color="#92d992"/><stop offset="0.802" stop-color="#90d890"/><stop offset="0.811" stop-color="#8dd78d"/><stop offset="0.892" stop-color="#8ad68a"/><stop offset="0.901" stop-color="#86d486"/><stop offset="0.928" stop-color="#85d485"/><stop offset="0.955" stop-color="#7ad07a"/><stop offset="0.991" stop-color="#66c866"/><stop offset="1" stop-color="#61c761"/></linearGradient>
<linearGradient id="g246" x2="0" y2="1"><stop offset="0" stop-color="#a6e0a6"/><stop offset="0.225" stop-color="#a4dfa4"/><stop offset="0.234" stop-color="#a1dea1"/><stop offset="0.396" stop-color="#9fde9f"/><stop offset="0.405" stop-color="#9cdd9c"/><stop offset="0.541" stop-color="#9adc9a"/><stop offset="0.55" stop-color="#97db97"/><stop offset="0.676" stop-color="#95da95"/><stop offset="0.685" stop-color="#92d992"/><stop offset="0.802" stop-color="#90d890"/><stop offset="0.811" stop-color="#8dd78d"/><stop offset="0.892" stop-color="#8ad68a"/><stop offset="0.901" stop-color="#85d485"/><stop offset="0.928" stop-color="#85d485"/><stop offset="0.955" stop-color="#7ad07a"/><stop offset="0.991" stop-color="#66c866"/><stop offset="1" stop-color="#61c761"/></linearGradient>
<linearGradient id="g247" x2="0" y2="1"><stop offset="0" stop-color="#a6e0a6"/><stop offset="0.225" stop-color="#a4dfa4"/><stop offset="0.234" stop-color="#a1dea1"/><stop offset="0.387" stop-color="#9fde9f"/><stop offset="0.396" stop-color="#9cdd9c"/><stop offset="0.541" stop-color="#9adc9a"/><stop offset="0.55" stop-color="#97db97"/><stop offset="0.676" stop-color="#95da95"/><stop offset="0.685" stop-color="#92d992"/><stop offset="0.802" stop-color="#90d890"/><stop offset="0.811" stop-color="#8dd78d"/><stop offset="0.883" stop-color="#8bd68b"/><stop offset="0.892" stop-color="#86d486"/><stop offset="0.928" stop-color="#85d485"/><stop offset="0.955" stop-color="#7ad07a"/><stop offset="0.991" stop-color="#65c865"/><stop offset="1" stop-color="#61c761"/></linearGradient>
<linearGradient id="g248" x2="0" y2="1"><stop offset="0" stop-color="#a6e0a6"/><stop offset="0.225" stop-color="#a4dfa4"/><stop offset="0.234" stop-color="#a1dea1"/><stop offset="0.387" stop-color="#9fde9f"/><stop offset="0.396" stop-color="#9cdd9c"/><stop offset="0.532" stop-color="#9bdc9b"/><stop offset="0.541" stop-color="#97db97"/><stop offset="0.676" stop-color="#95da95"/><stop offset="0.685" stop-color="#92d992"/><stop offset="0.802" stop-color="#90d890"/><stop offset="0.811" stop-color="#8dd78d"/><stop offset="0.883" stop-color="#8bd68b"/><stop offset="0.892" stop-color="#86d486"/><stop offset="0.928" stop-color="#85d485"/><stop offset="0.955" stop-color="#7ad07a"/><stop offset="0.991" stop-color="#65c865"/><stop offset="1" stop-color="#61c761"/></linearGradient>
<linearGradient id="g249" x2="0" y2="1"><stop offset="0" stop-color="#a6e0a6"/><stop offset="0.225" stop-color="#a4dfa4"/><stop offset="0.234" stop-color="#a1dea1"/><stop offset="0.387" stop-color="#9fde9f"/><stop offset="0.396" stop-color="#9cdd9c"/><stop offset="0.532" stop-color="#9bdc9b"/><stop offset="0.541" stop-color="#97db97"/><stop offset="0.667" stop-color="#96da96"/><stop offset="0.676" stop-color="#92d992"/><stop offset="0.793" stop-color="#90d890"/><stop offset="0.802" stop-color="#8dd78d"/><stop offset="0.883" stop-color="#8bd68b"/><stop offset="0.892" stop-color="#86d486"/><stop offset="0.928" stop-color="#85d485"/><stop offset="0.955" stop-color="#7ad07a"/><stop offset="0.991" stop-color="#65c865"/><stop offset="1" stop-color="#61c761"/></linearGradient>
<linearGradient id="g250" x2="0" y2="1"><stop offset="0" stop-color="#a6e0a6"/><stop offset="0.225" stop-color="#a4dfa4"/><stop offset="0.234" stop-color="#a1dea1"/><stop offset="0.387" stop-color="#9fde9f"/><stop offset="0.396" stop-color="#9cdd9c"/><stop offset="0.532" stop-color="#9bdc9b"/><stop offset="0.541" stop-color="#97db97"/><stop offset="0.667" stop-color="#96da96"/><stop offset="0.676" stop-color="#92d992"/><stop offset="0.793" stop-color="#90d890"/><stop offset="0.802" stop-color="#8dd78d"/><stop offset="0.883" stop-color="#8ad68a"/><stop offset="0.892" stop-color="#86d486"/><stop offset="0.928" stop-color="#85d485"/><stop offset="0.955" stop-color="#7ad07a"/><stop offset="0.991" stop-color="#65c865"/><stop offset="1" stop-color="#61c761"/></linearGradient>
<linearGradient id="g251" x2="0" y2="1"><stop offset="0" stop-color="#a6e0a6"/><stop offset="0.216" stop-color="#a4dfa4"/><stop offset="0.225" stop-color="#a1dea1"/><stop offset="0.387" stop-color="#9fde9f"/><stop offset="0.396" stop-color="#9cdd9c"/><stop offset="0.532" stop-color="#9adc9a"/><stop offset="0.541" stop-color="#97db97"/><stop offset="0.667" stop-color="#96da96"/><stop offset="0.676" stop-color="#92d992"/><stop offset="0.793" stop-color="#90d890"/><stop offset="0.802" stop-color="#8dd78d"/><stop offset="0.883" stop-color="#8ad68a"/><stop offset="0.892" stop-color="#86d486"/><stop offset="0.928" stop-color="#85d485"/><stop offset="0.955" stop-color="#7ad07a"/><stop offset="0.991" stop-color="#65c865"/><stop offset="1" stop-color="#61c761"/></linearGradient>
<linearGradient id="g252" x2="0" y2="1"><stop offset="0" stop-color="#a6e0a6"/><stop offset="0.216" stop-color="#a4dfa4"/><stop offset="0.225" stop-color="#a1dea1"/><stop offset="0.387" stop-color="#9fde9f"/><stop offset="0.396" stop-color="#9cdd9c"/><stop offset="0.532" stop-color="#9adc9a"/><stop offset="0.541" stop-color="#97db97"/><stop offset="0.667" stop-color="#96da96"/><stop offset="0.676" stop-color="#92d992"/><stop offset="0.793" stop-color="#90d890"/><stop offset="0.802" stop-color="#8dd78d"/><stop offset="0.883" stop-color="#8ad68a"/><stop offset="0.892" stop-color="#86d486"/><stop offset="0.928" stop-color="#84d484"/><stop offset="0.955" stop-color="#79d079"/><stop offset="0.991" stop-color="#65c865"/><stop offset="1" stop-color="#61c761"/></linearGradient>
<linearGradient id="g253" x2="0" y2="1"><stop offset="0" stop-color="#a6e0a6"/><stop offset="0.216" stop-color="#a4dfa4"/><stop offset="0.225" stop-color="#a1dea1"/><stop offset="0.387" stop-color="#9fde9f"/><stop offset="0.396" stop-color="#9cdd9c"/><stop offset="0.532" stop-color="#9adc9a"/><stop offset="0.541" stop-color="#97db97"/><stop offset="0.667" stop-color="#95da95"/><stop offset="0.676" stop-color="#92d992"/><stop offset="0.793" stop-color="#90d890"/><stop offset="0.802" stop-color="#8dd78d"/><stop offset="0.883" stop-color="#8ad68a"/><stop offset="0.892" stop-color="#85d485"/><stop offset="0.928" stop-color="#84d484"/><stop offset="0.955" stop-color="#79d079"/><stop offset="0.991" stop-color="#65c865"/><stop offset="1" stop-color="#61c761"/></linearGradient>
<linearGradient id="g254" x2="0" y2="1"><stop offset="0" stop-color="#a6e0a6"/><stop offset="0.216" stop-color="#a4dfa4"/><stop offset="0.225" stop-color="#a1dea1"/><stop offset="0.387" stop-color="#9fde9f"/><stop offset="0.396" stop-color="#9cdd9c"/><stop offset="0.532" stop-color="#9adc9a"/><stop offset="0.541" stop-color="#97db97"/><stop offset="0.667" stop-color="#95da95"/><stop offset="0.676" stop-color="#92d992"/><stop offset="0.793" stop-color="#90d890"/><stop offset="0.802" stop-color="#8dd78d"/><stop offset="0.874" stop-color="#8bd68b"/><stop offset="0.883" stop-color="#86d486"/><stop offset="0.928" stop-color="#84d484"/><stop offset="0.955" stop-color="#79d079"/><stop offset="0.991" stop-color="#65c865"/><stop offset="1" stop-color="#61c761"/></linearGradient>
<linearGradient id="g255" x2="0" y2="1"><stop offset="0" stop-color="#a6e0a6"/><stop offset="0.216" stop-color="#a4dfa4"/><stop offset="0.225" stop-color="#a1dea1"/><stop offset="0.378" stop-color="#9fde9f"/><stop offset="0.387" stop-color="#9cdd9c"/><stop offset="0.523" stop-color="#9bdc9b"/><stop offset="0.532" stop-color="#97db97"/><stop offset="0.658" stop-color="#96da96"/><stop offset="0.667" stop-color="#92d992"/><stop offset="0.784" stop-color="#90d890"/><stop offset="0.793" stop-color="#8dd78d"/><stop offset="0.874" stop-color="#8ad68a"/><stop offset="0.883" stop-color="#86d486"/><stop offset="0.928" stop-color="#84d484"/><stop offset="0.955" stop-color="#79d079"/><stop offset="0.991" stop-color="#65c865"/><stop offset="1" stop-color="#61c761"/></linearGradient>
<linearGradient id="g256" x2="0" y2="1"><stop offset="0" stop-color="#a6e0a6"/><stop offset="0.216" stop-color="#a4dfa4"/><stop offset="0.225" stop-color="#a1dea1"/><stop offset="0.378" stop-color="#9fde9f"/><stop offset="0.387" stop-color="#9cdd9c"/><stop offset="0.523" stop-color="#9bdc9b"/><stop offset="0.532" stop-color="#97db97"/><stop offset="0.658" stop-color="#96da96"/><stop offset="0.667" stop-color="#92d992"/><stop offset="0.784" stop-color="#90d890"/><stop offset="0.793" stop-color="#8dd78d"/><stop offset="0.874" stop-color="#8ad68a"/><stop offset="0.883" stop-color="#86d486"/><stop offset="0.928" stop-color="#84d484"/><stop offset="0.955" stop-color="#79d079"/><stop offset="0.991" stop-color="#65c865"/><stop offset="1" stop-color="#5ec55e"/></linearGradient>
<linearGradient id="g257" x2="0" y2="1"><stop offset="0" stop-color="#a6e0a6"/><stop offset="0.216" stop-color="#a4dfa4"/><stop offset="0.225" stop-color="#a1dea1"/><stop offset="0.378" stop-color="#9fde9f"/><stop offset="0.387" stop-color="#9cdd9c"/><stop offset="0.523" stop-color="#9adc9a"/><stop offset="0.532" stop-color="#97db97"/><stop offset="0.658" stop-color="#96da96"/><stop offset="0.667" stop-color="#92d992"/><stop offset="0.784" stop-color="#90d890"/><stop offset="0.793" stop-color="#8dd78d"/><stop offset="0.874" stop-color="#8ad68a"/><stop offset="0.883" stop-color="#86d486"/><stop offset="0.928" stop-color="#84d484"/><stop offset="0.955" stop-color="#79d079"/><stop offset="0.991" stop-color="#65c865"/><stop offset="1" stop-color="#5ec55e"/></linearGradient>
<linearGradient id="g258" x2="0" y2="1"><stop offset="0" stop-color="#a6e0a6"/><stop offset="0.207" stop-color="#a4dfa4"/><stop offset="0.216" stop-color="#a1dea1"/><stop offset="0.378" stop-color="#9fde9f"/><stop offset="0.387" stop-color="#9cdd9c"/><stop offset="0.523" stop-color="#9adc9a"/><stop offset="0.532" stop-color="#97db97"/><stop offset="0.658" stop-color="#95da95"/><stop offset="0.667" stop-color="#92d992"/><stop offset="0.784" stop-color="#90d890"/><stop offset="0.793" stop-color="#8dd78d"/><stop offset="0.874" stop-color="#8ad68a"/><stop offset="0.883" stop-color="#85d485"/><stop offset="0.928" stop-color="#84d484"/><stop offset="0.955" stop-color="#79d079"/><stop offset="0.991" stop-color="#65c865"/><stop offset="1" stop-color="#5ec55e"/></linearGradient>
<linearGradient id="g259" x2="0" y2="1"><stop offset="0" stop-color="#a6e0a6"/><stop offset="0.207" stop-color="#a4dfa4"/><stop offset="0.216" stop-color="#a1dea1"/><stop offset="0.378" stop-color="#9fde9f"/><stop offset="0.387" stop-color="#9cdd9c"/><stop offset="0.523" stop-color="#9adc9a"/><stop offset="0.532" stop-color="#97db97"/><stop offset="0.658" stop-color="#95da95"/><stop offset="0.667" stop-color="#92d992"/><stop offset="0.784" stop-color="#90d890"/><stop offset="0.793" stop-color="#8dd78d"/><stop offset="0.865" stop-color="#8bd68b"/><stop offset="0.874" stop-color="#86d486"/><stop offset="0.928" stop-color="#84d484"/><stop offset="0.955" stop-color="#79d079"/><stop offset="0.991" stop-color="#65c865"/><stop offset="1" stop-color="#5ec55e"/></linearGradient>
<linearGradient id="g260" x2="0" y2="1"><stop offset="0" stop-color="#a6e0a6"/><stop offset="0.207" stop-color="#a4dfa4"/><stop offset="0.216" stop-color="#a1dea1"/><stop offset="0.369" stop-color="#9fde9f"/><stop offset="0.378" stop-color="#9cdd9c"/><stop offset="0.523" stop-color="#9adc9a"/><stop offset="0.532" stop-color="#97db97"/><stop offset="0.658" stop-color="#95da95"/><stop offset="0.667" stop-color="#92d992"/><stop offset="0.784" stop-color="#90d890"/><stop offset="0.793" stop-color="#8dd78d"/><stop offset="0.865" stop-color="#8ad68a"/><stop offset="0.874" stop-color="#86d486"/><stop offset="0.928" stop-color="#84d484"/><stop offset="0.955" stop-color="#79d079"/><stop offset="0.991" stop-color="#65c865"/><stop offset="1" stop-color="#5ec55e"/></linearGradient>
<linearGradient id="g261" x2="0" y2="1"><stop offset="0" stop-color="#a6e0a6"/><stop offset="0.207" stop-color="#a4dfa4"/><stop offset="0.216" stop-color="#a1dea1"/><stop offset="0.369" stop-color="#9fde9f"/><stop offset="0.378" stop-color="#9cdd9c"/><stop offset="0.514" stop-color="#9bdc9b"/><stop offset="0.523" stop-color="#97db97"/><stop offset="0.649" stop-color="#96da96"/><stop offset="0.658" stop-color="#92d992"/><stop offset="0.775" stop-color="#90d890"/><stop offset="0.784" stop-color="#8dd78d"/><stop offset="0.865" stop-color="#8ad68a"/><stop offset="0.874" stop-color="#86d486"/><stop offset="0.928" stop-color="#84d484"/><stop offset="0.955" stop-color="#79d079"/><stop offset="0.982" stop-color="#69ca69"/><stop offset="0.991" stop-color="#62c762"/><stop offset="1" stop-color="#5ec55e"/></linearGradient>
<linearGradient id="g262" x2="0" y2="1"><stop offset="0" stop-color="#a6e0a6"/><stop offset="0.207" stop-color="#a4dfa4"/><stop offset="0.216" stop-color="#a1dea1"/><stop offset="0.369" stop-color="#9fde9f"/><stop offset="0.378" stop-color="#9cdd9c"/><stop offset="0.514" stop-color="#9adc9a"/><stop offset="0.523" stop-color="#97db97"/><stop offset="0.649" stop-color="#96da96"/><stop offset="0.658" stop-color="#92d992"/><stop offset="0.775" stop-color="#90d890"/><stop offset="0.784" stop-color="#8dd78d"/><stop offset="0.865" stop-color="#8ad68a"/><stop offset="0.874" stop-color="#86d486"/><stop offset="0.928" stop-color="#84d484"/><stop offset="0.955" stop-color="#79d079"/><stop offset="0.982" stop-color="#69c969"/><stop offset="0.991" stop-color="#62c762"/><stop offset="1" stop-color="#5ec55e"/></linearGradient>
<linearGradient id="g263" x2="0" y2="1"><stop offset="0" stop-color="#a6e0a6"/><stop offset="0.198" stop-color="#a4dfa4"/><stop offset="0.207" stop-color="#a1dea1"/><stop offset="0.369" stop-color="#9fde9f"/><stop offset="0.378" stop-color="#9cdd9c"/><stop offset="0.514" stop-color="#9adc9a"/><stop offset="0.523" stop-color="#97db97"/><stop offset="0.649" stop-color="#96da96"/><stop offset="0.658" stop-color="#92d992"/><stop offset="0.775" stop-color="#90d890"/><stop offset="0.784" stop-color="#8dd78d"/><stop offset="0.865" stop-color="#8ad68a"/><stop offset="0.874" stop-color="#85d485"/><stop offset="0.928" stop-color="#84d484"/><stop offset="0.955" stop-color="#79d079"/><stop offset="0.982" stop-color="#69c969"/><stop offset="0.991" stop-color="#62c762"/><stop offset="1" stop-color="#5ec55e"/></linearGradient>
<linearGradient id="g264" x2="0" y2="1"><stop offset="0" stop-color="#a6e0a6"/><stop offset="0.198" stop-color="#a4dfa4"/><stop offset="0.207" stop-color="#a1dea1"/><stop offset="0.369" stop-color="#9fde9f"/><stop offset="0.378" stop-color="#9cdd9c"/><stop offset="0.514" stop-color="#9adc9a"/><stop offset="0.523" stop-color="#97db97"/><stop offset="0.649" stop-color="#95da95"/><stop offset="0.658" stop-color="#92d992"/><stop offset="0.775" stop-color="#90d890"/><stop offset="0.784" stop-color="#8dd78d"/><stop offset="0.856" stop-color="#8bd68b"/><stop offset="0.865" stop-color="#86d486"/><stop offset="0.928" stop-color="#84d484"/><stop offset="0.955" stop-color="#79d079"/><stop offset="0.982" stop-color="#69c969"/><stop offset="0.991" stop-color="#62c762"/><stop offset="1" stop-color="#5ec55e"/></linearGradient>
<linearGradient id="g265" x2="0" y2="1"><stop offset="0" stop-color="#a6e0a6"/><stop offset="0.198" stop-color="#a4dfa4"/><stop offset="0.207" stop-color="#a1dea1"/><stop offset="0.369" stop-color="#9fde9f"/><stop offset="0.378" stop-color="#9cdd9c"/><stop offset="0.514" stop-color="#9adc9a"/><stop offset="0.523" stop-color="#97db97"/><stop offset="0.649" stop-color="#95da95"/><stop offset="0.658" stop-color="#92d992"/><stop offset="0.775" stop-color="#90d890"/><stop offset="0.784" stop-color="#8dd78d"/><stop offset="0.856" stop-color="#8ad68a"/><stop offset="0.865" stop-color="#86d486"/><stop offset="0.928" stop-color="#84d484"/><stop offset="0.955" stop-color="#79cf79"/><stop offset="0.982" stop-color="#69c969"/><stop offset="0.991" stop-color="#62c762"/><stop offset="1" stop-color="#5ec55e"/></linearGradient>
<linearGradient id="g266" x2="0" y2="1"><stop offset="0" stop-color="#a6e0a6"/><stop offset="0.198" stop-color="#a4dfa4"/><stop offset="0.207" stop-color="#a1dea1"/><stop offset="0.36" stop-color="#9fde9f"/><stop offset="0.369" stop-color="#9cdd9c"/><stop offset="0.505" stop-color="#9bdc9b"/><stop offset="0.514" stop-color="#97db97"/><stop offset="0.64" stop-color="#96da96"/><stop offset="0.649" stop-color="#92d992"/><stop offset="0.766" stop-color="#90d890"/><stop offset="0.775" stop-color="#8dd78d"/><stop offset="0.856" stop-color="#8ad68a"/><stop offset="0.865" stop-color="#86d486"/><stop offset="0.928" stop-color="#84d484"/><stop offset="0.955" stop-color="#79cf79"/><stop offset="0.973" stop-color="#6ecb6e"/><stop offset="0.982" stop-color="#66c866"/><stop offset="1" stop-color="#5ec55e"/></linearGradient>
<linearGradient id="g267" x2="0" y2="1"><stop offset="0" stop-color="#a6e0a6"/><stop offset="0.198" stop-color="#a4dfa4"/><stop offset="0.207" stop-color="#a1dea1"/><stop offset="0.36" stop-color="#9fde9f"/><stop offset="0.369" stop-color="#9cdd9c"/><stop offset="0.505" stop-color="#9adc9a"/><stop offset="0.514" stop-color="#97db97"/><stop offset="0.64" stop-color="#96da96"/><stop offset="0.649" stop-color="#92d992"/><stop offset="0.766" stop-color="#90d890"/><stop offset="0.775" stop-color="#8dd78d"/><stop offset="0.856" stop-color="#8ad68a"/><stop offset="0.865" stop-color="#86d486"/><stop offset="0.928" stop-color="#84d484"/><stop offset="0.955" stop-color="#79cf79"/><stop offset="0.973" stop-color="#6ecb6e"/><stop offset="0.982" stop-color="#66c866"/><stop offset="1" stop-color="#5ec55e"/></linearGradient>
<linearGradient id="g268" x2="0" y2="1"><stop offset="0" stop-color="#a6e0a6"/><stop offset="0.198" stop-color="#a4dfa4"/><stop offset="0.207" stop-color="#a1dea1"/><stop offset="0.36" stop-color="#9fde9f"/><stop offset="0.369" stop-color="#9cdd9c"/><stop offset="0.505" stop-color="#9adc9a"/><stop offset="0.514" stop-color="#97db97"/><stop offset="0.64" stop-color="#95da95"/><stop offset="0.649" stop-color="#92d992"/><stop offset="0.766" stop-color="#90d890"/><stop offset="0.775" stop-color="#8dd78d"/><stop offset="0.856" stop-color="#8ad68a"/><stop offset="0.865" stop-color="#85d485"/><stop offset="0.928" stop-color="#84d484"/><stop offset="0.955" stop-color="#79cf79"/><stop offset="0.973" stop-color="#6ecb6e"/><stop offset="0.982" stop-color="#66c866"/><stop offset="1" stop-color="#5dc55d"/></linearGradient>
<linearGradient id="g269" x2="0" y2="1"><stop offset="0" stop-color="#a6e0a6"/><stop offset="0.189" stop-color="#a4dfa4"/><stop offset="0.198" stop-color="#a1dea1"/><stop offset="0.36" stop-color="#9fde9f"/><stop offset="0.369" stop-color="#9cdd9c"/><stop offset="0.505" stop-color="#9adc9a"/><stop offset="0.514" stop-color="#97db97"/><stop offset="0.64" stop-color="#95da95"/><stop offset="0.649" stop-color="#92d992"/><stop offset="0.766" stop-color="#90d890"/><stop offset="0.775" stop-color="#8dd78d"/><stop offset="0.847" stop-color="#8bd68b"/><stop offset="0.856" stop-color="#86d486"/><stop offset="0.928" stop-color="#84d484"/><stop offset="0.955" stop-color="#79cf79"/><stop offset="0.973" stop-color="#6ecb6e"/><stop offset="0.982" stop-color="#66c866"/><stop offset="1" stop-color="#5dc55d"/></linearGradient>
<linearGradient id="g270" x2="0" y2="1"><stop offset="0" stop-color="#a6e0a6"/><stop offset="0.189" stop-color="#a4dfa4"/><stop offset="0.198" stop-color="#a1dea1"/><stop offset="0.36" stop-color="#9fde9f"/><stop offset="0.369" stop-color="#9cdd9c"/><stop offset="0.505" stop-color="#9adc9a"/><stop offset="0.514" stop-color="#97db97"/><stop offset="0.64" stop-color="#95da95"/><stop offset="0.649" stop-color="#92d992"/><stop offset="0.766" stop-color="#90d890"/><stop offset="0.775" stop-color="#8dd78d"/><stop offset="0.847" stop-color="#8ad68a"/><stop offset="0.856" stop-color="#86d486"/><stop offset="0.928" stop-color="#84d384"/><stop offset="0.955" stop-color="#79cf79"/><stop offset="0.973" stop-color="#6ecb6e"/><stop offset="0.982" stop-color="#66c866"/><stop offset="1" stop-color="#5dc55d"/></linearGradient>
<linearGradient id="g271" x2="0" y2="1"><stop offset="0" stop-color="#a6e0a6"/><stop offset="0.189" stop-color="#a4dfa4"/><stop offset="0.198" stop-color="#a1dea1"/><stop offset="0.351" stop-color="#9fde9f"/><stop offset="0.36" stop-color="#9cdd9c"/><stop offset="0.495" stop-color="#9bdc9b"/><stop offset="0.505" stop-color="#97db97"/><stop offset="0.631" stop-color="#96da96"/><stop offset="0.64" stop-color="#92d992"/><stop offset="0.757" stop-color="#90d890"/><stop offset="0.766" stop-color="#8dd78d"/><stop offset="0.847" stop-color="#8ad68a"/><stop offset="0.856" stop-color="#86d486"/><stop offset="0.928" stop-color="#83d383"/><stop offset="0.955" stop-color="#78cf78"/><stop offset="0.982" stop-color="#66c866"/><stop offset="1" stop-color="#5dc55d"/></linearGradient>
<linearGradient id="g272" x2="0" y2="1"><stop offset="0" stop-color="#a6e0a6"/><stop offset="0.189" stop-color="#a4dfa4"/><stop offset="0.198" stop-color="#a1dea1"/><stop offset="0.351" stop-color="#9fde9f"/><stop offset="0.36" stop-color="#9cdd9c"/><stop offset="0.495" stop-color="#9adc9a"/><stop offset="0.505" stop-color="#97db97"/><stop offset="0.631" stop-color="#96da96"/><stop offset="0.64" stop-color="#92d992"/><stop offset="0.757" stop-color="#90d890"/><stop offset="0.766" stop-color="#8dd78d"/><stop offset="0.847" stop-color="#8ad68a"/><stop offset="0.856" stop-color="#86d486"/><stop offset="0.928" stop-color="#83d383"/><stop offset="0.955" stop-color="#78cf78"/><stop offset="0.982" stop-color="#66c866"/><stop offset="1" stop-color="#5dc55d"/></linearGradient>
<linearGradient id="g273" x2="0" y2="1"><stop offset="0" stop-color="#a6e0a6"/><stop offset="0.18" stop-color="#a4dfa4"/><stop offset="0.189" stop-color="#a1dea1"/><stop offset="0.351" stop-color="#9fde9f"/><stop offset="0.36" stop-color="#9cdd9c"/><stop offset="0.495" stop-color="#9adc9a"/><stop offset="0.505" stop-color="#97db97"/><stop offset="0.631" stop-color="#95da95"/><stop offset="0.64" stop-color="#92d992"/><stop offset="0.757" stop-color="#90d890"/><stop offset="0.766" stop-color="#8dd78d"/><stop offset="0.838" stop-color="#8bd68b"/><stop offset="0.847" stop-color="#86d486"/><stop offset="0.928" stop-color="#83d383"/><stop offset="0.955" stop-color="#78cf78"/><stop offset="0.982" stop-color="#65c865"/><stop offset="1" stop-color="#5dc55d"/></linearGradient>
<linearGradient id="g274" x2="0" y2="1"><stop offset="0" stop-color="#a5e0a5"/><stop offset="0.18" stop-color="#a4dfa4"/><stop offset="0.189" stop-color="#a1dea1"/><stop offset="0.342" stop-color="#9fde9f"/><stop offset="0.351" stop-color="#9cdd9c"/><stop offset="0.486" stop-color="#9bdc9b"/><stop offset="0.495" stop-color="#97db97"/><stop offset="0.622" stop-color="#96da96"/><stop offset="0.631" stop-color="#92d992"/><stop offset="0.748" stop-color="#90d890"/><stop offset="0.757" stop-color="#8dd78d"/><stop offset="0.838" stop-color="#8ad68a"/><stop offset="0.847" stop-color="#86d486"/><stop offset="0.928" stop-color="#83d383"/><stop offset="0.955" stop-color="#78cf78"/><stop offset="0.964" stop-color="#70cc70"/><stop offset="0.991" stop-color="#61c761"/><stop offset="1" stop-color="#5dc55d"/></linearGradient>
<linearGradient id="g275" x2="0" y2="1"><stop offset="0" stop-color="#a5e0a5"/><stop offset="0.18" stop-color="#a4dfa4"/><stop offset="0.189" stop-color="#a1dea1"/><stop offset="0.342" stop-color="#9fde9f"/><stop offset="0.351" stop-color="#9cdd9c"/><stop offset="0.486" stop-color="#9bdc9b"/><stop offset="0.495" stop-color="#97db97"/><stop offset="0.622" stop-color="#96da96"/><stop offset="0.631" stop-color="#92d992"/><stop offset="0.748" stop-color="#90d890"/><stop offset="0.757" stop-color="#8dd78d"/><stop offset="0.838" stop-color="#8ad68a"/><stop offset="0.847" stop-color="#86d486"/><stop offset="0.928" stop-color="#83d383"/><stop offset="0.955" stop-color="#78cf78"/><stop offset="0.964" stop-color="#70cc70"/><stop offset="0.991" stop-color="#61c661"/><stop offset="1" stop-color="#5dc55d"/></linearGradient>
<linearGradient id="g276" x2="0" y2="1"><stop offset="0" stop-color="#a5e0a5"/><stop offset="0.18" stop-color="#a4dfa4"/><stop offset="0.189" stop-color="#a1dea1"/><stop offset="0.342" stop-color="#9fde9f"/><stop offset="0.351" stop-color="#9cdd9c"/><stop offset="0.486" stop-color="#9adc9a"/><stop offset="0.495" stop-color="#97db97"/><stop offset="0.622" stop-color="#96da96"/><stop offset="0.631" stop-color="#92d992"/><stop offset="0.748" stop-color="#90d890"/><stop offset="0.757" stop-color="#8dd78d"/><stop offset="0.838" stop-color="#8ad68a"/><stop offset="0.847" stop-color="#86d486"/><stop offset="0.928" stop-color="#83d383"/><stop offset="0.955" stop-color="#78cf78"/><stop offset="0.964" stop-color="#70cc70"/><stop offset="0.991" stop-color="#61c661"/><stop offset="1" stop-color="#5dc55d"/></linearGradient>
<linearGradient id="g277" x2="0" y2="1"><stop offset="0" stop-color="#a5e0a5"/><stop offset="0.171" stop-color="#a4dfa4"/><stop offset="0.18" stop-color="#a1dea1"/><stop offset="0.342" stop-color="#9fde9f"/><stop offset="0.351" stop-color="#9cdd9c"/><stop offset="0.486" stop-color="#9adc9a"/><stop offset="0.495" stop-color="#97db97"/><stop offset="0.622" stop-color="#95da95"/><stop offset="0.631" stop-color="#92d992"/><stop offset="0.748" stop-color="#90d890"/><stop offset="0.757" stop-color="#8dd78d"/><stop offset="0.829" stop-color="#8bd68b"/><stop offset="0.838" stop-color="#86d486"/><stop offset="0.928" stop-color="#83d383"/><stop offset="0.955" stop-color="#78cf78"/><stop offset="0.964" stop-color="#70cc70"/><stop offset="0.991" stop-color="#61c661"/><stop offset="1" stop-color="#5dc55d"/></linearGradient>
<linearGradient id="g278" x2="0" y2="1"><stop offset="0" stop-color="#a5e0a5"/><stop offset="0.171" stop-color="#a4dfa4"/><stop offset="0.18" stop-color="#a1dea1"/><stop offset="0.333" stop-color="#9fde9f"/><stop offset="0.342" stop-color="#9cdd9c"/><stop offset="0.477" stop-color="#9bdc9b"/><stop offset="0.486" stop-color="#97db97"/><stop offset="0.613" stop-color="#96da96"/><stop offset="0.622" stop-color="#92d992"/><stop offset="0.739" stop-color="#90d890"/><stop offset="0.748" stop-color="#8dd78d"/><stop offset="0.829" stop-color="#8ad68a"/><stop offset="0.838" stop-color="#86d486"/><stop offset="0.928" stop-color="#83d383"/><stop offset="0.946" stop-color="#7cd17c"/><stop offset="0.982" stop-color="#65c865"/><stop offset="1" stop-color="#5dc55d"/></linearGradient>
<linearGradient id="g279" x2="0" y2="1"><stop offset="0" stop-color="#a5e0a5"/><stop offset="0.171" stop-color="#a4dfa4"/><stop offset="0.18" stop-color="#a1dea1"/><stop offset="0.333" stop-color="#9fde9f"/><stop offset="0.342" stop-color="#9cdd9c"/><stop offset="0.477" stop-color="#9bdc9b"/><stop offset="0.486" stop-color="#97db97"/><stop offset="0.613" stop-color="#96da96"/><stop offset="0.622" stop-color="#92d992"/><stop offset="0.739" stop-color="#90d890"/><stop offset="0.748" stop-color="#8dd78d"/><stop offset="0.829" stop-color="#8ad68a"/><stop offset="0.838" stop-color="#86d486"/><stop offset="0.928" stop-color="#83d383"/><stop offset="0.946" stop-color="#7cd17c"/><stop offset="0.982" stop-color="#65c865"/><stop offset="1" stop-color="#5cc55c"/></linearGradient>
<linearGradient id="g280" x2="0" y2="1"><stop offset="0" stop-color="#a5e0a5"/><stop offset="0.171" stop-color="#a4dfa4"/><stop offset="0.18" stop-color="#a1dea1"/><stop offset="0.333" stop-color="#9fde9f"/><stop offset="0.342" stop-color="#9cdd9c"/><stop offset="0.477" stop-color="#9adc9a"/><stop offset="0.486" stop-color="#97db97"/><stop offset="0.613" stop-color="#96da96"/><stop offset="0.622" stop-color="#92d992"/><stop offset="0.739" stop-color="#90d890"/><stop offset="0.748" stop-color="#8dd78d"/><stop offset="0.829" stop-color="#8ad68a"/><stop offset="0.838" stop-color="#86d486"/><stop offset="0.928" stop-color="#83d383"/><stop offset="0.946" stop-color="#7cd17c"/><stop offset="0.982" stop-color="#65c865"/><stop offset="1" stop-color="#5cc55c"/></linearGradient>
<linearGradient id="g281" x2="0" y2="1"><stop offset="0" stop-color="#a5e0a5"/><stop offset="0.162" stop-color="#a4dfa4"/><stop offset="0.171" stop-color="#a1dea1"/><stop offset="0.333" stop-color="#9fde9f"/><stop offset="0.342" stop-color="#9cdd9c"/><stop offset="0.477" stop-color="#9adc9a"/><stop offset="0.486" stop-color="#97db97"/><stop offset="0.613" stop-color="#95da95"/><stop offset="0.622" stop-color="#92d992"/><stop offset="0.739" stop-color="#90d890"/><stop offset="0.748" stop-color="#8dd78d"/><stop offset="0.82" stop-color="#8bd68b"/><stop offset="0.829" stop-color="#86d486"/><stop offset="0.928" stop-color="#83d383"/><stop offset="0.946" stop-color="#7bd17b"/><stop offset="0.982" stop-color="#65c865"/><stop offset="1" stop-color="#5cc55c"/></linearGradient>
<linearGradient id="g282" x2="0" y2="1"><stop offset="0" stop-color="#a5e0a5"/><stop offset="0.162" stop-color="#a4dfa4"/><stop offset="0.171" stop-color="#a1dea1"/><stop offset="0.333" stop-color="#9fde9f"/><stop offset="0.342" stop-color="#9cdd9c"/><stop offset="0.477" stop-color="#9adc9a"/><stop offset="0.486" stop-color="#97db97"/><stop offset="0.613" stop-color="#95da95"/><stop offset="0.622" stop-color="#92d992"/><stop offset="0.739" stop-color="#90d890"/><stop offset="0.748" stop-color="#8dd78d"/><stop offset="0.82" stop-color="#8bd68b"/><stop offset="0.829" stop-color="#86d486"/><stop offset="0.928" stop-color="#83d383"/><stop offset="0.946" stop-color="#7bd07b"/><stop offset="0.982" stop-color="#65c865"/><stop offset="1" stop-color="#5cc55c"/></linearGradient>
<linearGradient id="g283" x2="0" y2="1"><stop offset="0" stop-color="#a5e0a5"/><stop offset="0.162" stop-color="#a4dfa4"/><stop offset="0.171" stop-color="#a1dea1"/><stop offset="0.333" stop-color="#9fde9f"/><stop offset="0.342" stop-color="#9cdd9c"/><stop offset="0.477" stop-color="#9adc9a"/><stop offset="0.486" stop-color="#97db97"/><stop offset="0.613" stop-color="#95da95"/><stop offset="0.622" stop-color="#92d992"/><stop offset="0.739" stop-color="#90d890"/><stop offset="0.748" stop-color="#8dd78d"/><stop offset="0.82" stop-color="#8ad68a"/><stop offset="0.829" stop-color="#86d486"/><stop offset="0.928" stop-color="#83d383"/><stop offset="0.946" stop-color="#7bd07b"/><stop offset="0.982" stop-color="#65c865"/><stop offset="1" stop-color="#5cc55c"/></linearGradient>
<linearGradient id="g284" x2="0" y2="1"><stop offset="0" stop-color="#9bdc9b"/><stop offset="0.171" stop-color="#9adc9a"/><stop offset="0.18" stop-color="#98db98"/><stop offset="0.514" stop-color="#95da95"/><stop offset="0.523" stop-color="#92d992"/><stop offset="0.685" stop-color="#90d890"/><stop offset="0.694" stop-color="#8dd78d"/><stop offset="0.847" stop-color="#8bd68b"/><stop offset="0.856" stop-color="#88d588"/><stop offset="0.901" stop-color="#88d588"/><stop offset="0.919" stop-color="#11a711"/><stop offset="1" stop-color="#11a711"/></linearGradient>
<linearGradient id="g285" x2="0" y2="1"><stop offset="0" stop-color="#9cdc9c"/><stop offset="0.405" stop-color="#9adc9a"/><stop offset="0.414" stop-color="#98db98"/><stop offset="0.577" stop-color="#95da95"/><stop offset="0.586" stop-color="#93d993"/><stop offset="0.748" stop-color="#90d890"/><stop offset="0.757" stop-color="#8dd78d"/><stop offset="0.892" stop-color="#8bd68b"/><stop offset="0.901" stop-color="#88d588"/><stop offset="0.919" stop-color="#12a712"/><stop offset="1" stop-color="#11a711"/></linearGradient>
<linearGradient id="g286" x2="0" y2="1"><stop offset="0" stop-color="#9cdd9c"/><stop offset="0.441" stop-color="#9adc9a"/><stop offset="0.45" stop-color="#98db98"/><stop offset="0.613" stop-color="#95da95"/><stop offset="0.622" stop-color="#93d993"/><stop offset="0.775" stop-color="#90d890"/><stop offset="0.784" stop-color="#8dd78d"/><stop offset="0.901" stop-color="#8bd68b"/><stop offset="0.919" stop-color="#13a813"/><stop offset="1" stop-color="#11a711"/></linearGradient>
<linearGradient id="g287" x2="0" y2="1"><stop offset="0" stop-color="#9fde9f"/><stop offset="0.027" stop-color="#9ddd9d"/><stop offset="0.459" stop-color="#9adc9a"/><stop offset="0.468" stop-color="#98db98"/><stop offset="0.631" stop-color="#95da95"/><stop offset="0.64" stop-color="#93d993"/><stop offset="0.784" stop-color="#90d890"/><stop offset="0.793" stop-color="#8dd78d"/><stop offset="0.901" stop-color="#8bd68b"/><stop offset="0.91" stop-color="#4ebf4e"/><stop offset="0.919" stop-color="#13a813"/><stop offset="1" stop-color="#11a711"/></linearGradient>
<linearGradient id="g288" x2="0" y2="1"><stop offset="0" stop-color="#a0dea0"/><stop offset="0.063" stop-color="#9fde9f"/><stop offset="0.072" stop-color="#9ddd9d"/><stop offset="0.468" stop-color="#9adc9a"/><stop offset="0.477" stop-color="#98db98"/><stop offset="0.64" stop-color="#95da95"/><stop offset="0.649" stop-color="#92d992"/><stop offset="0.784" stop-color="#90d890"/><stop offset="0.793" stop-color="#8dd78d"/><stop offset="0.892" stop-color="#8bd68b"/><stop offset="0.901" stop-color="#88d588"/><stop offset="0.919" stop-color="#14a814"/><stop offset="1" stop-color="#11a711"/></linearGradient>
<linearGradient id="g289" x2="0" y2="1"><stop offset="0" stop-color="#a0dea0"/><stop offset="0.09" stop-color="#9fde9f"/><stop offset="0.099" stop-color="#9ddd9d"/><stop offset="0.468" stop-color="#9adc9a"/><stop offset="0.477" stop-color="#98db98"/><stop offset="0.631" stop-color="#95da95"/><stop offset="0.64" stop-color="#93d993"/><stop offset="0.775" stop-color="#90d890"/><stop offset="0.784" stop-color="#8dd78d"/><stop offset="0.874" stop-color="#8bd68b"/><stop offset="0.883" stop-color="#88d588"/><stop offset="0.901" stop-color="#88d588"/><stop offset="0.919" stop-color="#15a815"/><stop offset="1" stop-color="#11a711"/></linearGradient>
<linearGradient id="g290" x2="0" y2="1"><stop offset="0" stop-color="#a0dea0"/><stop offset="0.099" stop-color="#9fde9f"/><stop offset="0.108" stop-color="#9ddd9d"/><stop offset="0.468" stop-color="#9adc9a"/><stop offset="0.477" stop-color="#98db98"/><stop offset="0.631" stop-color="#95da95"/><stop offset="0.64" stop-color="#92d992"/><stop offset="0.766" stop-color="#90d890"/><stop offset="0.775" stop-color="#8dd78d"/><stop offset="0.865" stop-color="#8bd68b"/><stop offset="0.874" stop-color="#88d588"/><stop offset="0.901" stop-color="#88d588"/><stop offset="0.919" stop-color="#15a915"/><stop offset="1" stop-color="#11a711"/></linearGradient>
<linearGradient id="g291" x2="0" y2="1"><stop offset="0" stop-color="#a0dea0"/><stop offset="0.09" stop-color="#9fde9f"/><stop offset="0.099" stop-color="#9ddd9d"/><stop offset="0.459" stop-color="#9adc9a"/><stop offset="0.468" stop-color="#98db98"/><stop offset="0.622" stop-color="#95da95"/><stop offset="0.631" stop-color="#93d993"/><stop offset="0.757" stop-color="#90d890"/><stop offset="0.766" stop-color="#8dd78d"/><stop offset="0.865" stop-color="#8bd68b"/><stop offset="0.874" stop-color="#88d588"/><stop offset="0.901" stop-color="#87d587"/><stop offset="0.919" stop-color="#16a916"/><stop offset="1" stop-color="#11a711"/></linearGradient>
<linearGradient id="g292" x2="0" y2="1"><stop offset="0" stop-color="#a0dea0"/><stop offset="0.081" stop-color="#9fde9f"/><stop offset="0.09" stop-color="#9ddd9d"/><stop offset="0.45" stop-color="#9adc9a"/><stop offset="0.459" stop-color="#98db98"/><stop offset="0.613" stop-color="#95da95"/><stop offset="0.622" stop-color="#93d993"/><stop offset="0.748" stop-color="#90d890"/><stop offset="0.757" stop-color="#8dd78d"/><stop offset="0.847" stop-color="#8bd68b"/><stop offset="0.856" stop-color="#88d588"/><stop offset="0.901" stop-color="#87d587"/><stop offset="0.919" stop-color="#16a916"/><stop offset="1" stop-color="#11a711"/></linearGradient>
<linearGradient id="g293" x2="0" y2="1"><stop offset="0" stop-color="#a0dea0"/><stop offset="0.072" stop-color="#9fde9f"/><stop offset="0.081" stop-color="#9ddd9d"/><stop offset="0.441" stop-color="#9adc9a"/><stop offset="0.45" stop-color="#98db98"/><stop offset="0.604" stop-color="#95da95"/><stop offset="0.613" stop-color="#92d992"/><stop offset="0.739" stop-color="#90d890"/><stop offset="0.748" stop-color="#8dd78d"/><stop offset="0.838" stop-color="#8bd68b"/><stop offset="0.847" stop-color="#88d588"/><stop offset="0.901" stop-color="#86d486"/><stop offset="0.91" stop-color="#4dbf4d"/><stop offset="0.919" stop-color="#17a917"/><stop offset="1" stop-color="#11a711"/></linearGradient>
<linearGradient id="g294" x2="0" y2="1"><stop offset="0" stop-color="#a0dea0"/><stop offset="0.054" stop-color="#9fde9f"/><stop offset="0.063" stop-color="#9ddd9d"/><stop offset="0.441" stop-color="#9adc9a"/><stop offset="0.45" stop-color="#98db98"/><stop offset="0.586" stop-color="#95da95"/><stop offset="0.595" stop-color="#93d993"/><stop offset="0.73" stop-color="#90d890"/><stop offset="0.739" stop-color="#8dd78d"/><stop offset="0.829" stop-color="#8bd68b"/><stop offset="0.838" stop-color="#88d588"/><stop offset="0.892" stop-color="#86d486"/><stop offset="0.901" stop-color="#83d383"/><stop offset="0.919" stop-color="#17a917"/><stop offset="1" stop-color="#11a711"/></linearGradient>
<linearGradient id="g295" x2="0" y2="1"><stop offset="0" stop-color="#a0dea0"/><stop offset="0.045" stop-color="#9fde9f"/><stop offset="0.054" stop-color="#9ddd9d"/><stop offset="0.432" stop-color="#9adc9a"/><stop offset="0.441" stop-color="#98db98"/><stop offset="0.577" stop-color="#95da95"/><stop offset="0.586" stop-color="#93d993"/><stop offset="0.721" stop-color="#90d890"/><stop offset="0.73" stop-color="#8dd78d"/><stop offset="0.82" stop-color="#8bd68b"/><stop offset="0.829" stop-color="#88d588"/><stop offset="0.883" stop-color="#86d486"/><stop offset="0.892" stop-color="#83d383"/><stop offset="0.901" stop-color="#83d383"/><stop offset="0.919" stop-color="#17aa17"/><stop offset="1" stop-color="#11a711"/></linearGradient>
<linearGradient id="g296" x2="0" y2="1"><stop offset="0" stop-color="#a0dea0"/><stop offset="0.027" stop-color="#9fde9f"/><stop offset="0.036" stop-color="#9ddd9d"/><stop offset="0.423" stop-color="#9adc9a"/><stop offset="0.432" stop-color="#98db98"/><stop offset="0.568" stop-color="#95da95"/><stop offset="0.577" stop-color="#93d993"/><stop offset="0.703" stop-color="#90d890"/><stop offset="0.712" stop-color="#8ed78e"/><stop offset="0.811" stop-color="#8bd68b"/><stop offset="0.82" stop-color="#88d588"/><stop offset="0.874" stop-color="#86d486"/><stop offset="0.883" stop-color="#83d383"/><stop offset="0.901" stop-color="#82d382"/><stop offset="0.919" stop-color="#18aa18"/><stop offset="1" stop-color="#11a711"/></linearGradient>
<linearGradient id="g297" x2="0" y2="1"><stop offset="0" stop-color="#a0dea0"/><stop offset="0.018" stop-color="#9fde9f"/><stop offset="0.027" stop-color="#9ddd9d"/><stop offset="0.414" stop-color="#9adc9a"/><stop offset="0.423" stop-color="#98db98"/><stop offset="0.559" stop-color="#95da95"/><stop offset="0.568" stop-color="#93d993"/><stop offset="0.694" stop-color="#90d890"/><stop offset="0.703" stop-color="#8ed78e"/><stop offset="0.802" stop-color="#8bd68b"/><stop offset="0.811" stop-color="#88d588"/><stop offset="0.865" stop-color="#86d586"/><stop offset="0.874" stop-color="#83d383"/><stop offset="0.901" stop-color="#82d382"/><stop offset="0.919" stop-color="#18aa18"/><stop offset="1" stop-color="#11a711"/></linearGradient>
<linearGradient id="g298" x2="0" y2="1"><stop offset="0" stop-color="#9fde9f"/><stop offset="0.027" stop-color="#9ddd9d"/><stop offset="0.405" stop-color="#9adc9a"/><stop offset="0.414" stop-color="#98db98"/><stop offset="0.55" stop-color="#95da95"/><stop offset="0.559" stop-color="#93d993"/><stop offset="0.685" stop-color="#90d890"/><stop offset="0.694" stop-color="#8dd78d"/><stop offset="0.793" stop-color="#8bd68b"/><stop offset="0.802" stop-color="#88d588"/><stop offset="0.865" stop-color="#86d486"/><stop offset="0.874" stop-color="#83d383"/><stop offset="0.901" stop-color="#81d381"/><stop offset="0.91" stop-color="#4cbe4c"/><stop offset="0.919" stop-color="#19aa19"/><stop offset="1" stop-color="#11a711"/></linearGradient>
<linearGradient id="g299" x2="0" y2="1"><stop offset="0" stop-color="#9fde9f"/><stop offset="0.009" stop-color="#9ddd9d"/><stop offset="0.396" stop-color="#9adc9a"/><stop offset="0.405" stop-color="#98db98"/><stop offset="0.541" stop-color="#95da95"/><stop offset="0.55" stop-color="#93d993"/><stop offset="0.676" stop-color="#90d890"/><stop offset="0.685" stop-color="#8dd78d"/><stop offset="0.784" stop-color="#8bd68b"/><stop offset="0.793" stop-color="#88d588"/><stop offset="0.856" stop-color="#86d486"/><stop offset="0.865" stop-color="#83d383"/><stop offset="0.892" stop-color="#81d381"/><stop offset="0.901" stop-color="#7ed17e"/><stop offset="0.919" stop-color="#19aa19"/><stop offset="1" stop-color="#11a711"/></linearGradient>
<linearGradient id="g300" x2="0" y2="1"><stop offset="0" stop-color="#9ddd9d"/><stop offset="0.387" stop-color="#9adc9a"/><stop offset="0.396" stop-color="#98db98"/><stop offset="0.532" stop-color="#95da95"/><stop offset="0.541" stop-color="#93d993"/><stop offset="0.667" stop-color="#90d890"/><stop offset="0.676" stop-color="#8ed78e"/><stop offset="0.775" stop-color="#8bd68b"/><stop offset="0.784" stop-color="#88d588"/><stop offset="0.847" stop-color="#86d486"/><stop offset="0.856" stop-color="#83d383"/><stop offset="0.892" stop-color="#81d381"/><stop offset="0.901" stop-color="#7ed17e"/><stop offset="0.919" stop-color="#19aa19"/><stop offset="1" stop-color="#11a711"/></linearGradient>
<linearGradient id="g301" x2="0" y2="1"><stop offset="0" stop-color="#9ddd9d"/><stop offset="0.378" stop-color="#9adc9a"/><stop offset="0.387" stop-color="#98db98"/><stop offset="0.523" stop-color="#95da95"/><stop offset="0.532" stop-color="#93d993"/><stop offset="0.658" stop-color="#90d890"/><stop offset="0.667" stop-color="#8dd78d"/><stop offset="0.766" stop-color="#8bd68b"/><stop offset="0.775" stop-color="#88d588"/><stop offset="0.838" stop-color="#86d486"/><stop offset="0.847" stop-color="#83d383"/><stop offset="0.883" stop-color="#81d381"/><stop offset="0.892" stop-color="#7ed17e"/><stop offset="0.901" stop-color="#7dd17d"/><stop offset="0.919" stop-color="#1aab1a"/><stop offset="1" stop-color="#11a711"/></linearGradient>
<linearGradient id="g302" x2="0" y2="1"><stop offset="0" stop-color="#9ddd9d"/><stop offset="0.369" stop-color="#9adc9a"/><stop offset="0.378" stop-color="#98db98"/><stop offset="0.514" stop-color="#95da95"/><stop offset="0.523" stop-color="#93d993"/><stop offset="0.649" stop-color="#90d890"/><stop offset="0.658" stop-color="#8dd78d"/><stop offset="0.757" stop-color="#8bd68b"/><stop offset="0.766" stop-color="#88d588"/><stop offset="0.829" stop-color="#86d586"/><stop offset="0.838" stop-color="#83d383"/><stop offset="0.874" stop-color="#81d381"/><stop offset="0.883" stop-color="#7ed17e"/><stop offset="0.901" stop-color="#7dd17d"/><stop offset="0.919" stop-color="#1aab1a"/><stop offset="1" stop-color="#11a711"/></linearGradient>
<linearGradient id="g303" x2="0" y2="1"><stop offset="0" stop-color="#9ddd9d"/><stop offset="0.351" stop-color="#9adc9a"/><stop offset="0.36" stop-color="#98db98"/><stop offset="0.505" stop-color="#95da95"/><stop offset="0.514" stop-color="#93d993"/><stop offset="0.64" stop-color="#90d890"/><stop offset="0.649" stop-color="#8dd78d"/><stop offset="0.748" stop-color="#8bd68b"/><stop offset="0.757" stop-color="#88d588"/><stop offset="0.829" stop-color="#86d486"/><stop offset="0.838" stop-color="#83d383"/><stop offset="0.874" stop-color="#81d381"/><stop offset="0.883" stop-color="#7ed17e"/><stop offset="0.901" stop-color="#7cd17c"/><stop offset="0.91" stop-color="#4abe4a"/><stop offset="0.919" stop-color="#1bab1b"/><stop offset="0.991" stop-color="#11a711"/><stop offset="1" stop-color="#11a711"/></linearGradient>
<linearGradient id="g304" x2="0" y2="1"><stop offset="0" stop-color="#9ddd9d"/><stop offset="0.333" stop-color="#9adc9a"/><stop offset="0.342" stop-color="#98db98"/><stop offset="0.495" stop-color="#95da95"/><stop offset="0.505" stop-color="#93d993"/><stop offset="0.631" stop-color="#90d890"/><stop offset="0.64" stop-color="#8dd78d"/><stop offset="0.739" stop-color="#8bd68b"/><stop offset="0.748" stop-color="#88d588"/><stop offset="0.82" stop-color="#86d486"/><stop offset="0.829" stop-color="#83d383"/><stop offset="0.865" stop-color="#81d381"/><stop offset="0.874" stop-color="#7ed17e"/><stop offset="0.892" stop-color="#7dd17d"/><stop offset="0.901" stop-color="#79d079"/><stop offset="0.919" stop-color="#1bab1b"/><stop offset="0.991" stop-color="#11a711"/><stop offset="1" stop-color="#11a711"/></linearGradient>
<linearGradient id="g305" x2="0" y2="1"><stop offset="0" stop-color="#9ddd9d"/><stop offset="0.315" stop-color="#9adc9a"/><stop offset="0.324" stop-color="#98db98"/><stop offset="0.486" stop-color="#95da95"/><stop offset="0.495" stop-color="#93d993"/><stop offset="0.622" stop-color="#90d890"/><stop offset="0.631" stop-color="#8dd78d"/><stop offset="0.73" stop-color="#8bd68b"/><stop offset="0.739" stop-color="#88d588"/><stop offset="0.811" stop-color="#86d486"/><stop offset="0.82" stop-color="#83d383"/><stop offset="0.865" stop-color="#81d281"/><stop offset="0.874" stop-color="#7ed17e"/><stop offset="0.892" stop-color="#7cd17c"/><stop offset="0.901" stop-color="#79cf79"/><stop offset="0.919" stop-color="#1bab1b"/><stop offset="0.991" stop-color="#11a711"/><stop offset="1" stop-color="#11a711"/></linearGradient>
<linearGradient id="g306" x2="0" y2="1"><stop offset="0" stop-color="#9cdd9c"/><stop offset="0.297" stop-color="#9adc9a"/><stop offset="0.306" stop-color="#98db98"/><stop offset="0.477" stop-color="#95da95"/><stop offset="0.486" stop-color="#93d993"/><stop offset="0.613" stop-color="#90d890"/><stop offset="0.622" stop-color="#8dd78d"/><stop offset="0.721" stop-color="#8bd68b"/><stop offset="0.73" stop-color="#88d588"/><stop offset="0.802" stop-color="#86d486"/><stop offset="0.811" stop-color="#83d383"/><stop offset="0.856" stop-color="#81d381"/><stop offset="0.865" stop-color="#7ed17e"/><stop offset="0.883" stop-color="#7cd17c"/><stop offset="0.892" stop-color="#79d079"/><stop offset="0.901" stop-color="#78cf78"/><stop offset="0.919" stop-color="#1cab1c"/><stop offset="0.991" stop-color="#11a711"/><stop offset="1" stop-color="#11a711"/></linearGradient>
<linearGradient id="g307" x2="0" y2="1"><stop offset="0" stop-color="#9cdd9c"/><stop offset="0.279" stop-color="#9adc9a"/><stop offset="0.288" stop-color="#98db98"/><stop offset="0.468" stop-color="#95da95"/><stop offset="0.477" stop-color="#93d993"/><stop offset="0.604" stop-color="#90d890"/><stop offset="0.613" stop-color="#8dd78d"/><stop offset="0.712" stop-color="#8bd68b"/><stop offset="0.721" stop-color="#88d588"/><stop offset="0.793" stop-color="#86d486"/><stop offset="0.802" stop-color="#83d383"/><stop offset="0.847" stop-color="#81d381"/><stop offset="0.856" stop-color="#7ed17e"/><stop offset="0.883" stop-color="#7cd17c"/><stop offset="0.892" stop-color="#79cf79"/><stop offset="0.901" stop-color="#78cf78"/><stop offset="0.91" stop-color="#49bd49"/><stop offset="0.919" stop-color="#1cab1c"/><stop offset="0.991" stop-color="#11a711"/><stop offset="1" stop-color="#11a711"/></linearGradient>
<linearGradient id="g308" x2="0" y2="1"><stop offset="0" stop-color="#9cdd9c"/><stop offset="0.27" stop-color="#9adc9a"/><stop offset="0.279" stop-color="#98db98"/><stop offset="0.468" stop-color="#95da95"/><stop offset="0.477" stop-color="#92d992"/><stop offset="0.595" stop-color="#90d890"/><stop offset="0.604" stop-color="#8dd78d"/><stop offset="0.703" stop-color="#8bd68b"/><stop offset="0.712" stop-color="#88d588"/><stop offset="0.784" stop-color="#86d486"/><stop offset="0.793" stop-color="#83d383"/><stop offset="0.847" stop-color="#81d281"/><stop offset="0.856" stop-color="#7ed17e"/><stop offset="0.874" stop-color="#7cd17c"/><stop offset="0.883" stop-color="#79d079"/><stop offset="0.901" stop-color="#77cf77"/><stop offset="0.91" stop-color="#49bd49"/><stop offset="0.919" stop-color="#1cac1c"/><stop offset="0.991" stop-color="#11a711"/><stop offset="1" stop-color="#11a711"/></linearGradient>
<linearGradient id="g309" x2="0" y2="1"><stop offset="0" stop-color="#9cdd9c"/><stop offset="0.252" stop-color="#9adc9a"/><stop offset="0.261" stop-color="#98db98"/><stop offset="0.459" stop-color="#95da95"/><stop offset="0.468" stop-color="#92d992"/><stop offset="0.586" stop-color="#90d890"/><stop offset="0.595" stop-color="#8dd78d"/><stop offset="0.694" stop-color="#8bd68b"/><stop offset="0.703" stop-color="#88d588"/><stop offset="0.775" stop-color="#86d486"/><stop offset="0.784" stop-color="#83d383"/><stop offset="0.838" stop-color="#81d381"/><stop offset="0.847" stop-color="#7ed17e"/><stop offset="0.874" stop-color="#7cd17c"/><stop offset="0.883" stop-color="#79cf79"/><stop offset="0.892" stop-color="#78cf78"/><stop offset="0.901" stop-color="#74ce74"/><stop offset="0.919" stop-color="#1dac1d"/><stop offset="0.991" stop-color="#12a712"/><stop offset="1" stop-color="#12a712"/></linearGradient>
<linearGradient id="g310" x2="0" y2="1"><stop offset="0" stop-color="#9cdd9c"/><stop offset="0.234" stop-color="#9adc9a"/><stop offset="0.243" stop-color="#98db98"/><stop offset="0.45" stop-color="#95da95"/><stop offset="0.459" stop-color="#93d993"/><stop offset="0.577" stop-color="#90d890"/><stop offset="0.586" stop-color="#8dd78d"/><stop offset="0.685" stop-color="#8bd68b"/><stop offset="0.694" stop-color="#88d588"/><stop offset="0.766" stop-color="#86d486"/><stop offset="0.775" stop-color="#83d383"/><stop offset="0.829" stop-color="#81d381"/><stop offset="0.838" stop-color="#7ed17e"/><stop offset="0.865" stop-color="#7cd17c"/><stop offset="0.874" stop-color="#79d079"/><stop offset="0.892" stop-color="#77cf77"/><stop offset="0.901" stop-color="#74ce74"/><stop offset="0.919" stop-color="#1dac1d"/><stop offset="0.991" stop-color="#12a712"/><stop offset="1" stop-color="#12a712"/></linearGradient>
<linearGradient id="g311" x2="0" y2="1"><stop offset="0" stop-color="#9cdd9c"/><stop offset="0.225" stop-color="#9adc9a"/><stop offset="0.234" stop-color="#98db98"/><stop offset="0.441" stop-color="#95da95"/><stop offset="0.45" stop-color="#93d993"/><stop offset="0.568" stop-color="#90d890"/><stop offset="0.577" stop-color="#8dd78d"/><stop offset="0.685" stop-color="#8bd68b"/><stop offset="0.694" stop-color="#88d588"/><stop offset="0.766" stop-color="#86d486"/><stop offset="0.775" stop-color="#83d383"/><stop offset="0.829" stop-color="#81d381"/><stop offset="0.838" stop-color="#7ed17e"/><stop offset="0.865" stop-color="#7cd17c"/><stop offset="0.874" stop-color="#79cf79"/><stop offset="0.892" stop-color="#77cf77"/><stop offset="0.901" stop-color="#73cd73"/><stop offset="0.919" stop-color="#1dac1d"/><stop offset="0.991" stop-color="#12a712"/><stop offset="1" stop-color="#12a712"/></linearGradient>
<linearGradient id="g312" x2="0" y2="1"><stop offset="0" stop-color="#9cdd9c"/><stop offset="0.216" stop-color="#9adc9a"/><stop offset="0.225" stop-color="#98db98"/><stop offset="0.441" stop-color="#95da95"/><stop offset="0.45" stop-color="#92d992"/><stop offset="0.559" stop-color="#90d890"/><stop offset="0.568" stop-color="#8dd78d"/><stop offset="0.676" stop-color="#8bd68b"/><stop offset="0.685" stop-color="#88d588"/><stop offset="0.757" stop-color="#86d486"/><stop offset="0.766" stop-color="#83d383"/><stop offset="0.82" stop-color="#81d381"/><stop offset="0.829" stop-color="#7ed17e"/><stop offset="0.865" stop-color="#7cd17c"/><stop offset="0.892" stop-color="#74ce74"/><stop offset="0.901" stop-color="#73cd73"/><stop offset="0.91" stop-color="#47bc47"/><stop offset="0.919" stop-color="#1eac1e"/><stop offset="0.991" stop-color="#12a712"/><stop offset="1" stop-color="#12a712"/></linearGradient>
<linearGradient id="g313" x2="0" y2="1"><stop offset="0" stop-color="#9cdd9c"/><stop offset="0.198" stop-color="#9adc9a"/><stop offset="0.207" stop-color="#98db98"/><stop offset="0.432" stop-color="#95da95"/><stop offset="0.441" stop-color="#92d992"/><stop offset="0.55" stop-color="#90d890"/><stop offset="0.559" stop-color="#8dd78d"/><stop offset="0.667" stop-color="#8bd68b"/><stop offset="0.676" stop-color="#88d588"/><stop offset="0.748" stop-color="#86d486"/><stop offset="0.757" stop-color="#83d383"/><stop offset="0.82" stop-color="#81d381"/><stop offset="0.829" stop-color="#7ed17e"/><stop offset="0.856" stop-color="#7cd17c"/><stop offset="0.865" stop-color="#79cf79"/><stop offset="0.883" stop-color="#77cf77"/><stop offset="0.892" stop-color="#73cd73"/><stop offset="0.901" stop-color="#72cd72"/><stop offset="0.91" stop-color="#47bc47"/><stop offset="0.919" stop-color="#1eac1e"/><stop offset="0.991" stop-color="#12a712"/><stop offset="1" stop-color="#12a712"/></linearGradient>
<linearGradient id="g314" x2="0" y2="1"><stop offset="0" stop-color="#9cdc9c"/><stop offset="0.189" stop-color="#9adc9a"/><stop offset="0.198" stop-color="#98db98"/><stop offset="0.423" stop-color="#95da95"/><stop offset="0.432" stop-color="#93d993"/><stop offset="0.541" stop-color="#90d890"/><stop offset="0.55" stop-color="#8dd78d"/><stop offset="0.658" stop-color="#8bd68b"/><stop offset="0.667" stop-color="#88d588"/><stop offset="0.739" stop-color="#86d486"/><stop offset="0.748" stop-color="#83d383"/><stop offset="0.811" stop-color="#81d381"/><stop offset="0.82" stop-color="#7ed17e"/><stop offset="0.847" stop-color="#7cd17c"/><stop offset="0.856" stop-color="#79d079"/><stop offset="0.874" stop-color="#77cf77"/><stop offset="0.883" stop-color="#74ce74"/><stop offset="0.901" stop-color="#72cd72"/><stop offset="0.91" stop-color="#47bc47"/><stop offset="0.919" stop-color="#1eac1e"/><stop offset="0.991" stop-color="#12a712"/><stop offset="1" stop-color="#12a712"/></linearGradient>
<linearGradient id="g315" x2="0" y2="1"><stop offset="0" stop-color="#9cdc9c"/><stop offset="0.18" stop-color="#9adc9a"/><stop offset="0.189" stop-color="#98db98"/><stop offset="0.414" stop-color="#95da95"/><stop offset="0.423" stop-color="#93d993"/><stop offset="0.532" stop-color="#90d890"/><stop offset="0.541" stop-color="#8dd78d"/><stop offset="0.649" stop-color="#8bd68b"/><stop offset="0.658" stop-color="#88d588"/><stop offset="0.73" stop-color="#86d486"/><stop offset="0.739" stop-color="#83d383"/><stop offset="0.802" stop-color="#81d381"/><stop offset="0.811" stop-color="#7ed27e"/><stop offset="0.847" stop-color="#7cd17c"/><stop offset="0.856" stop-color="#79cf79"/><stop offset="0.874" stop-color="#77cf77"/><stop offset="0.883" stop-color="#73cd73"/><stop offset="0.892" stop-color="#72cd72"/><stop offset="0.901" stop-color="#6ecc6e"/><stop offset="0.919" stop-color="#1fac1f"/><stop offset="0.991" stop-color="#12a712"/><stop offset="1" stop-color="#12a712"/></linearGradient>
<linearGradient id="g316" x2="0" y2="1"><stop offset="0" stop-color="#9cdc9c"/><stop offset="0.171" stop-color="#9adc9a"/><stop offset="0.18" stop-color="#98db98"/><stop offset="0.414" stop-color="#95da95"/><stop offset="0.423" stop-color="#92d992"/><stop offset="0.523" stop-color="#90d890"/><stop offset="0.532" stop-color="#8dd78d"/><stop offset="0.64" stop-color="#8bd68b"/><stop offset="0.649" stop-color="#88d588"/><stop offset="0.73" stop-color="#86d486"/><stop offset="0.739" stop-color="#83d383"/><stop offset="0.793" stop-color="#81d381"/><stop offset="0.802" stop-color="#7ed27e"/><stop offset="0.838" stop-color="#7cd17c"/><stop offset="0.847" stop-color="#79d079"/><stop offset="0.874" stop-color="#77cf77"/><stop offset="0.883" stop-color="#73cd73"/><stop offset="0.892" stop-color="#72cd72"/><stop offset="0.901" stop-color="#6ecb6e"/><stop offset="0.919" stop-color="#1fad1f"/><stop offset="0.991" stop-color="#12a712"/><stop offset="1" stop-color="#12a712"/></linearGradient>
<linearGradient id="g317" x2="0" y2="1"><stop offset="0" stop-color="#9cdc9c"/><stop offset="0.162" stop-color="#9adc9a"/><stop offset="0.171" stop-color="#98db98"/><stop offset="0.405" stop-color="#95da95"/><stop offset="0.414" stop-color="#93d993"/><stop offset="0.523" stop-color="#90d890"/><stop offset="0.532" stop-color="#8dd78d"/><stop offset="0.631" stop-color="#8bd68b"/><stop offset="0.64" stop-color="#88d588"/><stop offset="0.721" stop-color="#86d486"/><stop offset="0.73" stop-color="#83d383"/><stop offset="0.793" stop-color="#81d281"/><stop offset="0.802" stop-color="#7ed17e"/><stop offset="0.838" stop-color="#7cd17c"/><stop offset="0.847" stop-color="#79cf79"/><stop offset="0.865" stop-color="#77cf77"/><stop offset="0.874" stop-color="#74ce74"/><stop offset="0.892" stop-color="#72cd72"/><stop offset="0.901" stop-color="#6dcb6d"/><stop offset="0.91" stop-color="#45bc45"/><stop offset="0.919" stop-color="#1fad1f"/><stop offset="0.991" stop-color="#12a712"/><stop offset="1" stop-color="#12a712"/></linearGradient>
<linearGradient id="g318" x2="0" y2="1"><stop offset="0" stop-color="#9cdc9c"/><stop offset="0.153" stop-color="#9adc9a"/><stop offset="0.162" stop-color="#98db98"/><stop offset="0.396" stop-color="#95da95"/><stop offset="0.405" stop-color="#93d993"/><stop offset="0.514" stop-color="#90d890"/><stop offset="0.523" stop-color="#8dd78d"/><stop offset="0.622" stop-color="#8bd68b"/><stop offset="0.631" stop-color="#88d588"/><stop offset="0.712" stop-color="#86d486"/><stop offset="0.721" stop-color="#83d383"/><stop offset="0.784" stop-color="#81d381"/><stop offset="0.793" stop-color="#7ed17e"/><stop offset="0.829" stop-color="#7cd17c"/><stop offset="0.838" stop-color="#79d079"/><stop offset="0.865" stop-color="#77cf77"/><stop offset="0.892" stop-color="#6fcc6f"/><stop offset="0.901" stop-color="#6dcb6d"/><stop offset="0.91" stop-color="#45bc45"/><stop offset="0.919" stop-color="#20ad20"/><stop offset="0.991" stop-color="#12a712"/><stop offset="1" stop-color="#12a712"/></linearGradient>
<linearGradient id="g319" x2="0" y2="1"><stop offset="0" stop-color="#9cdc9c"/><stop offset="0.144" stop-color="#9adc9a"/><stop offset="0.153" stop-color="#98db98"/><stop offset="0.387" stop-color="#95da95"/><stop offset="0.396" stop-color="#93d993"/><stop offset="0.505" stop-color="#90d890"/><stop offset="0.514" stop-color="#8dd78d"/><stop offset="0.613" stop-color="#8bd68b"/><stop offset="0.622" stop-color="#88d588"/><stop offset="0.703" stop-color="#86d486"/><stop offset="0.712" stop-color="#83d383"/><stop offset="0.775" stop-color="#81d381"/><stop offset="0.784" stop-color="#7ed17e"/><stop offset="0.829" stop-color="#7cd17c"/><stop offset="0.838" stop-color="#79cf79"/><stop offset="0.856" stop-color="#77cf77"/><stop offset="0.865" stop-color="#74ce74"/><stop offset="0.883" stop-color="#72cd72"/><stop offset="0.901" stop-color="#6ccb6c"/><stop offset="0.91" stop-color="#45bc45"/><stop offset="0.919" stop-color="#20ad20"/><stop offset="0.991" stop-color="#12a712"/><stop offset="1" stop-color="#12a712"/></linearGradient>
<linearGradient id="g320" x2="0" y2="1"><stop offset="0" stop-color="#9cdc9c"/><stop offset="0.135" stop-color="#9adc9a"/><stop offset="0.144" stop-color="#98db98"/><stop offset="0.378" stop-color="#95da95"/><stop offset="0.387" stop-color="#93d993"/><stop offset="0.495" stop-color="#90d890"/><stop offset="0.505" stop-color="#8dd78d"/><stop offset="0.604" stop-color="#8bd68b"/><stop offset="0.613" stop-color="#88d588"/><stop offset="0.703" stop-color="#86d486"/><stop offset="0.712" stop-color="#83d383"/><stop offset="0.766" stop-color="#81d381"/><stop offset="0.775" stop-color="#7ed17e"/><stop offset="0.829" stop-color="#7cd17c"/><stop offset="0.838" stop-color="#78cf78"/><stop offset="0.856" stop-color="#77cf77"/><stop offset="0.883" stop-color="#6fcc6f"/><stop offset="0.892" stop-color="#6ecb6e"/><stop offset="0.901" stop-color="#69ca69"/><stop offset="0.919" stop-color="#20ad20"/><stop offset="0.991" stop-color="#12a712"/><stop offset="1" stop-color="#12a712"/></linearGradient>
<linearGradient id="g321" x2="0" y2="1"><stop offset="0" stop-color="#9cdc9c"/><stop offset="0.126" stop-color="#9adc9a"/><stop offset="0.135" stop-color="#98db98"/><stop offset="0.369" stop-color="#95da95"/><stop offset="0.378" stop-color="#93d993"/><stop offset="0.486" stop-color="#90d890"/><stop offset="0.495" stop-color="#8ed78e"/><stop offset="0.595" stop-color="#8bd68b"/><stop offset="0.604" stop-color="#88d588"/><stop offset="0.694" stop-color="#86d486"/><stop offset="0.703" stop-color="#83d383"/><stop offset="0.757" stop-color="#81d381"/><stop offset="0.766" stop-color="#7ed27e"/><stop offset="0.82" stop-color="#7cd17c"/><stop offset="0.829" stop-color="#79d079"/><stop offset="0.856" stop-color="#77cf77"/><stop offset="0.883" stop-color="#6ecc6e"/><stop offset="0.892" stop-color="#6dcb6d"/><stop offset="0.901" stop-color="#69c969"/><stop offset="0.91" stop-color="#4b4"/><stop offset="0.919" stop-color="#21ad21"/><stop offset="0.991" stop-color="#12a712"/><stop offset="1" stop-color="#12a712"/></linearGradient>
<linearGradient id="g322" x2="0" y2="1"><stop offset="0" stop-color="#9cdc9c"/><stop offset="0.117" stop-color="#9adc9a"/><stop offset="0.126" stop-color="#98db98"/><stop offset="0.36" stop-color="#95da95"/><stop offset="0.369" stop-color="#93d993"/><stop offset="0.486" stop-color="#90d890"/><stop offset="0.495" stop-color="#8dd78d"/><stop offset="0.595" stop-color="#8bd68b"/><stop offset="0.604" stop-color="#88d588"/><stop offset="0.685" stop-color="#86d486"/><stop offset="0.694" stop-color="#83d383"/><stop offset="0.757" stop-color="#81d381"/><stop offset="0.766" stop-color="#7ed17e"/><stop offset="0.82" stop-color="#7cd17c"/><stop offset="0.829" stop-color="#79cf79"/><stop offset="0.847" stop-color="#77cf77"/><stop offset="0.856" stop-color="#74ce74"/><stop offset="0.874" stop-color="#72cd72"/><stop offset="0.883" stop-color="#6ecb6e"/><stop offset="0.892" stop-color="#6dcb6d"/><stop offset="0.901" stop-color="#68c968"/><stop offset="0.91" stop-color="#43bb43"/><stop offset="0.919" stop-color="#21ad21"/><stop offset="0.991" stop-color="#12a712"/><stop offset="1" stop-color="#12a712"/></linearGradient>
<linearGradient id="g323" x2="0" y2="1"><stop offset="0" stop-color="#9bdc9b"/><stop offset="0.108" stop-color="#9adc9a"/><stop offset="0.117" stop-color="#98db98"/><stop offset="0.342" stop-color="#95da95"/><stop offset="0.351" stop-color="#93d993"/><stop offset="0.477" stop-color="#90d890"/><stop offset="0.486" stop-color="#8dd78d"/><stop offset="0.586" stop-color="#8bd68b"/><stop offset="0.595" stop-color="#88d588"/><stop offset="0.685" stop-color="#86d486"/><stop offset="0.694" stop-color="#83d383"/><stop offset="0.748" stop-color="#81d381"/><stop offset="0.757" stop-color="#7ed17e"/><stop offset="0.811" stop-color="#7cd17c"/><stop offset="0.82" stop-color="#79d079"/><stop offset="0.847" stop-color="#77cf77"/><stop offset="0.901" stop-color="#68c968"/><stop offset="0.91" stop-color="#43bb43"/><stop offset="0.919" stop-color="#21ae21"/><stop offset="0.991" stop-color="#12a712"/><stop offset="1" stop-color="#12a712"/></linearGradient>
<linearGradient id="g324" x2="0" y2="1"><stop offset="0" stop-color="#9bdc9b"/><stop offset="0.099" stop-color="#9adc9a"/><stop offset="0.108" stop-color="#98db98"/><stop offset="0.333" stop-color="#95da95"/><stop offset="0.342" stop-color="#93d993"/><stop offset="0.468" stop-color="#90d890"/><stop offset="0.477" stop-color="#8dd78d"/><stop offset="0.577" stop-color="#8bd68b"/><stop offset="0.586" stop-color="#88d588"/><stop offset="0.676" stop-color="#86d486"/><stop offset="0.685" stop-color="#83d383"/><stop offset="0.739" stop-color="#81d381"/><stop offset="0.748" stop-color="#7ed27e"/><stop offset="0.802" stop-color="#7cd17c"/><stop offset="0.811" stop-color="#79d079"/><stop offset="0.838" stop-color="#77cf77"/><stop offset="0.847" stop-color="#74ce74"/><stop offset="0.865" stop-color="#72cd72"/><stop offset="0.892" stop-color="#69ca69"/><stop offset="0.901" stop-color="#67c967"/><stop offset="0.91" stop-color="#43bb43"/><stop offset="0.919" stop-color="#22ae22"/><stop offset="0.991" stop-color="#12a712"/><stop offset="1" stop-color="#12a712"/></linearGradient>
<linearGradient id="g325" x2="0" y2="1"><stop offset="0" stop-color="#9bdc9b"/><stop offset="0.09" stop-color="#9adc9a"/><stop offset="0.099" stop-color="#98db98"/><stop offset="0.324" stop-color="#95da95"/><stop offset="0.333" stop-color="#93d993"/><stop offset="0.468" stop-color="#90d890"/><stop offset="0.477" stop-color="#8dd78d"/><stop offset="0.568" stop-color="#8bd68b"/><stop offset="0.577" stop-color="#88d588"/><stop offset="0.676" stop-color="#86d486"/><stop offset="0.685" stop-color="#83d383"/><stop offset="0.739" stop-color="#81d381"/><stop offset="0.748" stop-color="#7ed17e"/><stop offset="0.802" stop-color="#7cd17c"/><stop offset="0.811" stop-color="#79cf79"/><stop offset="0.838" stop-color="#77cf77"/><stop offset="0.847" stop-color="#73cd73"/><stop offset="0.865" stop-color="#72cd72"/><stop offset="0.892" stop-color="#69c969"/><stop offset="0.901" stop-color="#64c864"/><stop offset="0.919" stop-color="#22ae22"/><stop offset="0.991" stop-color="#12a712"/><stop offset="1" stop-color="#12a712"/></linearGradient>
<linearGradient id="g326" x2="0" y2="1"><stop offset="0" stop-color="#9bdc9b"/><stop offset="0.09" stop-color="#9adc9a"/><stop offset="0.099" stop-color="#98db98"/><stop offset="0.315" stop-color="#95da95"/><stop offset="0.324" stop-color="#93d993"/><stop offset="0.459" stop-color="#90d890"/><stop offset="0.468" stop-color="#8dd78d"/><stop offset="0.559" stop-color="#8bd68b"/><stop offset="0.568" stop-color="#88d588"/><stop offset="0.667" stop-color="#86d486"/><stop offset="0.676" stop-color="#83d383"/><stop offset="0.73" stop-color="#81d381"/><stop offset="0.739" stop-color="#7ed17e"/><stop offset="0.793" stop-color="#7cd17c"/><stop offset="0.802" stop-color="#79d079"/><stop offset="0.829" stop-color="#77cf77"/><stop offset="0.838" stop-color="#74ce74"/><stop offset="0.856" stop-color="#72cd72"/><stop offset="0.874" stop-color="#6ecb6e"/><stop offset="0.883" stop-color="#6aca6a"/><stop offset="0.892" stop-color="#68c968"/><stop offset="0.901" stop-color="#63c763"/><stop offset="0.919" stop-color="#23ae23"/><stop offset="0.991" stop-color="#12a712"/><stop offset="1" stop-color="#12a712"/></linearGradient>
<linearGradient id="g327" x2="0" y2="1"><stop offset="0" stop-color="#9bdc9b"/><stop offset="0.081" stop-color="#9adc9a"/><stop offset="0.09" stop-color="#98db98"/><stop offset="0.297" stop-color="#95da95"/><stop offset="0.306" stop-color="#93d993"/><stop offset="0.45" stop-color="#90d890"/><stop offset="0.459" stop-color="#8dd78d"/><stop offset="0.559" stop-color="#8bd68b"/><stop offset="0.568" stop-color="#88d588"/><stop offset="0.658" stop-color="#86d486"/><stop offset="0.667" stop-color="#83d383"/><stop offset="0.721" stop-color="#81d381"/><stop offset="0.73" stop-color="#7ed27e"/><stop offset="0.784" stop-color="#7cd17c"/><stop offset="0.793" stop-color="#79d079"/><stop offset="0.829" stop-color="#77cf77"/><stop offset="0.838" stop-color="#74ce74"/><stop offset="0.856" stop-color="#72cd72"/><stop offset="0.874" stop-color="#6dcb6d"/><stop offset="0.883" stop-color="#69ca69"/><stop offset="0.892" stop-color="#68c968"/><stop offset="0.901" stop-color="#63c763"/><stop offset="0.919" stop-color="#23ae23"/><stop offset="0.991" stop-color="#12a712"/><stop offset="1" stop-color="#12a712"/></linearGradient>
<linearGradient id="g328" x2="0" y2="1"><stop offset="0" stop-color="#9bdc9b"/><stop offset="0.072" stop-color="#9adc9a"/><stop offset="0.081" stop-color="#98db98"/><stop offset="0.288" stop-color="#95da95"/><stop offset="0.297" stop-color="#93d993"/><stop offset="0.45" stop-color="#90d890"/><stop offset="0.459" stop-color="#8dd78d"/><stop offset="0.55" stop-color="#8bd68b"/><stop offset="0.559" stop-color="#88d588"/><stop offset="0.649" stop-color="#86d486"/><stop offset="0.658" stop-color="#83d383"/><stop offset="0.721" stop-color="#81d381"/><stop offset="0.73" stop-color="#7ed17e"/><stop offset="0.775" stop-color="#7cd17c"/><stop offset="0.784" stop-color="#79d079"/><stop offset="0.829" stop-color="#77cf77"/><stop offset="0.838" stop-color="#73cd73"/><stop offset="0.856" stop-color="#72cd72"/><stop offset="0.874" stop-color="#6dcb6d"/><stop offset="0.883" stop-color="#69c969"/><stop offset="0.892" stop-color="#67c967"/><stop offset="0.901" stop-color="#62c762"/><stop offset="0.91" stop-color="#41ba41"/><stop offset="0.919" stop-color="#24ae24"/><stop offset="0.991" stop-color="#12a712"/><stop offset="1" stop-color="#12a712"/></linearGradient>
<linearGradient id="g329" x2="0" y2="1"><stop offset="0" stop-color="#9bdc9b"/><stop offset="0.072" stop-color="#9adc9a"/><stop offset="0.081" stop-color="#98db98"/><stop offset="0.279" stop-color="#95da95"/><stop offset="0.288" stop-color="#93d993"/><stop offset="0.441" stop-color="#90d890"/><stop offset="0.45" stop-color="#8dd78d"/><stop offset="0.541" stop-color="#8bd68b"/><stop offset="0.55" stop-color="#88d588"/><stop offset="0.64" stop-color="#86d486"/><stop offset="0.649" stop-color="#83d383"/><stop offset="0.712" stop-color="#81d381"/><stop offset="0.721" stop-color="#7ed17e"/><stop offset="0.775" stop-color="#7cd17c"/><stop offset="0.784" stop-color="#79d079"/><stop offset="0.82" stop-color="#77cf77"/><stop offset="0.829" stop-color="#74ce74"/><stop offset="0.847" stop-color="#72cd72"/><stop offset="0.883" stop-color="#68c968"/><stop offset="0.901" stop-color="#61c761"/><stop offset="0.91" stop-color="#41ba41"/><stop offset="0.919" stop-color="#24af24"/><stop offset="0.991" stop-color="#12a712"/><stop offset="1" stop-color="#12a712"/></linearGradient>
<linearGradient id="g330" x2="0" y2="1"><stop offset="0" stop-color="#9bdc9b"/><stop offset="0.063" stop-color="#9adc9a"/><stop offset="0.072" stop-color="#98db98"/><stop offset="0.27" stop-color="#95da95"/><stop offset="0.279" stop-color="#93d993"/><stop offset="0.432" stop-color="#90d890"/><stop offset="0.441" stop-color="#8dd78d"/><stop offset="0.532" stop-color="#8bd68b"/><stop offset="0.541" stop-color="#88d588"/><stop offset="0.631" stop-color="#86d486"/><stop offset="0.64" stop-color="#83d383"/><stop offset="0.712" stop-color="#81d281"/><stop offset="0.721" stop-color="#7ed17e"/><stop offset="0.766" stop-color="#7cd17c"/><stop offset="0.775" stop-color="#79d079"/><stop offset="0.82" stop-color="#77cf77"/><stop offset="0.829" stop-color="#74ce74"/><stop offset="0.847" stop-color="#72cd72"/><stop offset="0.883" stop-color="#68c968"/><stop offset="0.901" stop-color="#5fc65f"/><stop offset="0.91" stop-color="#41ba41"/><stop offset="0.919" stop-color="#24af24"/><stop offset="0.991" stop-color="#12a712"/><stop offset="1" stop-color="#12a712"/></linearGradient>
<linearGradient id="g331" x2="0" y2="1"><stop offset="0" stop-color="#9bdc9b"/><stop offset="0.054" stop-color="#9adc9a"/><stop offset="0.063" stop-color="#98db98"/><stop offset="0.261" stop-color="#95da95"/><stop offset="0.27" stop-color="#93d993"/><stop offset="0.432" stop-color="#90d890"/><stop offset="0.441" stop-color="#8dd78d"/><stop offset="0.532" stop-color="#8bd68b"/><stop offset="0.541" stop-color="#88d588"/><stop offset="0.631" stop-color="#86d486"/><stop offset="0.64" stop-color="#83d383"/><stop offset="0.703" stop-color="#81d381"/><stop offset="0.712" stop-color="#7ed17e"/><stop offset="0.757" stop-color="#7cd17c"/><stop offset="0.766" stop-color="#79d079"/><stop offset="0.82" stop-color="#77cf77"/><stop offset="0.847" stop-color="#6fcc6f"/><stop offset="0.865" stop-color="#6dcb6d"/><stop offset="0.892" stop-color="#64c764"/><stop offset="0.901" stop-color="#5ec55e"/><stop offset="0.91" stop-color="#40ba40"/><stop offset="0.919" stop-color="#25af25"/><stop offset="0.973" stop-color="#17a917"/><stop offset="0.991" stop-color="#12a712"/><stop offset="1" stop-color="#12a712"/></linearGradient>
<linearGradient id="g332" x2="0" y2="1"><stop offset="0" stop-color="#9bdc9b"/><stop offset="0.054" stop-color="#9adc9a"/><stop offset="0.063" stop-color="#98db98"/><stop offset="0.252" stop-color="#95da95"/><stop offset="0.261" stop-color="#93d993"/><stop offset="0.423" stop-color="#90d890"/><stop offset="0.432" stop-color="#8dd78d"/><stop offset="0.523" stop-color="#8bd68b"/><stop offset="0.532" stop-color="#88d588"/><stop offset="0.622" stop-color="#86d486"/><stop offset="0.631" stop-color="#83d383"/><stop offset="0.694" stop-color="#81d381"/><stop offset="0.703" stop-color="#7ed27e"/><stop offset="0.757" stop-color="#7cd17c"/><stop offset="0.766" stop-color="#79d079"/><stop offset="0.811" stop-color="#77cf77"/><stop offset="0.829" stop-color="#73cd73"/><stop offset="0.856" stop-color="#6ecb6e"/><stop offset="0.865" stop-color="#6dcb6d"/><stop offset="0.883" stop-color="#65c865"/><stop offset="0.892" stop-color="#63c763"/><stop offset="0.901" stop-color="#5dc55d"/><stop offset="0.91" stop-color="#40ba40"/><stop offset="0.919" stop-color="#25af25"/><stop offset="0.955" stop-color="#1bab1b"/><stop offset="0.991" stop-color="#12a712"/><stop offset="1" stop-color="#12a712"/></linearGradient>
<linearGradient id="g333" x2="0" y2="1"><stop offset="0" stop-color="#9bdc9b"/><stop offset="0.045" stop-color="#9adc9a"/><stop offset="0.054" stop-color="#98db98"/><stop offset="0.243" stop-color="#95da95"/><stop offset="0.252" stop-color="#93d993"/><stop offset="0.423" stop-color="#90d890"/><stop offset="0.432" stop-color="#8dd78d"/><stop offset="0.514" stop-color="#8bd68b"/><stop offset="0.523" stop-color="#88d588"/><stop offset="0.613" stop-color="#86d486"/><stop offset="0.622" stop-color="#83d383"/><stop offset="0.694" stop-color="#81d381"/><stop offset="0.703" stop-color="#7ed17e"/><stop offset="0.748" stop-color="#7cd17c"/><stop offset="0.757" stop-color="#79d079"/><stop offset="0.802" stop-color="#77cf77"/><stop offset="0.811" stop-color="#74ce74"/><stop offset="0.838" stop-color="#72cd72"/><stop offset="0.892" stop-color="#63c763"/><stop offset="0.901" stop-color="#5cc45c"/><stop offset="0.91" stop-color="#40ba40"/><stop offset="0.919" stop-color="#26af26"/><stop offset="0.946" stop-color="#1dac1d"/><stop offset="0.991" stop-color="#12a812"/><stop offset="1" stop-color="#12a812"/></linearGradient>
<linearGradient id="g334" x2="0" y2="1"><stop offset="0" stop-color="#9bdc9b"/><stop offset="0.045" stop-color="#9adc9a"/><stop offset="0.054" stop-color="#98db98"/><stop offset="0.234" stop-color="#95da95"/><stop offset="0.243" stop-color="#93d993"/><stop offset="0.414" stop-color="#90d890"/><stop offset="0.423" stop-color="#8dd78d"/><stop offset="0.514" stop-color="#8bd68b"/><stop offset="0.523" stop-color="#88d588"/><stop offset="0.604" stop-color="#86d486"/><stop offset="0.613" stop-color="#83d383"/><stop offset="0.685" stop-color="#81d381"/><stop offset="0.694" stop-color="#7ed27e"/><stop offset="0.748" stop-color="#7cd17c"/><stop offset="0.757" stop-color="#79cf79"/><stop offset="0.802" stop-color="#77cf77"/><stop offset="0.811" stop-color="#74ce74"/><stop offset="0.829" stop-color="#72cd72"/><stop offset="0.838" stop-color="#6fcc6f"/><stop offset="0.856" stop-color="#6dcb6d"/><stop offset="0.892" stop-color="#61c661"/><stop offset="0.901" stop-color="#5bc45b"/><stop offset="0.91" stop-color="#3fb93f"/><stop offset="0.919" stop-color="#26af26"/><stop offset="0.937" stop-color="#20ad20"/><stop offset="0.991" stop-color="#12a812"/><stop offset="1" stop-color="#12a812"/></linearGradient>
<linearGradient id="g335" x2="0" y2="1"><stop offset="0" stop-color="#9bdc9b"/><stop offset="0.036" stop-color="#9adc9a"/><stop offset="0.045" stop-color="#98db98"/><stop offset="0.225" stop-color="#95da95"/><stop offset="0.234" stop-color="#93d993"/><stop offset="0.405" stop-color="#90d890"/><stop offset="0.414" stop-color="#8ed78e"/><stop offset="0.505" stop-color="#8bd68b"/><stop offset="0.514" stop-color="#88d588"/><stop offset="0.595" stop-color="#86d486"/><stop offset="0.604" stop-color="#83d383"/><stop offset="0.685" stop-color="#81d381"/><stop offset="0.694" stop-color="#7ed17e"/><stop offset="0.739" stop-color="#7cd17c"/><stop offset="0.748" stop-color="#79d079"/><stop offset="0.793" stop-color="#77cf77"/><stop offset="0.802" stop-color="#74ce74"/><stop offset="0.829" stop-color="#72cd72"/><stop offset="0.838" stop-color="#6fcc6f"/><stop offset="0.856" stop-color="#6dcb6d"/><stop offset="0.874" stop-color="#67c967"/><stop offset="0.892" stop-color="#60c660"/><stop offset="0.901" stop-color="#5ac45a"/><stop offset="0.91" stop-color="#3fb93f"/><stop offset="0.919" stop-color="#26b026"/><stop offset="0.937" stop-color="#20ad20"/><stop offset="0.991" stop-color="#12a812"/><stop offset="1" stop-color="#12a812"/></linearGradient>
<linearGradient id="g336" x2="0" y2="1"><stop offset="0" stop-color="#9bdc9b"/><stop offset="0.027" stop-color="#9adc9a"/><stop offset="0.036" stop-color="#98db98"/><stop offset="0.216" stop-color="#95da95"/><stop offset="0.225" stop-color="#93d993"/><stop offset="0.405" stop-color="#90d890"/><stop offset="0.414" stop-color="#8dd78d"/><stop offset="0.495" stop-color="#8bd68b"/><stop offset="0.505" stop-color="#88d588"/><stop offset="0.595" stop-color="#86d486"/><stop offset="0.604" stop-color="#83d383"/><stop offset="0.676" stop-color="#81d381"/><stop offset="0.685" stop-color="#7ed27e"/><stop offset="0.73" stop-color="#7cd17c"/><stop offset="0.739" stop-color="#79d079"/><stop offset="0.784" stop-color="#77cf77"/><stop offset="0.793" stop-color="#74ce74"/><stop offset="0.829" stop-color="#72cd72"/><stop offset="0.856" stop-color="#6aca6a"/><stop offset="0.865" stop-color="#69c969"/><stop offset="0.892" stop-color="#5fc65f"/><stop offset="0.901" stop-color="#58c358"/><stop offset="0.91" stop-color="#3eb93e"/><stop offset="0.919" stop-color="#27b027"/><stop offset="0.937" stop-color="#20ad20"/><stop offset="0.991" stop-color="#12a812"/><stop offset="1" stop-color="#12a812"/></linearGradient>
<linearGradient id="g337" x2="0" y2="1"><stop offset="0" stop-color="#9bdc9b"/><stop offset="0.027" stop-color="#9adc9a"/><stop offset="0.036" stop-color="#98db98"/><stop offset="0.216" stop-color="#95da95"/><stop offset="0.225" stop-color="#93d993"/><stop offset="0.396" stop-color="#90d890"/><stop offset="0.405" stop-color="#8dd78d"/><stop offset="0.495" stop-color="#8bd68b"/><stop offset="0.505" stop-color="#88d588"/><stop offset="0.586" stop-color="#86d486"/><stop offset="0.595" stop-color="#83d383"/><stop offset="0.676" stop-color="#81d381"/><stop offset="0.685" stop-color="#7ed17e"/><stop offset="0.73" stop-color="#7cd17c"/><stop offset="0.739" stop-color="#79d079"/><stop offset="0.784" stop-color="#77cf77"/><stop offset="0.793" stop-color="#74ce74"/><stop offset="0.82" stop-color="#72cd72"/><stop offset="0.829" stop-color="#6fcc6f"/><stop offset="0.847" stop-color="#6dcb6d"/><stop offset="0.883" stop-color="#62c762"/><stop offset="0.892" stop-color="#5ec55e"/><stop offset="0.901" stop-color="#57c357"/><stop offset="0.91" stop-color="#3eb93e"/><stop offset="0.919" stop-color="#27b027"/><stop offset="0.937" stop-color="#21ad21"/><stop offset="0.991" stop-color="#13a813"/><stop offset="1" stop-color="#13a813"/></linearGradient>
<linearGradient id="g338" x2="0" y2="1"><stop offset="0" stop-color="#9bdc9b"/><stop offset="0.018" stop-color="#9adc9a"/><stop offset="0.027" stop-color="#98db98"/><stop offset="0.207" stop-color="#95da95"/><stop offset="0.216" stop-color="#93d993"/><stop offset="0.387" stop-color="#90d890"/><stop offset="0.396" stop-color="#8dd78d"/><stop offset="0.486" stop-color="#8bd68b"/><stop offset="0.495" stop-color="#88d588"/><stop offset="0.577" stop-color="#86d486"/><stop offset="0.586" stop-color="#83d383"/><stop offset="0.667" stop-color="#81d381"/><stop offset="0.676" stop-color="#7ed27e"/><stop offset="0.721" stop-color="#7cd17c"/><stop offset="0.73" stop-color="#79d079"/><stop offset="0.775" stop-color="#77cf77"/><stop offset="0.784" stop-color="#74ce74"/><stop offset="0.82" stop-color="#72cd72"/><stop offset="0.829" stop-color="#6fcc6f"/><stop offset="0.847" stop-color="#6dcb6d"/><stop offset="0.856" stop-color="#69ca69"/><stop offset="0.865" stop-color="#68c968"/><stop offset="0.892" stop-color="#5dc55d"/><stop offset="0.901" stop-color="#56c256"/><stop offset="0.91" stop-color="#3eb93e"/><stop offset="0.919" stop-color="#28b028"/><stop offset="0.937" stop-color="#21ad21"/><stop offset="0.991" stop-color="#13a813"/><stop offset="1" stop-color="#13a813"/></linearGradient>
<linearGradient id="g339" x2="0" y2="1"><stop offset="0" stop-color="#9bdc9b"/><stop offset="0.018" stop-color="#9adc9a"/><stop offset="0.027" stop-color="#98db98"/><stop offset="0.198" stop-color="#95da95"/><stop offset="0.207" stop-color="#93d993"/><stop offset="0.378" stop-color="#90d890"/><stop offset="0.387" stop-color="#8dd78d"/><stop offset="0.477" stop-color="#8bd68b"/><stop offset="0.486" stop-color="#88d588"/><stop offset="0.568" stop-color="#86d486"/><stop offset="0.577" stop-color="#83d383"/><stop offset="0.667" stop-color="#81d281"/><stop offset="0.676" stop-color="#7ed17e"/><stop offset="0.721" stop-color="#7cd17c"/><stop offset="0.73" stop-color="#79d079"/><stop offset="0.775" stop-color="#77cf77"/><stop offset="0.784" stop-color="#74ce74"/><stop offset="0.82" stop-color="#72cd72"/><stop offset="0.847" stop-color="#6aca6a"/><stop offset="0.865" stop-color="#68c968"/><stop offset="0.892" stop-color="#5cc55c"/><stop offset="0.901" stop-color="#55c255"/><stop offset="0.91" stop-color="#3db93d"/><stop offset="0.919" stop-color="#28b028"/><stop offset="0.928" stop-color="#23ae23"/><stop offset="0.991" stop-color="#13a813"/><stop offset="1" stop-color="#13a813"/></linearGradient>
<linearGradient id="g340" x2="0" y2="1"><stop offset="0" stop-color="#9bdc9b"/><stop offset="0.027" stop-color="#98db98"/><stop offset="0.189" stop-color="#95da95"/><stop offset="0.198" stop-color="#93d993"/><stop offset="0.369" stop-color="#90d890"/><stop offset="0.378" stop-color="#8dd78d"/><stop offset="0.477" stop-color="#8bd68b"/><stop offset="0.486" stop-color="#88d588"/><stop offset="0.568" stop-color="#86d486"/><stop offset="0.577" stop-color="#83d383"/><stop offset="0.658" stop-color="#81d381"/><stop offset="0.667" stop-color="#7ed17e"/><stop offset="0.712" stop-color="#7cd17c"/><stop offset="0.721" stop-color="#79d079"/><stop offset="0.766" stop-color="#77cf77"/><stop offset="0.775" stop-color="#74ce74"/><stop offset="0.82" stop-color="#72cd72"/><stop offset="0.847" stop-color="#69ca69"/><stop offset="0.856" stop-color="#68c968"/><stop offset="0.883" stop-color="#5fc65f"/><stop offset="0.892" stop-color="#5bc45b"/><stop offset="0.901" stop-color="#54c254"/><stop offset="0.91" stop-color="#3db83d"/><stop offset="0.919" stop-color="#28b028"/><stop offset="0.928" stop-color="#24ae24"/><stop offset="0.991" stop-color="#13a813"/><stop offset="1" stop-color="#13a813"/></linearGradient>
<linearGradient id="g341" x2="0" y2="1"><stop offset="0" stop-color="#9adc9a"/><stop offset="0.027" stop-color="#98db98"/><stop offset="0.18" stop-color="#95da95"/><stop offset="0.189" stop-color="#93d993"/><stop offset="0.36" stop-color="#90d890"/><stop offset="0.369" stop-color="#8dd78d"/><stop offset="0.468" stop-color="#8bd68b"/><stop offset="0.477" stop-color="#88d588"/><stop offset="0.559" stop-color="#86d486"/><stop offset="0.568" stop-color="#83d383"/><stop offset="0.649" stop-color="#81d381"/><stop offset="0.658" stop-color="#7ed17e"/><stop offset="0.712" stop-color="#7cd17c"/><stop offset="0.721" stop-color="#79cf79"/><stop offset="0.757" stop-color="#77cf77"/><stop offset="0.766" stop-color="#74ce74"/><stop offset="0.811" stop-color="#72cd72"/><stop offset="0.829" stop-color="#6ecb6e"/><stop offset="0.856" stop-color="#68c968"/><stop offset="0.874" stop-color="#63c763"/><stop offset="0.892" stop-color="#5bc45b"/><stop offset="0.901" stop-color="#53c153"/><stop offset="0.91" stop-color="#3cb83c"/><stop offset="0.919" stop-color="#29b029"/><stop offset="0.928" stop-color="#24af24"/><stop offset="0.991" stop-color="#13a813"/><stop offset="1" stop-color="#13a813"/></linearGradient>
<linearGradient id="g342" x2="0" y2="1"><stop offset="0" stop-color="#9adc9a"/><stop offset="0.027" stop-color="#97db97"/><stop offset="0.18" stop-color="#95da95"/><stop offset="0.189" stop-color="#93d993"/><stop offset="0.351" stop-color="#90d890"/><stop offset="0.36" stop-color="#8dd78d"/><stop offset="0.468" stop-color="#8bd68b"/><stop offset="0.477" stop-color="#88d588"/><stop offset="0.55" stop-color="#86d486"/><stop offset="0.559" stop-color="#83d383"/><stop offset="0.64" stop-color="#81d381"/><stop offset="0.649" stop-color="#7ed27e"/><stop offset="0.703" stop-color="#7cd17c"/><stop offset="0.712" stop-color="#79d079"/><stop offset="0.757" stop-color="#77cf77"/><stop offset="0.766" stop-color="#74ce74"/><stop offset="0.802" stop-color="#72cd72"/><stop offset="0.811" stop-color="#6fcc6f"/><stop offset="0.829" stop-color="#6dcb6d"/><stop offset="0.838" stop-color="#6aca6a"/><stop offset="0.856" stop-color="#68c968"/><stop offset="0.892" stop-color="#5ac45a"/><stop offset="0.901" stop-color="#52c152"/><stop offset="0.91" stop-color="#3cb83c"/><stop offset="0.919" stop-color="#29b129"/><stop offset="0.928" stop-color="#24af24"/><stop offset="0.991" stop-color="#13a813"/><stop offset="1" stop-color="#13a813"/></linearGradient>
<linearGradient id="g343" x2="0" y2="1"><stop offset="0" stop-color="#9adc9a"/><stop offset="0.009" stop-color="#98db98"/><stop offset="0.171" stop-color="#95da95"/><stop offset="0.18" stop-color="#93d993"/><stop offset="0.342" stop-color="#90d890"/><stop offset="0.351" stop-color="#8dd78d"/><stop offset="0.459" stop-color="#8bd68b"/><stop offset="0.468" stop-color="#88d588"/><stop offset="0.55" stop-color="#86d486"/><stop offset="0.559" stop-color="#83d383"/><stop offset="0.64" stop-color="#81d281"/><stop offset="0.649" stop-color="#7ed17e"/><stop offset="0.703" stop-color="#7cd17c"/><stop offset="0.712" stop-color="#79cf79"/><stop offset="0.748" stop-color="#77cf77"/><stop offset="0.757" stop-color="#74ce74"/><stop offset="0.802" stop-color="#72cd72"/><stop offset="0.811" stop-color="#6fcc6f"/><stop offset="0.829" stop-color="#6dcb6d"/><stop offset="0.856" stop-color="#65c865"/><stop offset="0.865" stop-color="#64c764"/><stop offset="0.892" stop-color="#59c359"/><stop offset="0.901" stop-color="#51c051"/><stop offset="0.91" stop-color="#3cb83c"/><stop offset="0.919" stop-color="#29b129"/><stop offset="0.928" stop-color="#24af24"/><stop offset="0.991" stop-color="#13a813"/><stop offset="1" stop-color="#13a813"/></linearGradient>
<linearGradient id="g344" x2="0" y2="1"><stop offset="0" stop-color="#9adc9a"/><stop offset="0.009" stop-color="#98db98"/><stop offset="0.162" stop-color="#95da95"/><stop offset="0.171" stop-color="#93d993"/><stop offset="0.333" stop-color="#90d890"/><stop offset="0.342" stop-color="#8dd78d"/><stop offset="0.45" stop-color="#8bd68b"/><stop offset="0.459" stop-color="#88d588"/><stop offset="0.541" stop-color="#86d486"/><stop offset="0.55" stop-color="#83d383"/><stop offset="0.631" stop-color="#81d381"/><stop offset="0.64" stop-color="#7ed17e"/><stop offset="0.694" stop-color="#7cd17c"/><stop offset="0.703" stop-color="#79d079"/><stop offset="0.748" stop-color="#77cf77"/><stop offset="0.757" stop-color="#74ce74"/><stop offset="0.793" stop-color="#72cd72"/><stop offset="0.802" stop-color="#6fcc6f"/><stop offset="0.829" stop-color="#6dcb6d"/><stop offset="0.856" stop-color="#64c864"/><stop offset="0.865" stop-color="#63c763"/><stop offset="0.892" stop-color="#58c358"/><stop offset="0.901" stop-color="#50c050"/><stop offset="0.91" stop-color="#3bb83b"/><stop offset="0.919" stop-color="#2ab12a"/><stop offset="0.928" stop-color="#25af25"/><stop offset="0.991" stop-color="#13a813"/><stop offset="1" stop-color="#13a813"/></linearGradient>
<linearGradient id="g345" x2="0" y2="1"><stop offset="0" stop-color="#98db98"/><stop offset="0.162" stop-color="#95da95"/><stop offset="0.171" stop-color="#93d993"/><stop offset="0.324" stop-color="#90d890"/><stop offset="0.333" stop-color="#8dd78d"/><stop offset="0.45" stop-color="#8bd68b"/><stop offset="0.459" stop-color="#88d588"/><stop offset="0.532" stop-color="#86d486"/><stop offset="0.541" stop-color="#83d383"/><stop offset="0.622" stop-color="#81d381"/><stop offset="0.631" stop-color="#7ed17e"/><stop offset="0.694" stop-color="#7cd17c"/><stop offset="0.703" stop-color="#79d079"/><stop offset="0.739" stop-color="#77cf77"/><stop offset="0.748" stop-color="#74ce74"/><stop offset="0.793" stop-color="#72cd72"/><stop offset="0.802" stop-color="#6fcc6f"/><stop offset="0.829" stop-color="#6ccb6c"/><stop offset="0.856" stop-color="#64c864"/><stop offset="0.865" stop-color="#63c763"/><stop offset="0.892" stop-color="#57c357"/><stop offset="0.901" stop-color="#4fbf4f"/><stop offset="0.91" stop-color="#3bb83b"/><stop offset="0.919" stop-color="#2ab12a"/><stop offset="0.928" stop-color="#25af25"/><stop offset="0.991" stop-color="#13a813"/><stop offset="1" stop-color="#13a813"/></linearGradient>
<linearGradient id="g346" x2="0" y2="1"><stop offset="0" stop-color="#98db98"/><stop offset="0.153" stop-color="#95da95"/><stop offset="0.162" stop-color="#93d993"/><stop offset="0.315" stop-color="#90d890"/><stop offset="0.324" stop-color="#8dd78d"/><stop offset="0.441" stop-color="#8bd68b"/><stop offset="0.45" stop-color="#88d588"/><stop offset="0.532" stop-color="#86d486"/><stop offset="0.541" stop-color="#83d383"/><stop offset="0.613" stop-color="#81d381"/><stop offset="0.622" stop-color="#7ed27e"/><stop offset="0.685" stop-color="#7cd17c"/><stop offset="0.694" stop-color="#79d079"/><stop offset="0.739" stop-color="#77cf77"/><stop offset="0.748" stop-color="#74ce74"/><stop offset="0.784" stop-color="#72cd72"/><stop offset="0.793" stop-color="#6fcc6f"/><stop offset="0.82" stop-color="#6dcb6d"/><stop offset="0.829" stop-color="#6aca6a"/><stop offset="0.847" stop-color="#67c967"/><stop offset="0.856" stop-color="#64c764"/><stop offset="0.865" stop-color="#62c762"/><stop offset="0.892" stop-color="#56c256"/><stop offset="0.901" stop-color="#4ebf4e"/><stop offset="0.91" stop-color="#3ab83a"/><stop offset="0.919" stop-color="#2ab12a"/><stop offset="0.928" stop-color="#25af25"/><stop offset="0.991" stop-color="#13a813"/><stop offset="1" stop-color="#13a813"/></linearGradient>
<linearGradient id="g347" x2="0" y2="1"><stop offset="0" stop-color="#98db98"/><stop offset="0.144" stop-color="#95da95"/><stop offset="0.153" stop-color="#93d993"/><stop offset="0.306" stop-color="#90d890"/><stop offset="0.315" stop-color="#8dd78d"/><stop offset="0.441" stop-color="#8bd68b"/><stop offset="0.45" stop-color="#88d588"/><stop offset="0.523" stop-color="#86d486"/><stop offset="0.532" stop-color="#83d383"/><stop offset="0.613" stop-color="#81d281"/><stop offset="0.622" stop-color="#7ed17e"/><stop offset="0.685" stop-color="#7cd17c"/><stop offset="0.694" stop-color="#79d079"/><stop offset="0.73" stop-color="#77cf77"/><stop offset="0.739" stop-color="#74ce74"/><stop offset="0.784" stop-color="#71cd71"/><stop offset="0.793" stop-color="#6ecc6e"/><stop offset="0.82" stop-color="#6dcb6d"/><stop offset="0.847" stop-color="#64c864"/><stop offset="0.865" stop-color="#61c661"/><stop offset="0.892" stop-color="#55c255"/><stop offset="0.901" stop-color="#4dbf4d"/><stop offset="0.91" stop-color="#3ab73a"/><stop offset="0.919" stop-color="#2ab12a"/><stop offset="0.928" stop-color="#25af25"/><stop offset="0.991" stop-color="#13a813"/><stop offset="1" stop-color="#13a813"/></linearGradient>
<linearGradient id="g348" x2="0" y2="1"><stop offset="0" stop-color="#98db98"/><stop offset="0.144" stop-color="#95da95"/><stop offset="0.153" stop-color="#93d993"/><stop offset="0.297" stop-color="#90d890"/><stop offset="0.306" stop-color="#8ed78e"/><stop offset="0.432" stop-color="#8bd68b"/><stop offset="0.441" stop-color="#88d588"/><stop offset="0.523" stop-color="#86d486"/><stop offset="0.532" stop-color="#83d383"/><stop offset="0.604" stop-color="#81d381"/><stop offset="0.613" stop-color="#7ed17e"/><stop offset="0.685" stop-color="#7cd17c"/><stop offset="0.694" stop-color="#79cf79"/><stop offset="0.73" stop-color="#77cf77"/><stop offset="0.739" stop-color="#74ce74"/><stop offset="0.775" stop-color="#72cd72"/><stop offset="0.784" stop-color="#6fcc6f"/><stop offset="0.82" stop-color="#6dcb6d"/><stop offset="0.847" stop-color="#64c864"/><stop offset="0.865" stop-color="#60c660"/><stop offset="0.892" stop-color="#54c254"/><stop offset="0.901" stop-color="#4cbe4c"/><stop offset="0.91" stop-color="#3ab73a"/><stop offset="0.919" stop-color="#2bb12b"/><stop offset="0.928" stop-color="#26af26"/><stop offset="0.991" stop-color="#13a813"/><stop offset="1" stop-color="#13a813"/></linearGradient>
<linearGradient id="g349" x2="0" y2="1"><stop offset="0" stop-color="#97db97"/><stop offset="0.135" stop-color="#95da95"/><stop offset="0.144" stop-color="#93d993"/><stop offset="0.297" stop-color="#90d890"/><stop offset="0.306" stop-color="#8dd78d"/><stop offset="0.432" stop-color="#8bd68b"/><stop offset="0.441" stop-color="#88d588"/><stop offset="0.514" stop-color="#86d486"/><stop offset="0.523" stop-color="#83d383"/><stop offset="0.595" stop-color="#81d381"/><stop offset="0.604" stop-color="#7ed27e"/><stop offset="0.676" stop-color="#7cd17c"/><stop offset="0.685" stop-color="#79d079"/><stop offset="0.721" stop-color="#77cf77"/><stop offset="0.73" stop-color="#74ce74"/><stop offset="0.766" stop-color="#72cd72"/><stop offset="0.775" stop-color="#6fcc6f"/><stop offset="0.82" stop-color="#6ccb6c"/><stop offset="0.847" stop-color="#64c864"/><stop offset="0.856" stop-color="#63c763"/><stop offset="0.892" stop-color="#53c153"/><stop offset="0.901" stop-color="#4bbe4b"/><stop offset="0.91" stop-color="#39b739"/><stop offset="0.919" stop-color="#2bb12b"/><stop offset="0.928" stop-color="#26af26"/><stop offset="0.991" stop-color="#13a813"/><stop offset="1" stop-color="#13a813"/></linearGradient>
<linearGradient id="g350" x2="0" y2="1"><stop offset="0" stop-color="#97db97"/><stop offset="0.135" stop-color="#95da95"/><stop offset="0.144" stop-color="#92d992"/><stop offset="0.288" stop-color="#90d890"/><stop offset="0.297" stop-color="#8dd78d"/><stop offset="0.423" stop-color="#8bd68b"/><stop offset="0.432" stop-color="#88d588"/><stop offset="0.505" stop-color="#86d486"/><stop offset="0.514" stop-color="#83d383"/><stop offset="0.595" stop-color="#81d281"/><stop offset="0.604" stop-color="#7ed17e"/><stop offset="0.676" stop-color="#7cd17c"/><stop offset="0.685" stop-color="#79cf79"/><stop offset="0.721" stop-color="#77cf77"/><stop offset="0.73" stop-color="#74ce74"/><stop offset="0.766" stop-color="#72cd72"/><stop offset="0.775" stop-color="#6fcc6f"/><stop offset="0.811" stop-color="#6dcb6d"/><stop offset="0.829" stop-color="#68c968"/><stop offset="0.838" stop-color="#65c865"/><stop offset="0.856" stop-color="#62c762"/><stop offset="0.892" stop-color="#52c152"/><stop offset="0.901" stop-color="#4abd4a"/><stop offset="0.91" stop-color="#39b739"/><stop offset="0.919" stop-color="#2bb22b"/><stop offset="0.928" stop-color="#26af26"/><stop offset="0.991" stop-color="#13a813"/><stop offset="1" stop-color="#13a813"/></linearGradient>
<linearGradient id="g351" x2="0" y2="1"><stop offset="0" stop-color="#97db97"/><stop offset="0.126" stop-color="#95da95"/><stop offset="0.135" stop-color="#93d993"/><stop offset="0.279" stop-color="#90d890"/><stop offset="0.288" stop-color="#8dd78d"/><stop offset="0.423" stop-color="#8bd68b"/><stop offset="0.432" stop-color="#88d588"/><stop offset="0.505" stop-color="#86d486"/><stop offset="0.514" stop-color="#83d383"/><stop offset="0.586" stop-color="#81d381"/><stop offset="0.595" stop-color="#7ed17e"/><stop offset="0.667" stop-color="#7cd17c"/><stop offset="0.676" stop-color="#79d079"/><stop offset="0.712" stop-color="#77cf77"/><stop offset="0.721" stop-color="#74ce74"/><stop offset="0.757" stop-color="#72cd72"/><stop offset="0.766" stop-color="#6fcc6f"/><stop offset="0.802" stop-color="#6dcb6d"/><stop offset="0.811" stop-color="#6aca6a"/><stop offset="0.829" stop-color="#68c968"/><stop offset="0.838" stop-color="#64c864"/><stop offset="0.865" stop-color="#5ec55e"/><stop offset="0.892" stop-color="#51c151"/><stop offset="0.901" stop-color="#49bd49"/><stop offset="0.91" stop-color="#39b739"/><stop offset="0.919" stop-color="#2bb22b"/><stop offset="0.928" stop-color="#26b026"/><stop offset="0.991" stop-color="#13a813"/><stop offset="1" stop-color="#13a813"/></linearGradient>
<linearGradient id="g352" x2="0" y2="1"><stop offset="0" stop-color="#97db97"/><stop offset="0.126" stop-color="#95da95"/><stop offset="0.135" stop-color="#92d992"/><stop offset="0.27" stop-color="#90d890"/><stop offset="0.279" stop-color="#8dd78d"/><stop offset="0.414" stop-color="#8bd68b"/><stop offset="0.423" stop-color="#88d588"/><stop offset="0.495" stop-color="#86d486"/><stop offset="0.505" stop-color="#83d383"/><stop offset="0.577" stop-color="#81d381"/><stop offset="0.586" stop-color="#7ed27e"/><stop offset="0.658" stop-color="#7cd17c"/><stop offset="0.667" stop-color="#79d079"/><stop offset="0.712" stop-color="#77cf77"/><stop offset="0.721" stop-color="#74ce74"/><stop offset="0.757" stop-color="#72cd72"/><stop offset="0.766" stop-color="#6fcc6f"/><stop offset="0.802" stop-color="#6dcb6d"/><stop offset="0.811" stop-color="#6aca6a"/><stop offset="0.829" stop-color="#68c968"/><stop offset="0.838" stop-color="#64c864"/><stop offset="0.856" stop-color="#5fc65f"/><stop offset="0.874" stop-color="#59c359"/><stop offset="0.892" stop-color="#51c051"/><stop offset="0.901" stop-color="#48bd48"/><stop offset="0.91" stop-color="#38b738"/><stop offset="0.919" stop-color="#2cb22c"/><stop offset="0.928" stop-color="#27b027"/><stop offset="0.991" stop-color="#13a813"/><stop offset="1" stop-color="#13a813"/></linearGradient>
<linearGradient id="g353" x2="0" y2="1"><stop offset="0" stop-color="#97db97"/><stop offset="0.117" stop-color="#95da95"/><stop offset="0.126" stop-color="#93d993"/><stop offset="0.27" stop-color="#90d890"/><stop offset="0.279" stop-color="#8dd78d"/><stop offset="0.414" stop-color="#8bd68b"/><stop offset="0.423" stop-color="#88d588"/><stop offset="0.495" stop-color="#86d486"/><stop offset="0.505" stop-color="#83d383"/><stop offset="0.577" stop-color="#81d281"/><stop offset="0.586" stop-color="#7ed17e"/><stop offset="0.658" stop-color="#7cd17c"/><stop offset="0.667" stop-color="#79d079"/><stop offset="0.703" stop-color="#77cf77"/><stop offset="0.712" stop-color="#74ce74"/><stop offset="0.748" stop-color="#72cd72"/><stop offset="0.757" stop-color="#6fcc6f"/><stop offset="0.793" stop-color="#6dcb6d"/><stop offset="0.802" stop-color="#6aca6a"/><stop offset="0.829" stop-color="#67c967"/><stop offset="0.865" stop-color="#5cc55c"/><stop offset="0.892" stop-color="#50c050"/><stop offset="0.901" stop-color="#47bc47"/><stop offset="0.91" stop-color="#38b638"/><stop offset="0.919" stop-color="#2cb22c"/><stop offset="0.928" stop-color="#27b027"/><stop offset="0.991" stop-color="#13a813"/><stop offset="1" stop-color="#13a813"/></linearGradient>
<linearGradient id="g354" x2="0" y2="1"><stop offset="0" stop-color="#97db97"/><stop offset="0.117" stop-color="#95da95"/><stop offset="0.126" stop-color="#92d992"/><stop offset="0.261" stop-color="#90d890"/><stop offset="0.27" stop-color="#8dd78d"/><stop offset="0.414" stop-color="#8bd68b"/><stop offset="0.423" stop-color="#88d588"/><stop offset="0.486" stop-color="#86d486"/><stop offset="0.495" stop-color="#83d383"/><stop offset="0.568" stop-color="#81d381"/><stop offset="0.577" stop-color="#7ed27e"/><stop offset="0.649" stop-color="#7cd17c"/><stop offset="0.658" stop-color="#79d079"/><stop offset="0.703" stop-color="#77cf77"/><stop offset="0.712" stop-color="#74ce74"/><stop offset="0.748" stop-color="#72cd72"/><stop offset="0.757" stop-color="#6fcc6f"/><stop offset="0.793" stop-color="#6dcb6d"/><stop offset="0.802" stop-color="#6aca6a"/><stop offset="0.829" stop-color="#67c967"/><stop offset="0.865" stop-color="#5cc55c"/><stop offset="0.892" stop-color="#4fc04f"/><stop offset="0.901" stop-color="#46bc46"/><stop offset="0.91" stop-color="#37b637"/><stop offset="0.919" stop-color="#2cb22c"/><stop offset="0.928" stop-color="#27b027"/><stop offset="0.991" stop-color="#13a813"/><stop offset="1" stop-color="#13a813"/></linearGradient>
<linearGradient id="cb" x2="0" y2="1"><stop offset="0" stop-color="#00a000"/><stop offset="0.25" stop-color="#38b738"/><stop offset="0.47" stop-color="#6ecb6e"/><stop offset="0.73" stop-color="#b1e4b1"/><stop offset="0.985" stop-color="#fff"/></linearGradient></defs>
<g><rect x="31.20" y="20.20" width="280.50" height="111.00" fill="url(#g0)"/>
<g clip-path="url(#ca)"><rect x="31.20" y="20.20" width="116.00" height="111.00" fill="url(#g1)"/><rect x="35.20" y="20.20" width="112.00" height="111.00" fill="url(#g2)"/><rect x="39.20" y="20.20" width="108.00" height="111.00" fill="url(#g3)"/><rect x="43.20" y="20.20" width="104.00" height="111.00" fill="url(#g4)"/><rect x="47.20" y="20.20" width="100.00" height="111.00" fill="url(#g5)"/><rect x="51.20" y="20.20" width="96.00" height="111.00" fill="url(#g6)"/><rect x="55.20" y="20.20" width="92.00" height="111.00" fill="url(#g7)"/><rect x="59.20" y="20.20" width="88.00" height="111.00" fill="url(#g8)"/><rect x="63.20" y="20.20" width="84.00" height="111.00" fill="url(#g9)"/><rect x="67.20" y="20.20" width="80.00" height="111.00" fill="url(#g10)"/><rect x="71.20" y="20.20" width="76.00" height="111.00" fill="url(#g11)"/><rect x="75.20" y="20.20" width="72.00" height="111.00" fill="url(#g12)"/><rect x="79.20" y="20.20" width="68.00" height="111.00" fill="url(#g13)"/><rect x="83.20" y="20.20" width="64.00" height="111.00" fill="url(#g14)"/><rect x="87.20" y="20.20" width="60.00" height="111.00" fill="url(#g15)"/><rect x="91.20" y="20.20" width="56.00" height="111.00" fill="url(#g16)"/><rect x="95.20" y="20.20" width="52.00" height="111.00" fill="url(#g17)"/><rect x="99.20" y="20.20" width="48.00" height="111.00" fill="url(#g18)"/><rect x="103.20" y="20.20" width="44.00" height="111.00" fill="url(#g19)"/><rect x="107.20" y="20.20" width="40.00" height="111.00" fill="url(#g20)"/><rect x="111.20" y="20.20" width="36.00" height="111.00" fill="url(#g21)"/><rect x="115.20" y="20.20" width="32.00" height="111.00" fill="url(#g22)"/><rect x="119.20" y="20.20" width="28.00" height="111.00" fill="url(#g23)"/><rect x="123.20" y="20.20" width="24.00" height="111.00" fill="url(#g24)"/><rect x="127.20" y="20.20" width="20.00" height="111.00" fill="url(#g25)"/><rect x="131.20" y="20.20" width="16.00" height="111.00" fill="url(#g26)"/><rect x="135.20" y="20.20" width="12.00" height="111.00" fill="url(#g27)"/><rect x="139.20" y="20.20" width="8.00" height="111.00" fill="url(#g28)"/></g>
<path d="M31.20 121.11L33.27 120.10L35.27 119.09L37.21 118.08L39.10 117.07L40.93 116.06L42.72 115.05L44.46 114.05L46.17 113.04L47.83 112.03L49.46 111.02L51.06 110.01L52.63 109.00L54.16 107.99L55.67 106.98L57.15 105.97L58.61 104.96L60.04 103.95L61.45 102.95L62.84 101.94L64.21 100.93L65.56 99.92L66.89 98.91L68.20 97.90L69.49 96.89L70.77 95.88L72.03 94.87L73.27 93.86L74.51 92.85L75.72 91.85L76.92 90.84L78.11 89.83L79.29 88.82L80.45 87.81L81.60 86.80L82.74 85.79L83.86 84.78L84.98 83.77L86.08 82.76L87.18 81.75L88.26 80.75L89.34 79.74L90.40 78.73L91.46 77.72L92.50 76.71L93.54 75.70L94.57 74.69L95.59 73.68L96.60 72.67L97.60 71.66L98.60 70.65L99.59 69.65L100.57 68.64L101.54 67.63L102.51 66.62L103.47 65.61L104.42 64.60L105.36 63.59L106.30 62.58L107.23 61.57L108.16 60.56L109.08 59.55L109.99 58.55L110.90 57.54L111.80 56.53L112.70 55.52L113.59 54.51L114.47 53.50L115.35 52.49L116.22 51.48L117.09 50.47L117.96 49.46L118.81 48.45L119.67 47.45L120.52 46.44L121.36 45.43L122.20 44.42L123.03 43.41L123.86 42.40L124.69 41.39L125.51 40.38L126.33 39.37L127.14 38.36L127.95 37.35L128.75 36.35L129.55 35.34L130.35 34.33L131.14 33.32L131.93 32.31L132.71 31.30L133.49 30.29L134.27 29.28L135.04 28.27L135.81 27.26L136.58 26.25L137.34 25.25L138.10 24.24L138.86 23.23L139.61 22.22L140.36 21.21L141.10 20.20" fill="none" stroke="#fff" stroke-opacity="0.05" stroke-width="1"/>
<rect x="31.20" y="192.30" width="280.50" height="111.00" fill="url(#g29)"/><rect x="33.20" y="192.30" width="278.50" height="111.00" fill="url(#g30)"/><rect x="35.20" y="192.30" width="276.50" height="111.00" fill="url(#g31)"/><rect x="37.20" y="192.30" width="274.50" height="111.00" fill="url(#g32)"/><rect x="39.20" y="192.30" width="272.50" height="111.00" fill="url(#g33)"/><rect x="41.20" y="192.30" width="270.50" height="111.00" fill="url(#g34)"/><rect x="43.20" y="192.30" width="268.50" height="111.00" fill="url(#g35)"/><rect x="45.20" y="192.30" width="266.50" height="111.00" fill="url(#g36)"/><rect x="49.20" y="192.30" width="262.50" height="111.00" fill="url(#g37)"/><rect x="51.20" y="192.30" width="260.50" height="111.00" fill="url(#g38)"/><rect x="53.20" y="192.30" width="258.50" height="111.00" fill="url(#g39)"/><rect x="55.20" y="192.30" width="256.50" height="111.00" fill="url(#g40)"/><rect x="57.20" y="192.30" width="254.50" height="111.00" fill="url(#g41)"/><rect x="59.20" y="192.30" width="252.50" height="111.00" fill="url(#g42)"/><rect x="61.20" y="192.30" width="250.50" height="111.00" fill="url(#g43)"/><rect x="65.20" y="192.30" width="246.50" height="111.00" fill="url(#g44)"/><rect x="67.20" y="192.30" width="244.50" height="111.00" fill="url(#g45)"/><rect x="69.20" y="192.30" width="242.50" height="111.00" fill="url(#g46)"/><rect x="71.20" y="192.30" width="240.50" height="111.00" fill="url(#g47)"/><rect x="73.20" y="192.30" width="238.50" height="111.00" fill="url(#g48)"/><rect x="75.20" y="192.30" width="236.50" height="111.00" fill="url(#g49)"/><rect x="77.20" y="192.30" width="234.50" height="111.00" fill="url(#g50)"/><rect x="79.20" y="192.30" width="232.50" height="111.00" fill="url(#g51)"/><rect x="83.20" y="192.30" width="228.50" height="111.00" fill="url(#g52)"/><rect x="85.20" y="192.30" width="226.50" height="111.00" fill="url(#g53)"/><rect x="87.20" y="192.30" width="224.50" height="111.00" fill="url(#g54)"/><rect x="89.20" y="192.30" width="222.50" height="111.00" fill="url(#g55)"/><rect x="91.20" y="192.30" width="220.50" height="111.00" fill="url(#g56)"/><rect x="93.20" y="192.30" width="218.50" height="111.00" fill="url(#g57)"/><rect x="95.20" y="192.30" width="216.50" height="111.00" fill="url(#g58)"/><rect x="97.20" y="192.30" width="214.50" height="111.00" fill="url(#g59)"/><rect x="99.20" y="192.30" width="212.50" height="111.00" fill="url(#g60)"/><rect x="101.20" y="192.30" width="210.50" height="111.00" fill="url(#g61)"/><rect x="103.20" y="192.30" width="208.50" height="111.00" fill="url(#g62)"/><rect x="105.20" y="192.30" width="206.50" height="111.00" fill="url(#g63)"/><rect x="107.20" y="192.30" width="204.50" height="111.00" fill="url(#g64)"/><rect x="109.20" y="192.30" width="202.50" height="111.00" fill="url(#g65)"/><rect x="111.20" y="192.30" width="200.50" height="111.00" fill="url(#g66)"/><rect x="113.20" y="192.30" width="198.50" height="111.00" fill="url(#g67)"/><rect x="115.20" y="192.30" width="196.50" height="111.00" fill="url(#g68)"/><rect x="119.20" y="192.30" width="192.50" height="111.00" fill="url(#g69)"/><rect x="121.20" y="192.30" width="190.50" height="111.00" fill="url(#g70)"/><rect x="123.20" y="192.30" width="188.50" height="111.00" fill="url(#g71)"/><rect x="125.20" y="192.30" width="186.50" height="111.00" fill="url(#g72)"/><rect x="127.20" y="192.30" width="184.50" height="111.00" fill="url(#g73)"/><rect x="129.20" y="192.30" width="182.50" height="111.00" fill="url(#g74)"/><rect x="131.20" y="192.30" width="180.50" height="111.00" fill="url(#g75)"/><rect x="133.20" y="192.30" width="178.50" height="111.00" fill="url(#g76)"/><rect x="135.20" y="192.30" width="176.50" height="111.00" fill="url(#g77)"/><rect x="137.20" y="192.30" width="174.50" height="111.00" fill="url(#g78)"/><rect x="139.20" y="192.30" width="172.50" height="111.00" fill="url(#g79)"/><rect x="141.20" y="192.30" width="170.50" height="111.00" fill="url(#g80)"/><rect x="143.20" y="192.30" width="168.50" height="111.00" fill="url(#g81)"/><rect x="145.20" y="192.30" width="166.50" height="111.00" fill="url(#g82)"/><rect x="147.20" y="192.30" width="164.50" height="111.00" fill="url(#g83)"/><rect x="149.20" y="192.30" width="162.50" height="111.00" fill="url(#g84)"/><rect x="151.20" y="192.30" width="160.50" height="111.00" fill="url(#g85)"/><rect x="153.20" y="192.30" width="158.50" height="111.00" fill="url(#g86)"/><rect x="155.20" y="192.30" width="156.50" height="111.00" fill="url(#g87)"/><rect x="157.20" y="192.30" width="154.50" height="111.00" fill="url(#g88)"/><rect x="159.20" y="192.30" width="152.50" height="111.00" fill="url(#g89)"/><rect x="161.20" y="192.30" width="150.50" height="111.00" fill="url(#g90)"/><rect x="163.20" y="192.30" width="148.50" height="111.00" fill="url(#g91)"/><rect x="165.20" y="192.30" width="146.50" height="111.00" fill="url(#g92)"/><rect x="167.20" y="192.30" width="144.50" height="111.00" fill="url(#g93)"/><rect x="171.20" y="192.30" width="140.50" height="111.00" fill="url(#g94)"/><rect x="175.20" y="192.30" width="136.50" height="111.00" fill="url(#g95)"/><rect x="177.20" y="192.30" width="134.50" height="111.00" fill="url(#g96)"/><rect x="181.20" y="192.30" width="130.50" height="111.00" fill="url(#g97)"/><rect x="183.20" y="192.30" width="128.50" height="111.00" fill="url(#g98)"/><rect x="185.20" y="192.30" width="126.50" height="111.00" fill="url(#g99)"/><rect x="187.20" y="192.30" width="124.50" height="111.00" fill="url(#g100)"/><rect x="191.20" y="192.30" width="120.50" height="111.00" fill="url(#g101)"/><rect x="193.20" y="192.30" width="118.50" height="111.00" fill="url(#g102)"/><rect x="195.20" y="192.30" width="116.50" height="111.00" fill="url(#g103)"/><rect x="199.20" y="192.30" width="112.50" height="111.00" fill="url(#g104)"/><rect x="201.20" y="192.30" width="110.50" height="111.00" fill="url(#g105)"/><rect x="205.20" y="192.30" width="106.50" height="111.00" fill="url(#g106)"/><rect x="207.20" y="192.30" width="104.50" height="111.00" fill="url(#g107)"/><rect x="209.20" y="192.30" width="102.50" height="111.00" fill="url(#g108)"/><rect x="211.20" y="192.30" width="100.50" height="111.00" fill="url(#g109)"/><rect x="215.20" y="192.30" width="96.50" height="111.00" fill="url(#g110)"/><rect x="221.20" y="192.30" width="90.50" height="111.00" fill="url(#g111)"/><rect x="223.20" y="192.30" width="88.50" height="111.00" fill="url(#g112)"/><rect x="225.20" y="192.30" width="86.50" height="111.00" fill="url(#g113)"/><rect x="229.20" y="192.30" width="82.50" height="111.00" fill="url(#g114)"/><rect x="231.20" y="192.30" width="80.50" height="111.00" fill="url(#g115)"/><rect x="233.20" y="192.30" width="78.50" height="111.00" fill="url(#g116)"/><rect x="235.20" y="192.30" width="76.50" height="111.00" fill="url(#g117)"/><rect x="237.20" y="192.30" width="74.50" height="111.00" fill="url(#g118)"/><rect x="239.20" y="192.30" width="72.50" height="111.00" fill="url(#g119)"/><rect x="241.20" y="192.30" width="70.50" height="111.00" fill="url(#g120)"/><rect x="243.20" y="192.30" width="68.50" height="111.00" fill="url(#g121)"/><rect x="245.20" y="192.30" width="66.50" height="111.00" fill="url(#g122)"/><rect x="249.20" y="192.30" width="62.50" height="111.00" fill="url(#g123)"/><rect x="251.20" y="192.30" width="60.50" height="111.00" fill="url(#g124)"/><rect x="253.20" y="192.30" width="58.50" height="111.00" fill="url(#g125)"/><rect x="255.20" y="192.30" width="56.50" height="111.00" fill="url(#g126)"/><rect x="259.20" y="192.30" width="52.50" height="111.00" fill="url(#g127)"/><rect x="261.20" y="192.30" width="50.50" height="111.00" fill="url(#g128)"/><rect x="263.20" y="192.30" width="48.50" height="111.00" fill="url(#g129)"/><rect x="265.20" y="192.30" width="46.50" height="111.00" fill="url(#g130)"/><rect x="267.20" y="192.30" width="44.50" height="111.00" fill="url(#g131)"/><rect x="269.20" y="192.30" width="42.50" height="111.00" fill="url(#g132)"/><rect x="271.20" y="192.30" width="40.50" height="111.00" fill="url(#g133)"/><rect x="275.20" y="192.30" width="36.50" height="111.00" fill="url(#g134)"/><rect x="277.20" y="192.30" width="34.50" height="111.00" fill="url(#g135)"/><rect x="281.20" y="192.30" width="30.50" height="111.00" fill="url(#g136)"/><rect x="283.20" y="192.30" width="28.50" height="111.00" fill="url(#g137)"/><rect x="287.20" y="192.30" width="24.50" height="111.00" fill="url(#g138)"/><rect x="295.20" y="192.30" width="16.50" height="111.00" fill="url(#g139)"/><rect x="299.20" y="192.30" width="12.50" height="111.00" fill="url(#g140)"/><rect x="301.20" y="192.30" width="10.50" height="111.00" fill="url(#g141)"/><rect x="303.20" y="192.30" width="8.50" height="111.00" fill="url(#g142)"/><rect x="305.20" y="192.30" width="6.50" height="111.00" fill="url(#g143)"/><rect x="307.20" y="192.30" width="4.50" height="111.00" fill="url(#g144)"/>
<rect x="31.20" y="364.50" width="280.50" height="111.00" fill="url(#g145)"/><rect x="39.20" y="364.50" width="272.50" height="111.00" fill="url(#g146)"/><rect x="67.20" y="364.50" width="244.50" height="111.00" fill="url(#g147)"/><rect x="75.20" y="364.50" width="236.50" height="111.00" fill="url(#g148)"/><rect x="77.20" y="364.50" width="234.50" height="111.00" fill="url(#g149)"/><rect x="79.20" y="364.50" width="232.50" height="111.00" fill="url(#g150)"/><rect x="91.20" y="364.50" width="220.50" height="111.00" fill="url(#g151)"/><rect x="93.20" y="364.50" width="218.50" height="111.00" fill="url(#g152)"/><rect x="95.20" y="364.50" width="216.50" height="111.00" fill="url(#g153)"/><rect x="97.20" y="364.50" width="214.50" height="111.00" fill="url(#g154)"/><rect x="101.20" y="364.50" width="210.50" height="111.00" fill="url(#g155)"/><rect x="107.20" y="364.50" width="204.50" height="111.00" fill="url(#g156)"/><rect x="119.20" y="364.50" width="192.50" height="111.00" fill="url(#g157)"/><rect x="139.20" y="364.50" width="172.50" height="111.00" fill="url(#g158)"/><rect x="165.20" y="364.50" width="146.50" height="111.00" fill="url(#g159)"/><rect x="171.20" y="364.50" width="140.50" height="111.00" fill="url(#g160)"/><rect x="173.20" y="364.50" width="138.50" height="111.00" fill="url(#g161)"/><rect x="179.20" y="364.50" width="132.50" height="111.00" fill="url(#g162)"/><rect x="181.20" y="364.50" width="130.50" height="111.00" fill="url(#g163)"/><rect x="183.20" y="364.50" width="128.50" height="111.00" fill="url(#g164)"/><rect x="185.20" y="364.50" width="126.50" height="111.00" fill="url(#g165)"/><rect x="187.20" y="364.50" width="124.50" height="111.00" fill="url(#g166)"/><rect x="193.20" y="364.50" width="118.50" height="111.00" fill="url(#g167)"/><rect x="201.20" y="364.50" width="110.50" height="111.00" fill="url(#g168)"/><rect x="203.20" y="364.50" width="108.50" height="111.00" fill="url(#g169)"/><rect x="211.20" y="364.50" width="100.50" height="111.00" fill="url(#g170)"/><rect x="225.20" y="364.50" width="86.50" height="111.00" fill="url(#g171)"/><rect x="243.20" y="364.50" width="68.50" height="111.00" fill="url(#g172)"/><rect x="245.20" y="364.50" width="66.50" height="111.00" fill="url(#g173)"/><rect x="273.20" y="364.50" width="38.50" height="111.00" fill="url(#g174)"/><rect x="289.20" y="364.50" width="22.50" height="111.00" fill="url(#g175)"/>
<rect x="358.20" y="20.20" width="280.50" height="111.00" fill="url(#g176)"/><rect x="362.20" y="20.20" width="276.50" height="111.00" fill="url(#g177)"/><rect x="366.20" y="20.20" width="272.50" height="111.00" fill="url(#g178)"/><rect x="370.20" y="20.20" width="268.50" height="111.00" fill="url(#g179)"/><rect x="374.20" y="20.20" width="264.50" height="111.00" fill="url(#g180)"/><rect x="378.20" y="20.20" width="260.50" height="111.00" fill="url(#g181)"/><rect x="382.20" y="20.20" width="256.50" height="111.00" fill="url(#g182)"/><rect x="386.20" y="20.20" width="252.50" height="111.00" fill="url(#g183)"/><rect x="390.20" y="20.20" width="248.50" height="111.00" fill="url(#g184)"/><rect x="394.20" y="20.20" width="244.50" height="111.00" fill="url(#g185)"/><rect x="398.20" y="20.20" width="240.50" height="111.00" fill="url(#g186)"/><rect x="402.20" y="20.20" width="236.50" height="111.00" fill="url(#g187)"/><rect x="406.20" y="20.20" width="232.50" height="111.00" fill="url(#g188)"/><rect x="410.20" y="20.20" width="228.50" height="111.00" fill="url(#g189)"/><rect x="414.20" y="20.20" width="224.50" height="111.00" fill="url(#g190)"/><rect x="418.20" y="20.20" width="220.50" height="111.00" fill="url(#g191)"/><rect x="426.20" y="20.20" width="212.50" height="111.00" fill="url(#g192)"/><rect x="430.20" y="20.20" width="208.50" height="111.00" fill="url(#g193)"/><rect x="434.20" y="20.20" width="204.50" height="111.00" fill="url(#g194)"/><rect x="458.20" y="20.20" width="180.50" height="111.00" fill="url(#g195)"/><rect x="462.20" y="20.20" width="176.50" height="111.00" fill="url(#g196)"/><rect x="466.20" y="20.20" width="172.50" height="111.00" fill="url(#g197)"/><rect x="470.20" y="20.20" width="168.50" height="111.00" fill="url(#g198)"/><rect x="486.20" y="20.20" width="152.50" height="111.00" fill="url(#g199)"/><rect x="490.20" y="20.20" width="148.50" height="111.00" fill="url(#g200)"/><rect x="494.20" y="20.20" width="144.50" height="111.00" fill="url(#g201)"/><rect x="498.20" y="20.20" width="140.50" height="111.00" fill="url(#g202)"/><rect x="502.20" y="20.20" width="136.50" height="111.00" fill="url(#g203)"/><rect x="506.20" y="20.20" width="132.50" height="111.00" fill="url(#g204)"/><rect x="510.20" y="20.20" width="128.50" height="111.00" fill="url(#g205)"/><rect x="518.20" y="20.20" width="120.50" height="111.00" fill="url(#g206)"/><rect x="522.20" y="20.20" width="116.50" height="111.00" fill="url(#g207)"/><rect x="526.20" y="20.20" width="112.50" height="111.00" fill="url(#g208)"/><rect x="534.20" y="20.20" width="104.50" height="111.00" fill="url(#g209)"/><rect x="538.20" y="20.20" width="100.50" height="111.00" fill="url(#g210)"/><rect x="550.20" y="20.20" width="88.50" height="111.00" fill="url(#g211)"/><rect x="554.20" y="20.20" width="84.50" height="111.00" fill="url(#g212)"/><rect x="558.20" y="20.20" width="80.50" height="111.00" fill="url(#g213)"/><rect x="562.20" y="20.20" width="76.50" height="111.00" fill="url(#g214)"/><rect x="566.20" y="20.20" width="72.50" height="111.00" fill="url(#g215)"/><rect x="570.20" y="20.20" width="68.50" height="111.00" fill="url(#g216)"/><rect x="582.20" y="20.20" width="56.50" height="111.00" fill="url(#g217)"/><rect x="586.20" y="20.20" width="52.50" height="111.00" fill="url(#g218)"/><rect x="590.20" y="20.20" width="48.50" height="111.00" fill="url(#g219)"/><rect x="598.20" y="20.20" width="40.50" height="111.00" fill="url(#g220)"/><rect x="602.20" y="20.20" width="36.50" height="111.00" fill="url(#g221)"/><rect x="610.20" y="20.20" width="28.50" height="111.00" fill="url(#g222)"/><rect x="614.20" y="20.20" width="24.50" height="111.00" fill="url(#g223)"/><rect x="618.20" y="20.20" width="20.50" height="111.00" fill="url(#g224)"/><rect x="626.20" y="20.20" width="12.50" height="111.00" fill="url(#g225)"/>
<rect x="358.20" y="192.30" width="280.50" height="111.00" fill="url(#g226)"/><rect x="362.20" y="192.30" width="276.50" height="111.00" fill="url(#g227)"/><rect x="366.20" y="192.30" width="272.50" height="111.00" fill="url(#g228)"/><rect x="370.20" y="192.30" width="268.50" height="111.00" fill="url(#g229)"/><rect x="374.20" y="192.30" width="264.50" height="111.00" fill="url(#g230)"/><rect x="378.20" y="192.30" width="260.50" height="111.00" fill="url(#g231)"/><rect x="382.20" y="192.30" width="256.50" height="111.00" fill="url(#g232)"/><rect x="386.20" y="192.30" width="252.50" height="111.00" fill="url(#g233)"/><rect x="390.20" y="192.30" width="248.50" height="111.00" fill="url(#g234)"/><rect x="394.20" y="192.30" width="244.50" height="111.00" fill="url(#g235)"/><rect x="398.20" y="192.30" width="240.50" height="111.00" fill="url(#g236)"/><rect x="402.20" y="192.30" width="236.50" height="111.00" fill="url(#g237)"/><rect x="406.20" y="192.30" width="232.50" height="111.00" fill="url(#g238)"/><rect x="410.20" y="192.30" width="228.50" height="111.00" fill="url(#g239)"/><rect x="414.20" y="192.30" width="224.50" height="111.00" fill="url(#g240)"/><rect x="418.20" y="192.30" width="220.50" height="111.00" fill="url(#g241)"/><rect x="422.20" y="192.30" width="216.50" height="111.00" fill="url(#g242)"/><rect x="430.20" y="192.30" width="208.50" height="111.00" fill="url(#g243)"/><rect x="434.20" y="192.30" width="204.50" height="111.00" fill="url(#g244)"/><rect x="446.20" y="192.30" width="192.50" height="111.00" fill="url(#g245)"/><rect x="454.20" y="192.30" width="184.50" height="111.00" fill="url(#g246)"/><rect x="458.20" y="192.30" width="180.50" height="111.00" fill="url(#g247)"/><rect x="462.20" y="192.30" width="176.50" height="111.00" fill="url(#g248)"/><rect x="466.20" y="192.30" width="172.50" height="111.00" fill="url(#g249)"/><rect x="470.20" y="192.30" width="168.50" height="111.00" fill="url(#g250)"/><rect x="474.20" y="192.30" width="164.50" height="111.00" fill="url(#g251)"/><rect x="478.20" y="192.30" width="160.50" height="111.00" fill="url(#g252)"/><rect x="482.20" y="192.30" width="156.50" height="111.00" fill="url(#g253)"/><rect x="486.20" y="192.30" width="152.50" height="111.00" fill="url(#g254)"/><rect x="494.20" y="192.30" width="144.50" height="111.00" fill="url(#g255)"/><rect x="498.20" y="192.30" width="140.50" height="111.00" fill="url(#g256)"/><rect x="502.20" y="192.30" width="136.50" height="111.00" fill="url(#g257)"/><rect x="506.20" y="192.30" width="132.50" height="111.00" fill="url(#g258)"/><rect x="510.20" y="192.30" width="128.50" height="111.00" fill="url(#g259)"/><rect x="518.20" y="192.30" width="120.50" height="111.00" fill="url(#g260)"/><rect x="522.20" y="192.30" width="116.50" height="111.00" fill="url(#g261)"/><rect x="526.20" y="192.30" width="112.50" height="111.00" fill="url(#g262)"/><rect x="530.20" y="192.30" width="108.50" height="111.00" fill="url(#g263)"/><rect x="534.20" y="192.30" width="104.50" height="111.00" fill="url(#g264)"/><rect x="542.20" y="192.30" width="96.50" height="111.00" fill="url(#g265)"/><rect x="546.20" y="192.30" width="92.50" height="111.00" fill="url(#g266)"/><rect x="550.20" y="192.30" width="88.50" height="111.00" fill="url(#g267)"/><rect x="554.20" y="192.30" width="84.50" height="111.00" fill="url(#g268)"/><rect x="558.20" y="192.30" width="80.50" height="111.00" fill="url(#g269)"/><rect x="566.20" y="192.30" width="72.50" height="111.00" fill="url(#g270)"/><rect x="570.20" y="192.30" width="68.50" height="111.00" fill="url(#g271)"/><rect x="574.20" y="192.30" width="64.50" height="111.00" fill="url(#g272)"/><rect x="578.20" y="192.30" width="60.50" height="111.00" fill="url(#g273)"/><rect x="590.20" y="192.30" width="48.50" height="111.00" fill="url(#g274)"/><rect x="594.20" y="192.30" width="44.50" height="111.00" fill="url(#g275)"/><rect x="598.20" y="192.30" width="40.50" height="111.00" fill="url(#g276)"/><rect x="602.20" y="192.30" width="36.50" height="111.00" fill="url(#g277)"/><rect x="614.20" y="192.30" width="24.50" height="111.00" fill="url(#g278)"/><rect x="618.20" y="192.30" width="20.50" height="111.00" fill="url(#g279)"/><rect x="622.20" y="192.30" width="16.50" height="111.00" fill="url(#g280)"/><rect x="626.20" y="192.30" width="12.50" height="111.00" fill="url(#g281)"/><rect x="630.20" y="192.30" width="8.50" height="111.00" fill="url(#g282)"/><rect x="638.20" y="192.30" width="0.50" height="111.00" fill="url(#g283)"/>
<rect x="358.20" y="364.50" width="280.50" height="111.00" fill="url(#g284)"/><rect x="362.20" y="364.50" width="276.50" height="111.00" fill="url(#g285)"/><rect x="366.20" y="364.50" width="272.50" height="111.00" fill="url(#g286)"/><rect x="370.20" y="364.50" width="268.50" height="111.00" fill="url(#g287)"/><rect x="374.20" y="364.50" width="264.50" height="111.00" fill="url(#g288)"/><rect x="378.20" y="364.50" width="260.50" height="111.00" fill="url(#g289)"/><rect x="382.20" y="364.50" width="256.50" height="111.00" fill="url(#g290)"/><rect x="386.20" y="364.50" width="252.50" height="111.00" fill="url(#g291)"/><rect x="390.20" y="364.50" width="248.50" height="111.00" fill="url(#g292)"/><rect x="394.20" y="364.50" width="244.50" height="111.00" fill="url(#g293)"/><rect x="398.20" y="364.50" width="240.50" height="111.00" fill="url(#g294)"/><rect x="402.20" y="364.50" width="236.50" height="111.00" fill="url(#g295)"/><rect x="406.20" y="364.50" width="232.50" height="111.00" fill="url(#g296)"/><rect x="410.20" y="364.50" width="228.50" height="111.00" fill="url(#g297)"/><rect x="414.20" y="364.50" width="224.50" height="111.00" fill="url(#g298)"/><rect x="418.20" y="364.50" width="220.50" height="111.00" fill="url(#g299)"/><rect x="422.20" y="364.50" width="216.50" height="111.00" fill="url(#g300)"/><rect x="426.20" y="364.50" width="212.50" height="111.00" fill="url(#g301)"/><rect x="430.20" y="364.50" width="208.50" height="111.00" fill="url(#g302)"/><rect x="434.20" y="364.50" width="204.50" height="111.00" fill="url(#g303)"/><rect x="438.20" y="364.50" width="200.50" height="111.00" fill="url(#g304)"/><rect x="442.20" y="364.50" width="196.50" height="111.00" fill="url(#g305)"/><rect x="446.20" y="364.50" width="192.50" height="111.00" fill="url(#g306)"/><rect x="450.20" y="364.50" width="188.50" height="111.00" fill="url(#g307)"/><rect x="454.20" y="364.50" width="184.50" height="111.00" fill="url(#g308)"/><rect x="458.20" y="364.50" width="180.50" height="111.00" fill="url(#g309)"/><rect x="462.20" y="364.50" width="176.50" height="111.00" fill="url(#g310)"/><rect x="466.20" y="364.50" width="172.50" height="111.00" fill="url(#g311)"/><rect x="470.20" y="364.50" width="168.50" height="111.00" fill="url(#g312)"/><rect x="474.20" y="364.50" width="164.50" height="111.00" fill="url(#g313)"/><rect x="478.20" y="364.50" width="160.50" height="111.00" fill="url(#g314)"/><rect x="482.20" y="364.50" width="156.50" height="111.00" fill="url(#g315)"/><rect x="486.20" y="364.50" width="152.50" height="111.00" fill="url(#g316)"/><rect x="490.20" y="364.50" width="148.50" height="111.00" fill="url(#g317)"/><rect x="494.20" y="364.50" width="144.50" height="111.00" fill="url(#g318)"/><rect x="498.20" y="364.50" width="140.50" height="111.00" fill="url(#g319)"/><rect x="502.20" y="364.50" width="136.50" height="111.00" fill="url(#g320)"/><rect x="506.20" y="364.50" width="132.50" height="111.00" fill="url(#g321)"/><rect x="510.20" y="364.50" width="128.50" height="111.00" fill="url(#g322)"/><rect x="514.20" y="364.50" width="124.50" height="111.00" fill="url(#g323)"/><rect x="518.20" y="364.50" width="120.50" height="111.00" fill="url(#g324)"/><rect x="522.20" y="364.50" width="116.50" height="111.00" fill="url(#g325)"/><rect x="526.20" y="364.50" width="112.50" height="111.00" fill="url(#g326)"/><rect x="530.20" y="364.50" width="108.50" height="111.00" fill="url(#g327)"/><rect x="534.20" y="364.50" width="104.50" height="111.00" fill="url(#g328)"/><rect x="538.20" y="364.50" width="100.50" height="111.00" fill="url(#g329)"/><rect x="542.20" y="364.50" width="96.50" height="111.00" fill="url(#g330)"/><rect x="546.20" y="364.50" width="92.50" height="111.00" fill="url(#g331)"/><rect x="550.20" y="364.50" width="88.50" height="111.00" fill="url(#g332)"/><rect x="554.20" y="364.50" width="84.50" height="111.00" fill="url(#g333)"/><rect x="558.20" y="364.50" width="80.50" height="111.00" fill="url(#g334)"/><rect x="562.20" y="364.50" width="76.50" height="111.00" fill="url(#g335)"/><rect x="566.20" y="364.50" width="72.50" height="111.00" fill="url(#g336)"/><rect x="570.20" y="364.50" width="68.50" height="111.00" fill="url(#g337)"/><rect x="574.20" y="364.50" width="64.50" height="111.00" fill="url(#g338)"/><rect x="578.20" y="364.50" width="60.50" height="111.00" fill="url(#g339)"/><rect x="582.20" y="364.50" width="56.50" height="111.00" fill="url(#g340)"/><rect x="586.20" y="364.50" width="52.50" height="111.00" fill="url(#g341)"/><rect x="590.20" y="364.50" width="48.50" height="111.00" fill="url(#g342)"/><rect x="594.20" y="364.50" width="44.50" height="111.00" fill="url(#g343)"/><rect x="598.20" y="364.50" width="40.50" height="111.00" fill="url(#g344)"/><rect x="602.20" y="364.50" width="36.50" height="111.00" fill="url(#g345)"/><rect x="606.20" y="364.50" width="32.50" height="111.00" fill="url(#g346)"/><rect x="610.20" y="364.50" width="28.50" height="111.00" fill="url(#g347)"/><rect x="614.20" y="364.50" width="24.50" height="111.00" fill="url(#g348)"/><rect x="618.20" y="364.50" width="20.50" height="111.00" fill="url(#g349)"/><rect x="622.20" y="364.50" width="16.50" height="111.00" fill="url(#g350)"/><rect x="626.20" y="364.50" width="12.50" height="111.00" fill="url(#g351)"/><rect x="630.20" y="364.50" width="8.50" height="111.00" fill="url(#g352)"/><rect x="634.20" y="364.50" width="4.50" height="111.00" fill="url(#g353)"/><rect x="638.20" y="364.50" width="0.50" height="111.00" fill="url(#g354)"/></g>
<g stroke="#000" stroke-width="0.12"><rect x="31.20" y="20.20" width="280.50" height="111.00" fill="none" stroke="#000" stroke-opacity="0.6" stroke-width="0.8"/>
<text x="31.20" y="141.70" text-anchor="middle" font-size="7">0</text>
<text x="59.25" y="141.70" text-anchor="middle" font-size="7">1</text>
<text x="87.30" y="141.70" text-anchor="middle" font-size="7">2</text>
<text x="115.35" y="141.70" text-anchor="middle" font-size="7">3</text>
<text x="143.40" y="141.70" text-anchor="middle" font-size="7">4</text>
<text x="171.45" y="141.70" text-anchor="middle" font-size="7">5</text>
<text x="199.50" y="141.70" text-anchor="middle" font-size="7">6</text>
<text x="227.55" y="141.70" text-anchor="middle" font-size="7">7</text>
<text x="255.60" y="141.70" text-anchor="middle" font-size="7">8</text>
<text x="283.65" y="141.70" text-anchor="middle" font-size="7">9</text>
<text x="311.70" y="141.70" text-anchor="middle" font-size="7">10</text>
<text x="25.20" y="22.70" text-anchor="end" font-size="7">10.0</text>
<text x="25.20" y="33.91" text-anchor="end" font-size="7">9.0</text>
<text x="25.20" y="45.12" text-anchor="end" font-size="7">8.0</text>
<text x="25.20" y="56.34" text-anchor="end" font-size="7">7.0</text>
<text x="25.20" y="67.55" text-anchor="end" font-size="7">6.0</text>
<text x="25.20" y="78.76" text-anchor="end" font-size="7">5.0</text>
<text x="25.20" y="89.97" text-anchor="end" font-size="7">4.0</text>
<text x="25.20" y="101.18" text-anchor="end" font-size="7">3.0</text>
<text x="25.20" y="112.40" text-anchor="end" font-size="7">2.0</text>
<text x="25.20" y="123.61" text-anchor="end" font-size="7">1.0</text>
<text x="25.20" y="133.70" text-anchor="end" font-size="7">0.1</text>
<path d="M31.20 131.20v3M59.25 131.20v3M87.30 131.20v3M115.35 131.20v3M143.40 131.20v3M171.45 131.20v3M199.50 131.20v3M227.55 131.20v3M255.60 131.20v3M283.65 131.20v3M311.70 131.20v3M31.20 20.20h-3M31.20 31.41h-3M31.20 42.62h-3M31.20 53.84h-3M31.20 65.05h-3M31.20 76.26h-3M31.20 87.47h-3M31.20 98.68h-3M31.20 109.90h-3M31.20 121.11h-3M31.20 131.20h-3" stroke="#222" stroke-width="0.8" fill="none"/>
<text x="171.45" y="153.80" text-anchor="middle" font-size="7">Population</text>
<text transform="translate(5.40 76.30) rotate(-90)" text-anchor="middle" font-size="7">Resource Spread (σ<tspan font-size="5" dy="1.3">K</tspan><tspan dy="-1.3">)</tspan></text>
<text x="15.50" y="7.50" font-size="9.5">a)</text>
<text x="160.15" y="7.50" text-anchor="middle" font-size="9.5">Low Benefit of Specialization (<tspan font-style="italic">n</tspan> = 0.30)</text>
<rect x="31.20" y="192.30" width="280.50" height="111.00" fill="none" stroke="#000" stroke-opacity="0.6" stroke-width="0.8"/>
<text x="31.20" y="313.80" text-anchor="middle" font-size="7">0</text>
<text x="59.25" y="313.80" text-anchor="middle" font-size="7">1</text>
<text x="87.30" y="313.80" text-anchor="middle" font-size="7">2</text>
<text x="115.35" y="313.80" text-anchor="middle" font-size="7">3</text>
<text x="143.40" y="313.80" text-anchor="middle" font-size="7">4</text>
<text x="171.45" y="313.80" text-anchor="middle" font-size="7">5</text>
<text x="199.50" y="313.80" text-anchor="middle" font-size="7">6</text>
<text x="227.55" y="313.80" text-anchor="middle" font-size="7">7</text>
<text x="255.60" y="313.80" text-anchor="middle" font-size="7">8</text>
<text x="283.65" y="313.80" text-anchor="middle" font-size="7">9</text>
<text x="311.70" y="313.80" text-anchor="middle" font-size="7">10</text>
<text x="25.20" y="194.80" text-anchor="end" font-size="7">10.0</text>
<text x="25.20" y="206.01" text-anchor="end" font-size="7">9.0</text>
<text x="25.20" y="217.22" text-anchor="end" font-size="7">8.0</text>
<text x="25.20" y="228.44" text-anchor="end" font-size="7">7.0</text>
<text x="25.20" y="239.65" text-anchor="end" font-size="7">6.0</text>
<text x="25.20" y="250.86" text-anchor="end" font-size="7">5.0</text>
<text x="25.20" y="262.07" text-anchor="end" font-size="7">4.0</text>
<text x="25.20" y="273.28" text-anchor="end" font-size="7">3.0</text>
<text x="25.20" y="284.50" text-anchor="end" font-size="7">2.0</text>
<text x="25.20" y="295.71" text-anchor="end" font-size="7">1.0</text>
<text x="25.20" y="305.80" text-anchor="end" font-size="7">0.1</text>
<path d="M31.20 303.30v3M59.25 303.30v3M87.30 303.30v3M115.35 303.30v3M143.40 303.30v3M171.45 303.30v3M199.50 303.30v3M227.55 303.30v3M255.60 303.30v3M283.65 303.30v3M311.70 303.30v3M31.20 192.30h-3M31.20 203.51h-3M31.20 214.72h-3M31.20 225.94h-3M31.20 237.15h-3M31.20 248.36h-3M31.20 259.57h-3M31.20 270.78h-3M31.20 282.00h-3M31.20 293.21h-3M31.20 303.30h-3" stroke="#222" stroke-width="0.8" fill="none"/>
<text x="171.45" y="325.90" text-anchor="middle" font-size="7">Population</text>
<text transform="translate(5.40 248.40) rotate(-90)" text-anchor="middle" font-size="7">Resource Spread (σ<tspan font-size="5" dy="1.3">K</tspan><tspan dy="-1.3">)</tspan></text>
<text x="15.50" y="179.60" font-size="9.5">b)</text>
<text x="160.15" y="179.60" text-anchor="middle" font-size="9.5">Moderate Benefit of Specialization (<tspan font-style="italic">n</tspan> = 0.65)</text>
<rect x="31.20" y="364.50" width="280.50" height="111.00" fill="none" stroke="#000" stroke-opacity="0.6" stroke-width="0.8"/>
<text x="31.20" y="486.00" text-anchor="middle" font-size="7">0</text>
<text x="59.25" y="486.00" text-anchor="middle" font-size="7">1</text>
<text x="87.30" y="486.00" text-anchor="middle" font-size="7">2</text>
<text x="115.35" y="486.00" text-anchor="middle" font-size="7">3</text>
<text x="143.40" y="486.00" text-anchor="middle" font-size="7">4</text>
<text x="171.45" y="486.00" text-anchor="middle" font-size="7">5</text>
<text x="199.50" y="486.00" text-anchor="middle" font-size="7">6</text>
<text x="227.55" y="486.00" text-anchor="middle" font-size="7">7</text>
<text x="255.60" y="486.00" text-anchor="middle" font-size="7">8</text>
<text x="283.65" y="486.00" text-anchor="middle" font-size="7">9</text>
<text x="311.70" y="486.00" text-anchor="middle" font-size="7">10</text>
<text x="25.20" y="367.00" text-anchor="end" font-size="7">10.0</text>
<text x="25.20" y="378.21" text-anchor="end" font-size="7">9.0</text>
<text x="25.20" y="389.42" text-anchor="end" font-size="7">8.0</text>
<text x="25.20" y="400.64" text-anchor="end" font-size="7">7.0</text>
<text x="25.20" y="411.85" text-anchor="end" font-size="7">6.0</text>
<text x="25.20" y="423.06" text-anchor="end" font-size="7">5.0</text>
<text x="25.20" y="434.27" text-anchor="end" font-size="7">4.0</text>
<text x="25.20" y="445.48" text-anchor="end" font-size="7">3.0</text>
<text x="25.20" y="456.70" text-anchor="end" font-size="7">2.0</text>
<text x="25.20" y="467.91" text-anchor="end" font-size="7">1.0</text>
<text x="25.20" y="478.00" text-anchor="end" font-size="7">0.1</text>
<path d="M31.20 475.50v3M59.25 475.50v3M87.30 475.50v3M115.35 475.50v3M143.40 475.50v3M171.45 475.50v3M199.50 475.50v3M227.55 475.50v3M255.60 475.50v3M283.65 475.50v3M311.70 475.50v3M31.20 364.50h-3M31.20 375.71h-3M31.20 386.92h-3M31.20 398.14h-3M31.20 409.35h-3M31.20 420.56h-3M31.20 431.77h-3M31.20 442.98h-3M31.20 454.20h-3M31.20 465.41h-3M31.20 475.50h-3" stroke="#222" stroke-width="0.8" fill="none"/>
<text x="171.45" y="498.10" text-anchor="middle" font-size="7">Population</text>
<text transform="translate(5.40 420.60) rotate(-90)" text-anchor="middle" font-size="7">Resource Spread (σ<tspan font-size="5" dy="1.3">K</tspan><tspan dy="-1.3">)</tspan></text>
<text x="15.50" y="351.80" font-size="9.5">c)</text>
<text x="160.15" y="351.80" text-anchor="middle" font-size="9.5">High Benefit of Specialization (<tspan font-style="italic">n</tspan> = 4.00)</text>
<rect x="358.20" y="20.20" width="280.50" height="111.00" fill="none" stroke="#000" stroke-opacity="0.6" stroke-width="0.8"/>
<text x="358.20" y="141.70" text-anchor="middle" font-size="7">0</text>
<text x="386.25" y="141.70" text-anchor="middle" font-size="7">1</text>
<text x="414.30" y="141.70" text-anchor="middle" font-size="7">2</text>
<text x="442.35" y="141.70" text-anchor="middle" font-size="7">3</text>
<text x="470.40" y="141.70" text-anchor="middle" font-size="7">4</text>
<text x="498.45" y="141.70" text-anchor="middle" font-size="7">5</text>
<text x="526.50" y="141.70" text-anchor="middle" font-size="7">6</text>
<text x="554.55" y="141.70" text-anchor="middle" font-size="7">7</text>
<text x="582.60" y="141.70" text-anchor="middle" font-size="7">8</text>
<text x="610.65" y="141.70" text-anchor="middle" font-size="7">9</text>
<text x="638.70" y="141.70" text-anchor="middle" font-size="7">10</text>
<text x="352.90" y="22.70" text-anchor="end" font-size="7">5</text>
<text x="352.90" y="33.91" text-anchor="end" font-size="7">4.5</text>
<text x="352.90" y="45.12" text-anchor="end" font-size="7">4</text>
<text x="352.90" y="56.34" text-anchor="end" font-size="7">3.5</text>
<text x="352.90" y="67.55" text-anchor="end" font-size="7">3</text>
<text x="352.90" y="78.76" text-anchor="end" font-size="7">2.5</text>
<text x="352.90" y="89.97" text-anchor="end" font-size="7">2</text>
<text x="352.90" y="101.18" text-anchor="end" font-size="7">1.5</text>
<text x="352.90" y="112.40" text-anchor="end" font-size="7">1</text>
<text x="352.90" y="123.61" text-anchor="end" font-size="7">0.5</text>
<text x="352.90" y="133.70" text-anchor="end" font-size="7">0.05</text>
<path d="M358.20 131.20v3M386.25 131.20v3M414.30 131.20v3M442.35 131.20v3M470.40 131.20v3M498.45 131.20v3M526.50 131.20v3M554.55 131.20v3M582.60 131.20v3M610.65 131.20v3M638.70 131.20v3M358.20 20.20h-3M358.20 31.41h-3M358.20 42.62h-3M358.20 53.84h-3M358.20 65.05h-3M358.20 76.26h-3M358.20 87.47h-3M358.20 98.68h-3M358.20 109.90h-3M358.20 121.11h-3M358.20 131.20h-3" stroke="#222" stroke-width="0.8" fill="none"/>
<text x="498.45" y="153.80" text-anchor="middle" font-size="7">Population</text>
<text transform="translate(332.60 76.30) rotate(-90)" text-anchor="middle" font-size="7">Benefit of Specialization (<tspan font-style="italic">n</tspan>)</text>
<text x="342.50" y="7.50" font-size="9.5">d)</text>
<text x="487.15" y="7.50" text-anchor="middle" font-size="9.5">Low Resource Spread (σ<tspan font-size="6.6" dy="1.8">K</tspan><tspan dy="-1.8"> = 1.0)</tspan></text>
<rect x="358.20" y="192.30" width="280.50" height="111.00" fill="none" stroke="#000" stroke-opacity="0.6" stroke-width="0.8"/>
<text x="358.20" y="313.80" text-anchor="middle" font-size="7">0</text>
<text x="386.25" y="313.80" text-anchor="middle" font-size="7">1</text>
<text x="414.30" y="313.80" text-anchor="middle" font-size="7">2</text>
<text x="442.35" y="313.80" text-anchor="middle" font-size="7">3</text>
<text x="470.40" y="313.80" text-anchor="middle" font-size="7">4</text>
<text x="498.45" y="313.80" text-anchor="middle" font-size="7">5</text>
<text x="526.50" y="313.80" text-anchor="middle" font-size="7">6</text>
<text x="554.55" y="313.80" text-anchor="middle" font-size="7">7</text>
<text x="582.60" y="313.80" text-anchor="middle" font-size="7">8</text>
<text x="610.65" y="313.80" text-anchor="middle" font-size="7">9</text>
<text x="638.70" y="313.80" text-anchor="middle" font-size="7">10</text>
<text x="352.90" y="194.80" text-anchor="end" font-size="7">5</text>
<text x="352.90" y="206.01" text-anchor="end" font-size="7">4.5</text>
<text x="352.90" y="217.22" text-anchor="end" font-size="7">4</text>
<text x="352.90" y="228.44" text-anchor="end" font-size="7">3.5</text>
<text x="352.90" y="239.65" text-anchor="end" font-size="7">3</text>
<text x="352.90" y="250.86" text-anchor="end" font-size="7">2.5</text>
<text x="352.90" y="262.07" text-anchor="end" font-size="7">2</text>
<text x="352.90" y="273.28" text-anchor="end" font-size="7">1.5</text>
<text x="352.90" y="284.50" text-anchor="end" font-size="7">1</text>
<text x="352.90" y="295.71" text-anchor="end" font-size="7">0.5</text>
<text x="352.90" y="305.80" text-anchor="end" font-size="7">0.05</text>
<path d="M358.20 303.30v3M386.25 303.30v3M414.30 303.30v3M442.35 303.30v3M470.40 303.30v3M498.45 303.30v3M526.50 303.30v3M554.55 303.30v3M582.60 303.30v3M610.65 303.30v3M638.70 303.30v3M358.20 192.30h-3M358.20 203.51h-3M358.20 214.72h-3M358.20 225.94h-3M358.20 237.15h-3M358.20 248.36h-3M358.20 259.57h-3M358.20 270.78h-3M358.20 282.00h-3M358.20 293.21h-3M358.20 303.30h-3" stroke="#222" stroke-width="0.8" fill="none"/>
<text x="498.45" y="325.90" text-anchor="middle" font-size="7">Population</text>
<text transform="translate(332.60 248.40) rotate(-90)" text-anchor="middle" font-size="7">Benefit of Specialization (<tspan font-style="italic">n</tspan>)</text>
<text x="342.50" y="179.60" font-size="9.5">e)</text>
<text x="487.15" y="179.60" text-anchor="middle" font-size="9.5">Moderate Resource Spread (σ<tspan font-size="6.6" dy="1.8">K</tspan><tspan dy="-1.8"> = 1.2)</tspan></text>
<rect x="358.20" y="364.50" width="280.50" height="111.00" fill="none" stroke="#000" stroke-opacity="0.6" stroke-width="0.8"/>
<text x="358.20" y="486.00" text-anchor="middle" font-size="7">0</text>
<text x="386.25" y="486.00" text-anchor="middle" font-size="7">1</text>
<text x="414.30" y="486.00" text-anchor="middle" font-size="7">2</text>
<text x="442.35" y="486.00" text-anchor="middle" font-size="7">3</text>
<text x="470.40" y="486.00" text-anchor="middle" font-size="7">4</text>
<text x="498.45" y="486.00" text-anchor="middle" font-size="7">5</text>
<text x="526.50" y="486.00" text-anchor="middle" font-size="7">6</text>
<text x="554.55" y="486.00" text-anchor="middle" font-size="7">7</text>
<text x="582.60" y="486.00" text-anchor="middle" font-size="7">8</text>
<text x="610.65" y="486.00" text-anchor="middle" font-size="7">9</text>
<text x="638.70" y="486.00" text-anchor="middle" font-size="7">10</text>
<text x="352.90" y="367.00" text-anchor="end" font-size="7">5</text>
<text x="352.90" y="378.21" text-anchor="end" font-size="7">4.5</text>
<text x="352.90" y="389.42" text-anchor="end" font-size="7">4</text>
<text x="352.90" y="400.64" text-anchor="end" font-size="7">3.5</text>
<text x="352.90" y="411.85" text-anchor="end" font-size="7">3</text>
<text x="352.90" y="423.06" text-anchor="end" font-size="7">2.5</text>
<text x="352.90" y="434.27" text-anchor="end" font-size="7">2</text>
<text x="352.90" y="445.48" text-anchor="end" font-size="7">1.5</text>
<text x="352.90" y="456.70" text-anchor="end" font-size="7">1</text>
<text x="352.90" y="467.91" text-anchor="end" font-size="7">0.5</text>
<text x="352.90" y="478.00" text-anchor="end" font-size="7">0.05</text>
<path d="M358.20 475.50v3M386.25 475.50v3M414.30 475.50v3M442.35 475.50v3M470.40 475.50v3M498.45 475.50v3M526.50 475.50v3M554.55 475.50v3M582.60 475.50v3M610.65 475.50v3M638.70 475.50v3M358.20 364.50h-3M358.20 375.71h-3M358.20 386.92h-3M358.20 398.14h-3M358.20 409.35h-3M358.20 420.56h-3M358.20 431.77h-3M358.20 442.98h-3M358.20 454.20h-3M358.20 465.41h-3M358.20 475.50h-3" stroke="#222" stroke-width="0.8" fill="none"/>
<text x="498.45" y="498.10" text-anchor="middle" font-size="7">Population</text>
<text transform="translate(332.60 420.60) rotate(-90)" text-anchor="middle" font-size="7">Benefit of Specialization (<tspan font-style="italic">n</tspan>)</text>
<text x="342.50" y="351.80" font-size="9.5">f)</text>
<text x="487.15" y="351.80" text-anchor="middle" font-size="9.5">High Resource Spread (σ<tspan font-size="6.6" dy="1.8">K</tspan><tspan dy="-1.8"> = 10.0)</tspan></text>
<rect x="657.4" y="131.6" width="16.2" height="230.6" fill="url(#cb)" stroke="#777" stroke-width="0.7"/>
<path d="M673.6 132.4h3M673.6 361.4h3" stroke="#777" stroke-width="0.7"/>
<text x="679.6" y="135.6" font-size="7" font-style="italic">G</text>
<text x="679.6" y="364.5" font-size="7" font-style="italic">S</text></g>
</svg></body></html>
